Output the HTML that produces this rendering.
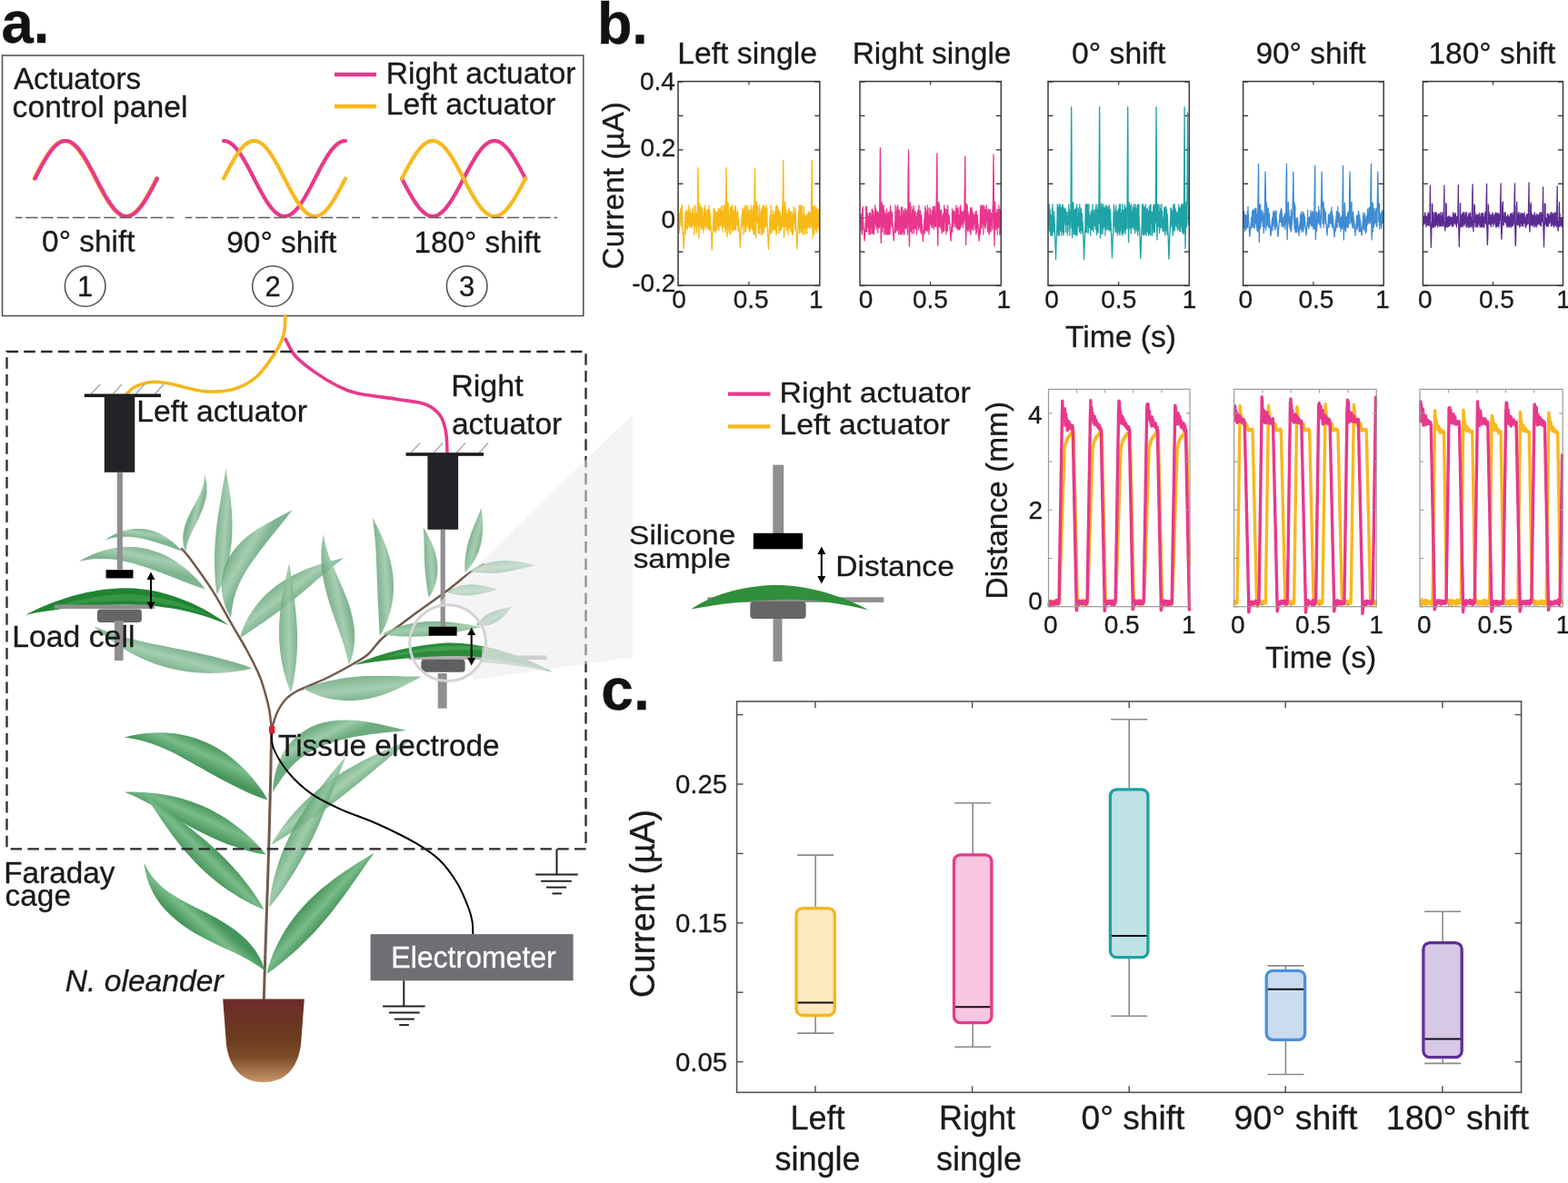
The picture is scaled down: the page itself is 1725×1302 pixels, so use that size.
<!DOCTYPE html><html><head><meta charset="utf-8"><style>html,body{margin:0;padding:0;background:#fff}svg{display:block}</style></head><body><svg width="1725" height="1302" viewBox="0 0 1725 1302" font-family="Liberation Sans, Arial, sans-serif"><text x="1.6" y="47.3" font-size="64" font-weight="bold" fill="#111" stroke="#111" stroke-width="0.3" textLength="52.8" lengthAdjust="spacingAndGlyphs" >a.</text>
<rect x="2.5" y="61" width="639.3" height="286.6" fill="none" stroke="#555" stroke-width="1.6"/>
<text x="14.9" y="97.6" font-size="33" fill="#1a1a1a" stroke="#1a1a1a" stroke-width="0.3" textLength="140.3" lengthAdjust="spacingAndGlyphs" >Actuators</text>
<text x="13.6" y="128.6" font-size="33" fill="#1a1a1a" stroke="#1a1a1a" stroke-width="0.3" textLength="193.0" lengthAdjust="spacingAndGlyphs" >control panel</text>
<line x1="368.0" y1="82.0" x2="414.0" y2="82.0" stroke="#e8388c" stroke-width="4.5" />
<line x1="368.0" y1="117.0" x2="414.0" y2="117.0" stroke="#f8b81f" stroke-width="4.5" />
<text x="424.8" y="91.8" font-size="33" fill="#1a1a1a" stroke="#1a1a1a" stroke-width="0.3" textLength="208.7" lengthAdjust="spacingAndGlyphs" >Right actuator</text>
<text x="424.8" y="126.3" font-size="33" fill="#1a1a1a" stroke="#1a1a1a" stroke-width="0.3" textLength="186.7" lengthAdjust="spacingAndGlyphs" >Left actuator</text>
<polyline points="38.5,196.5 40.2,193.2 41.9,190.0 43.5,186.8 45.2,183.7 46.9,180.6 48.6,177.7 50.3,174.8 52.0,172.1 53.6,169.5 55.3,167.2 57.0,164.9 58.7,162.9 60.4,161.1 62.0,159.5 63.7,158.2 65.4,157.0 67.1,156.1 68.8,155.5 70.4,155.1 72.1,155.0 73.8,155.1 75.5,155.5 77.2,156.1 78.8,157.0 80.5,158.2 82.2,159.5 83.9,161.1 85.6,162.9 87.3,164.9 88.9,167.2 90.6,169.5 92.3,172.1 94.0,174.8 95.7,177.7 97.3,180.6 99.0,183.7 100.7,186.8 102.4,190.0 104.1,193.2 105.8,196.5 107.4,199.8 109.1,203.0 110.8,206.2 112.5,209.3 114.2,212.4 115.8,215.3 117.5,218.2 119.2,220.9 120.9,223.5 122.6,225.8 124.2,228.1 125.9,230.1 127.6,231.9 129.3,233.5 131.0,234.8 132.6,236.0 134.3,236.9 136.0,237.5 137.7,237.9 139.4,238.0 141.1,237.9 142.7,237.5 144.4,236.9 146.1,236.0 147.8,234.8 149.5,233.5 151.1,231.9 152.8,230.1 154.5,228.1 156.2,225.8 157.9,223.5 159.6,220.9 161.2,218.2 162.9,215.3 164.6,212.4 166.3,209.3 168.0,206.2 169.6,203.0 171.3,199.8 173.0,196.5" fill="none" stroke="#f8b81f" stroke-width="4.2" stroke-linejoin="round" stroke-linecap="round" transform="translate(-1,0)"/>
<polyline points="38.5,196.5 40.2,193.2 41.9,190.0 43.5,186.8 45.2,183.7 46.9,180.6 48.6,177.7 50.3,174.8 52.0,172.1 53.6,169.5 55.3,167.2 57.0,164.9 58.7,162.9 60.4,161.1 62.0,159.5 63.7,158.2 65.4,157.0 67.1,156.1 68.8,155.5 70.4,155.1 72.1,155.0 73.8,155.1 75.5,155.5 77.2,156.1 78.8,157.0 80.5,158.2 82.2,159.5 83.9,161.1 85.6,162.9 87.3,164.9 88.9,167.2 90.6,169.5 92.3,172.1 94.0,174.8 95.7,177.7 97.3,180.6 99.0,183.7 100.7,186.8 102.4,190.0 104.1,193.2 105.8,196.5 107.4,199.8 109.1,203.0 110.8,206.2 112.5,209.3 114.2,212.4 115.8,215.3 117.5,218.2 119.2,220.9 120.9,223.5 122.6,225.8 124.2,228.1 125.9,230.1 127.6,231.9 129.3,233.5 131.0,234.8 132.6,236.0 134.3,236.9 136.0,237.5 137.7,237.9 139.4,238.0 141.1,237.9 142.7,237.5 144.4,236.9 146.1,236.0 147.8,234.8 149.5,233.5 151.1,231.9 152.8,230.1 154.5,228.1 156.2,225.8 157.9,223.5 159.6,220.9 161.2,218.2 162.9,215.3 164.6,212.4 166.3,209.3 168.0,206.2 169.6,203.0 171.3,199.8 173.0,196.5" fill="none" stroke="#e8388c" stroke-width="4.2" stroke-linejoin="round" stroke-linecap="round"/>
<polyline points="246.0,155.0 247.7,155.1 249.3,155.5 251.0,156.1 252.7,157.0 254.4,158.2 256.1,159.5 257.7,161.1 259.4,162.9 261.1,164.9 262.8,167.2 264.4,169.5 266.1,172.1 267.8,174.8 269.4,177.7 271.1,180.6 272.8,183.7 274.5,186.8 276.1,190.0 277.8,193.2 279.5,196.5 281.2,199.8 282.9,203.0 284.5,206.2 286.2,209.3 287.9,212.4 289.6,215.3 291.2,218.2 292.9,220.9 294.6,223.5 296.2,225.8 297.9,228.1 299.6,230.1 301.3,231.9 302.9,233.5 304.6,234.8 306.3,236.0 308.0,236.9 309.6,237.5 311.3,237.9 313.0,238.0 314.7,237.9 316.4,237.5 318.0,236.9 319.7,236.0 321.4,234.8 323.1,233.5 324.7,231.9 326.4,230.1 328.1,228.1 329.8,225.8 331.4,223.5 333.1,220.9 334.8,218.2 336.4,215.3 338.1,212.4 339.8,209.3 341.5,206.2 343.1,203.0 344.8,199.8 346.5,196.5 348.2,193.2 349.9,190.0 351.5,186.8 353.2,183.7 354.9,180.6 356.6,177.7 358.2,174.8 359.9,172.1 361.6,169.5 363.2,167.2 364.9,164.9 366.6,162.9 368.3,161.1 369.9,159.5 371.6,158.2 373.3,157.0 375.0,156.1 376.6,155.5 378.3,155.1 380.0,155.0" fill="none" stroke="#e8388c" stroke-width="4.2" stroke-linejoin="round" stroke-linecap="round"/>
<polyline points="246.0,196.5 247.7,193.2 249.3,190.0 251.0,186.8 252.7,183.7 254.4,180.6 256.1,177.7 257.7,174.8 259.4,172.1 261.1,169.5 262.8,167.2 264.4,164.9 266.1,162.9 267.8,161.1 269.4,159.5 271.1,158.2 272.8,157.0 274.5,156.1 276.1,155.5 277.8,155.1 279.5,155.0 281.2,155.1 282.9,155.5 284.5,156.1 286.2,157.0 287.9,158.2 289.6,159.5 291.2,161.1 292.9,162.9 294.6,164.9 296.2,167.2 297.9,169.5 299.6,172.1 301.3,174.8 302.9,177.7 304.6,180.6 306.3,183.7 308.0,186.8 309.6,190.0 311.3,193.2 313.0,196.5 314.7,199.8 316.4,203.0 318.0,206.2 319.7,209.3 321.4,212.4 323.1,215.3 324.7,218.2 326.4,220.9 328.1,223.5 329.8,225.8 331.4,228.1 333.1,230.1 334.8,231.9 336.4,233.5 338.1,234.8 339.8,236.0 341.5,236.9 343.1,237.5 344.8,237.9 346.5,238.0 348.2,237.9 349.9,237.5 351.5,236.9 353.2,236.0 354.9,234.8 356.6,233.5 358.2,231.9 359.9,230.1 361.6,228.1 363.2,225.8 364.9,223.5 366.6,220.9 368.3,218.2 369.9,215.3 371.6,212.4 373.3,209.3 375.0,206.2 376.6,203.0 378.3,199.8 380.0,196.5" fill="none" stroke="#f8b81f" stroke-width="4.2" stroke-linejoin="round" stroke-linecap="round"/>
<polyline points="442.0,196.5 443.7,199.8 445.4,203.0 447.1,206.2 448.8,209.3 450.5,212.4 452.2,215.3 453.9,218.2 455.6,220.9 457.3,223.5 459.0,225.8 460.7,228.1 462.4,230.1 464.1,231.9 465.8,233.5 467.5,234.8 469.2,236.0 470.9,236.9 472.6,237.5 474.3,237.9 476.0,238.0 477.7,237.9 479.4,237.5 481.1,236.9 482.8,236.0 484.5,234.8 486.2,233.5 487.9,231.9 489.6,230.1 491.3,228.1 493.0,225.8 494.7,223.5 496.4,220.9 498.1,218.2 499.8,215.3 501.5,212.4 503.2,209.3 504.9,206.2 506.6,203.0 508.3,199.8 510.0,196.5 511.7,193.2 513.4,190.0 515.1,186.8 516.8,183.7 518.5,180.6 520.2,177.7 521.9,174.8 523.6,172.1 525.3,169.5 527.0,167.2 528.7,164.9 530.4,162.9 532.1,161.1 533.8,159.5 535.5,158.2 537.2,157.0 538.9,156.1 540.6,155.5 542.3,155.1 544.0,155.0 545.7,155.1 547.4,155.5 549.1,156.1 550.8,157.0 552.5,158.2 554.2,159.5 555.9,161.1 557.6,162.9 559.3,164.9 561.0,167.2 562.7,169.5 564.4,172.1 566.1,174.8 567.8,177.7 569.5,180.6 571.2,183.7 572.9,186.8 574.6,190.0 576.3,193.2 578.0,196.5" fill="none" stroke="#e8388c" stroke-width="4.2" stroke-linejoin="round" stroke-linecap="round"/>
<polyline points="442.0,196.5 443.7,193.2 445.4,190.0 447.1,186.8 448.8,183.7 450.5,180.6 452.2,177.7 453.9,174.8 455.6,172.1 457.3,169.5 459.0,167.2 460.7,164.9 462.4,162.9 464.1,161.1 465.8,159.5 467.5,158.2 469.2,157.0 470.9,156.1 472.6,155.5 474.3,155.1 476.0,155.0 477.7,155.1 479.4,155.5 481.1,156.1 482.8,157.0 484.5,158.2 486.2,159.5 487.9,161.1 489.6,162.9 491.3,164.9 493.0,167.2 494.7,169.5 496.4,172.1 498.1,174.8 499.8,177.7 501.5,180.6 503.2,183.7 504.9,186.8 506.6,190.0 508.3,193.2 510.0,196.5 511.7,199.8 513.4,203.0 515.1,206.2 516.8,209.3 518.5,212.4 520.2,215.3 521.9,218.2 523.6,220.9 525.3,223.5 527.0,225.8 528.7,228.1 530.4,230.1 532.1,231.9 533.8,233.5 535.5,234.8 537.2,236.0 538.9,236.9 540.6,237.5 542.3,237.9 544.0,238.0 545.7,237.9 547.4,237.5 549.1,236.9 550.8,236.0 552.5,234.8 554.2,233.5 555.9,231.9 557.6,230.1 559.3,228.1 561.0,225.8 562.7,223.5 564.4,220.9 566.1,218.2 567.8,215.3 569.5,212.4 571.2,209.3 572.9,206.2 574.6,203.0 576.3,199.8 578.0,196.5" fill="none" stroke="#f8b81f" stroke-width="4.2" stroke-linejoin="round" stroke-linecap="round"/>
<line x1="17.0" y1="239.5" x2="191.0" y2="239.5" stroke="#5e5e5e" stroke-width="1.7" stroke-dasharray="13.4 3.8" stroke-dashoffset="6"/>
<line x1="204.0" y1="239.5" x2="396.0" y2="239.5" stroke="#5e5e5e" stroke-width="1.7" stroke-dasharray="13.4 3.8" stroke-dashoffset="6"/>
<line x1="409.0" y1="239.5" x2="613.0" y2="239.5" stroke="#5e5e5e" stroke-width="1.7" stroke-dasharray="13.4 3.8" stroke-dashoffset="6"/>
<text x="46.1" y="277.0" font-size="33" fill="#1a1a1a" stroke="#1a1a1a" stroke-width="0.3" textLength="102.4" lengthAdjust="spacingAndGlyphs" >0° shift</text>
<text x="249.2" y="278.0" font-size="33" fill="#1a1a1a" stroke="#1a1a1a" stroke-width="0.3" textLength="121.2" lengthAdjust="spacingAndGlyphs" >90° shift</text>
<text x="455.5" y="278.0" font-size="33" fill="#1a1a1a" stroke="#1a1a1a" stroke-width="0.3" textLength="139.2" lengthAdjust="spacingAndGlyphs" >180° shift</text>
<circle cx="93.7" cy="315" r="22.3" fill="none" stroke="#555" stroke-width="1.6"/>
<text x="93.7" y="326.0" font-size="31" fill="#1a1a1a" stroke="#1a1a1a" stroke-width="0.3" text-anchor="middle" >1</text>
<circle cx="300" cy="315" r="22.3" fill="none" stroke="#555" stroke-width="1.6"/>
<text x="300.0" y="326.0" font-size="31" fill="#1a1a1a" stroke="#1a1a1a" stroke-width="0.3" text-anchor="middle" >2</text>
<circle cx="513.7" cy="315" r="22.3" fill="none" stroke="#555" stroke-width="1.6"/>
<text x="513.7" y="326.0" font-size="31" fill="#1a1a1a" stroke="#1a1a1a" stroke-width="0.3" text-anchor="middle" >3</text>
<path d="M313.8,347.7 C313.7,350.1 313.8,357.8 313.2,362.0 C312.6,366.2 312.2,368.7 310.5,373.0 C308.8,377.3 307.6,381.2 303.0,388.0 C298.4,394.8 290.5,407.3 283.0,414.0 C275.5,420.7 266.9,425.2 258.0,428.0 C249.1,430.8 238.3,431.2 229.6,431.0 C220.9,430.8 213.3,428.5 206.0,427.0 C198.7,425.5 192.7,423.1 186.0,422.0 C179.3,420.9 172.3,419.8 166.0,420.5 C159.7,421.2 152.5,423.8 148.0,426.0 C143.5,428.2 140.5,432.7 139.0,434.0" fill="none" stroke="#f5b51d" stroke-width="3.6" stroke-linecap="round"/>
<path d="M313.5,372.0 C315.4,375.3 319.5,385.7 325.0,392.0 C330.5,398.3 338.9,404.3 346.4,409.6 C353.9,414.9 362.3,420.1 370.0,424.0 C377.7,427.9 381.3,430.2 392.8,432.8 C404.3,435.4 426.6,437.7 439.1,439.7 C451.6,441.7 460.5,442.1 468.0,445.0 C475.5,447.9 480.2,452.0 484.0,457.0 C487.8,462.0 489.2,468.2 490.5,475.0 C491.8,481.8 491.8,494.2 492.0,498.0" fill="none" stroke="#e8388c" stroke-width="3.6"/>
<path d="M298.9,803.0 C298.4,799.2 297.5,787.7 296.0,780.0 C294.5,772.3 292.0,763.5 290.0,757.0 C288.0,750.5 287.3,747.7 284.2,740.8 C281.1,733.9 276.6,724.8 271.5,715.5 C266.4,706.2 260.1,696.0 253.8,685.0 C247.5,674.0 240.8,661.1 233.5,649.6 C226.2,638.1 215.6,623.6 210.0,616.0 C204.4,608.4 201.7,606.0 200.0,604.0" fill="none" stroke="#6f5a4c" stroke-width="2.5" stroke-linecap="round"/>
<path d="M299.5,800.0 C300.4,797.3 302.6,789.0 305.0,784.0 C307.4,779.0 310.5,773.8 314.0,770.0 C317.5,766.2 321.3,763.7 326.0,761.0 C330.7,758.3 336.0,756.7 342.0,754.0 C348.0,751.3 354.3,748.8 362.0,745.0 C369.7,741.2 380.8,735.2 388.0,731.0 C395.2,726.8 399.7,724.7 405.0,720.0 C410.3,715.3 414.2,708.3 420.0,703.0 C425.8,697.7 433.3,693.0 440.0,688.0 C446.7,683.0 451.7,679.0 460.0,673.0 C468.3,667.0 480.0,659.0 489.6,651.8 C499.2,644.6 510.5,634.9 517.6,629.8 C524.7,624.7 529.6,622.5 532.0,621.0" fill="none" stroke="#6f5a4c" stroke-width="2.5" stroke-linecap="round"/>
<path d="M298.7,803.0 C298.5,812.5 298.1,838.8 297.6,860.0 C297.1,881.2 296.5,906.7 295.8,930.0 C295.1,953.3 294.2,978.3 293.5,1000.0 C292.8,1021.7 292.0,1043.3 291.5,1060.0 C291.0,1076.7 290.5,1093.3 290.3,1100.0" fill="none" stroke="#6f5a4c" stroke-width="3" />
<defs><linearGradient id="lg1" gradientUnits="userSpaceOnUse" x1="158.5" y1="593.3" x2="160.0" y2="582.4"><stop offset="0" stop-color="#6aa87e"/><stop offset="0.55" stop-color="#97c6a3"/><stop offset="1" stop-color="#6aa87e"/></linearGradient></defs>
<path d="M200.0,606.4 L197.3,603.3 L194.4,600.4 L191.5,597.7 L188.4,595.2 L185.2,592.9 L181.9,590.7 L178.5,588.8 L175.0,587.1 L171.4,585.6 L167.8,584.3 L164.1,583.3 L160.3,582.5 L156.5,582.1 L152.6,581.9 L148.7,581.9 L144.9,582.3 L141.0,582.9 L137.2,583.8 L133.4,585.0 L129.7,586.4 L125.9,588.1 L122.3,590.0 L118.6,592.2 L115.0,594.6 L115.0,594.6 L119.1,593.3 L123.1,592.3 L127.1,591.6 L130.9,591.0 L134.6,590.8 L138.2,590.7 L141.7,590.8 L145.1,591.0 L148.4,591.4 L151.7,591.9 L155.0,592.5 L158.2,593.2 L161.5,594.0 L164.7,594.8 L168.0,595.8 L171.3,596.7 L174.6,597.8 L178.0,598.9 L181.5,600.1 L185.0,601.3 L188.6,602.6 L192.3,603.9 L196.1,605.2 L200.0,606.4Z" fill="url(#lg1)" opacity="0.86"/>
<defs><linearGradient id="lg2" gradientUnits="userSpaceOnUse" x1="158.4" y1="623.8" x2="162.8" y2="604.3"><stop offset="0" stop-color="#6aa87e"/><stop offset="0.55" stop-color="#97c6a3"/><stop offset="1" stop-color="#6aa87e"/></linearGradient></defs>
<path d="M225.8,648.4 L221.7,643.0 L217.3,638.1 L212.7,633.4 L207.9,628.9 L203.0,624.8 L197.8,620.9 L192.5,617.3 L187.0,614.0 L181.3,611.1 L175.4,608.5 L169.5,606.4 L163.3,604.6 L157.1,603.2 L150.7,602.3 L144.3,601.9 L137.9,601.9 L131.4,602.3 L125.0,603.2 L118.6,604.6 L112.2,606.4 L105.8,608.6 L99.5,611.3 L93.2,614.3 L87.0,617.8 L87.0,617.8 L93.9,616.4 L100.7,615.6 L107.2,615.1 L113.5,615.0 L119.6,615.3 L125.4,615.8 L131.1,616.6 L136.7,617.7 L142.1,618.9 L147.4,620.3 L152.7,621.9 L157.9,623.5 L163.1,625.3 L168.3,627.2 L173.6,629.1 L179.0,631.1 L184.4,633.2 L189.9,635.3 L195.6,637.5 L201.3,639.7 L207.2,642.0 L213.2,644.2 L219.4,646.5 L225.8,648.4Z" fill="url(#lg2)" opacity="0.86"/>
<defs><linearGradient id="lg3" gradientUnits="userSpaceOnUse" x1="184.3" y1="735.1" x2="190.2" y2="712.8"><stop offset="0" stop-color="#6aa87e"/><stop offset="0.55" stop-color="#97c6a3"/><stop offset="1" stop-color="#6aa87e"/></linearGradient></defs>
<path d="M277.4,735.5 L269.9,732.6 L262.5,730.2 L255.0,728.0 L247.6,725.9 L240.3,724.0 L233.0,722.1 L225.7,720.4 L218.4,718.8 L211.2,717.2 L204.1,715.7 L196.9,714.3 L189.8,712.9 L182.6,711.5 L175.5,710.1 L168.4,708.7 L161.2,707.2 L154.1,705.6 L146.9,703.8 L139.6,702.0 L132.4,699.9 L125.1,697.6 L117.8,695.1 L110.5,692.3 L103.2,689.2 L103.2,689.2 L109.2,694.5 L115.3,699.6 L121.6,704.4 L128.1,709.0 L134.7,713.3 L141.4,717.3 L148.3,721.0 L155.4,724.4 L162.5,727.6 L169.8,730.4 L177.2,732.8 L184.7,735.0 L192.2,736.8 L199.8,738.3 L207.5,739.4 L215.2,740.3 L222.9,740.8 L230.7,740.9 L238.5,740.8 L246.2,740.4 L254.0,739.7 L261.8,738.7 L269.6,737.4 L277.4,735.5Z" fill="url(#lg3)" opacity="0.86"/>
<defs><linearGradient id="lg4" gradientUnits="userSpaceOnUse" x1="209.9" y1="563.4" x2="220.6" y2="565.9"><stop offset="0" stop-color="#6aa87e"/><stop offset="0.55" stop-color="#97c6a3"/><stop offset="1" stop-color="#6aa87e"/></linearGradient></defs>
<path d="M204.3,607.5 L205.0,603.5 L205.8,599.9 L206.9,596.4 L208.0,593.1 L209.3,589.8 L210.7,586.6 L212.2,583.5 L213.7,580.3 L215.3,577.1 L216.9,573.8 L218.5,570.4 L220.1,567.0 L221.6,563.5 L223.0,559.9 L224.3,556.3 L225.4,552.5 L226.4,548.8 L227.0,544.9 L227.5,541.0 L227.6,537.1 L227.4,533.2 L226.9,529.3 L226.0,525.4 L224.7,521.5 L224.7,521.5 L224.7,525.5 L224.4,529.3 L223.8,533.0 L222.8,536.4 L221.7,539.8 L220.4,543.1 L218.9,546.3 L217.3,549.4 L215.6,552.6 L213.9,555.8 L212.1,559.0 L210.3,562.3 L208.6,565.7 L207.0,569.2 L205.5,572.7 L204.1,576.4 L203.0,580.1 L202.1,583.9 L201.5,587.8 L201.2,591.8 L201.3,595.8 L201.8,599.8 L202.7,603.7 L204.3,607.5Z" fill="url(#lg4)" opacity="0.86"/>
<defs><linearGradient id="lg5" gradientUnits="userSpaceOnUse" x1="237.6" y1="585.0" x2="255.5" y2="586.3"><stop offset="0" stop-color="#6aa87e"/><stop offset="0.55" stop-color="#97c6a3"/><stop offset="1" stop-color="#6aa87e"/></linearGradient></defs>
<path d="M238.7,654.8 L241.4,649.3 L243.7,643.8 L245.8,638.2 L247.6,632.5 L249.3,626.8 L250.7,621.1 L252.0,615.4 L253.0,609.6 L253.9,603.8 L254.6,598.0 L255.1,592.1 L255.4,586.3 L255.5,580.4 L255.5,574.6 L255.3,568.7 L255.0,562.8 L254.5,556.9 L253.9,551.1 L253.2,545.2 L252.4,539.4 L251.5,533.5 L250.5,527.7 L249.5,521.9 L248.4,516.1 L248.4,516.1 L247.5,521.9 L246.5,527.7 L245.5,533.5 L244.5,539.3 L243.5,545.0 L242.6,550.8 L241.6,556.5 L240.7,562.2 L239.8,567.9 L239.0,573.6 L238.3,579.3 L237.7,585.0 L237.2,590.7 L236.7,596.5 L236.4,602.2 L236.1,607.9 L236.0,613.7 L236.0,619.4 L236.1,625.2 L236.3,631.1 L236.7,636.9 L237.1,642.8 L237.7,648.8 L238.7,654.8Z" fill="url(#lg5)" opacity="0.86"/>
<defs><linearGradient id="lg6" gradientUnits="userSpaceOnUse" x1="258.4" y1="604.0" x2="279.3" y2="615.8"><stop offset="0" stop-color="#6aa87e"/><stop offset="0.55" stop-color="#97c6a3"/><stop offset="1" stop-color="#6aa87e"/></linearGradient></defs>
<path d="M254.0,680.0 L255.0,672.2 L256.1,665.2 L257.5,658.8 L259.2,653.0 L261.1,647.7 L263.1,642.8 L265.3,638.2 L267.6,633.9 L270.1,629.6 L272.6,625.5 L275.3,621.3 L278.2,617.1 L281.2,612.9 L284.4,608.6 L287.7,604.2 L291.2,599.7 L294.9,595.1 L298.6,590.4 L302.4,585.7 L306.2,580.9 L310.1,576.1 L314.0,571.2 L317.8,566.3 L321.5,561.3 L321.5,561.3 L316.0,564.2 L310.5,567.1 L305.0,570.0 L299.5,572.9 L294.1,575.9 L288.7,579.0 L283.4,582.3 L278.2,585.8 L273.1,589.6 L268.3,593.6 L263.8,598.0 L259.5,602.7 L255.6,607.7 L252.1,613.1 L249.1,618.9 L246.7,625.0 L245.0,631.5 L243.9,638.1 L243.6,644.9 L244.0,651.9 L245.3,658.9 L247.3,666.0 L250.1,673.0 L254.0,680.0Z" fill="url(#lg6)" opacity="0.86"/>
<defs><linearGradient id="lg7" gradientUnits="userSpaceOnUse" x1="308.2" y1="641.4" x2="322.8" y2="660.4"><stop offset="0" stop-color="#6aa87e"/><stop offset="0.55" stop-color="#97c6a3"/><stop offset="1" stop-color="#6aa87e"/></linearGradient></defs>
<path d="M264.0,702.0 L269.7,698.6 L275.0,695.0 L280.2,691.5 L285.2,688.1 L290.1,684.7 L295.0,681.3 L299.7,677.9 L304.4,674.4 L309.0,671.0 L313.5,667.5 L318.0,664.0 L322.5,660.4 L327.0,656.7 L331.5,653.0 L335.9,649.2 L340.4,645.4 L345.0,641.5 L349.5,637.6 L354.1,633.7 L358.8,629.7 L363.5,625.8 L368.3,621.8 L373.1,617.9 L378.0,614.0 L378.0,614.0 L371.9,615.5 L365.8,617.1 L359.8,618.8 L353.8,620.6 L347.8,622.5 L341.9,624.6 L336.1,626.8 L330.3,629.3 L324.7,632.0 L319.1,634.9 L313.7,638.0 L308.5,641.4 L303.4,645.0 L298.5,648.9 L293.8,653.1 L289.3,657.5 L285.1,662.2 L281.1,667.2 L277.4,672.4 L274.0,677.8 L270.9,683.5 L268.1,689.4 L265.8,695.5 L264.0,702.0Z" fill="url(#lg7)" opacity="0.86"/>
<defs><linearGradient id="lg8" gradientUnits="userSpaceOnUse" x1="306.9" y1="690.8" x2="326.9" y2="690.6"><stop offset="0" stop-color="#6aa87e"/><stop offset="0.55" stop-color="#97c6a3"/><stop offset="1" stop-color="#6aa87e"/></linearGradient></defs>
<path d="M320.0,762.0 L321.7,755.9 L322.9,749.9 L323.9,743.9 L324.8,737.9 L325.5,732.0 L326.1,726.0 L326.6,720.1 L326.9,714.2 L327.0,708.3 L327.1,702.4 L327.0,696.5 L326.8,690.6 L326.4,684.7 L326.0,678.8 L325.4,672.9 L324.8,667.0 L324.1,661.1 L323.3,655.2 L322.5,649.3 L321.7,643.3 L320.8,637.4 L320.0,631.4 L319.1,625.4 L318.3,619.4 L318.3,619.4 L316.9,625.3 L315.5,631.2 L314.2,637.1 L313.0,643.1 L311.8,649.0 L310.7,654.9 L309.8,660.9 L308.9,666.9 L308.2,672.9 L307.7,678.9 L307.3,684.8 L307.0,690.8 L307.0,696.8 L307.1,702.8 L307.5,708.8 L308.0,714.8 L308.7,720.8 L309.7,726.7 L310.8,732.7 L312.1,738.6 L313.7,744.5 L315.5,750.4 L317.5,756.2 L320.0,762.0Z" fill="url(#lg8)" opacity="0.86"/>
<defs><linearGradient id="lg9" gradientUnits="userSpaceOnUse" x1="361.5" y1="661.4" x2="381.1" y2="657.6"><stop offset="0" stop-color="#6aa87e"/><stop offset="0.55" stop-color="#97c6a3"/><stop offset="1" stop-color="#6aa87e"/></linearGradient></defs>
<path d="M383.8,731.7 L386.5,725.5 L388.3,719.1 L389.4,712.6 L390.1,706.1 L390.2,699.6 L389.9,693.1 L389.1,686.7 L388.0,680.4 L386.5,674.2 L384.8,668.1 L382.8,662.1 L380.6,656.3 L378.3,650.6 L375.9,644.9 L373.5,639.3 L371.0,633.8 L368.6,628.3 L366.2,622.8 L364.0,617.3 L361.8,611.7 L359.9,606.0 L358.3,600.1 L356.9,594.1 L355.9,587.9 L355.9,587.9 L354.7,594.2 L353.8,600.5 L353.4,606.8 L353.3,613.2 L353.5,619.6 L354.0,625.9 L354.8,632.2 L355.9,638.5 L357.2,644.7 L358.6,650.8 L360.3,656.8 L362.0,662.7 L363.9,668.5 L365.8,674.3 L367.8,679.9 L369.8,685.5 L371.8,691.0 L373.7,696.5 L375.7,702.0 L377.5,707.6 L379.2,713.3 L380.8,719.1 L382.3,725.2 L383.8,731.7Z" fill="url(#lg9)" opacity="0.86"/>
<defs><linearGradient id="lg10" gradientUnits="userSpaceOnUse" x1="414.5" y1="634.8" x2="432.5" y2="633.7"><stop offset="0" stop-color="#6aa87e"/><stop offset="0.55" stop-color="#97c6a3"/><stop offset="1" stop-color="#6aa87e"/></linearGradient></defs>
<path d="M417.8,699.7 L421.0,694.6 L423.6,689.3 L425.8,684.0 L427.8,678.5 L429.4,673.0 L430.8,667.4 L431.8,661.8 L432.5,656.2 L432.9,650.5 L433.0,644.9 L432.8,639.2 L432.4,633.6 L431.6,628.0 L430.6,622.5 L429.4,617.0 L427.9,611.5 L426.2,606.1 L424.4,600.8 L422.3,595.5 L420.1,590.3 L417.7,585.2 L415.2,580.1 L412.5,575.0 L409.8,570.0 L409.8,570.0 L410.6,575.6 L411.3,581.2 L411.9,586.8 L412.5,592.3 L412.9,597.8 L413.3,603.2 L413.6,608.6 L413.9,613.9 L414.1,619.2 L414.3,624.5 L414.5,629.7 L414.7,634.9 L414.9,640.1 L415.1,645.3 L415.3,650.5 L415.5,655.7 L415.7,660.9 L416.0,666.2 L416.3,671.5 L416.5,676.9 L416.8,682.4 L417.0,688.0 L417.3,693.8 L417.8,699.7Z" fill="url(#lg10)" opacity="0.86"/>
<defs><linearGradient id="lg11" gradientUnits="userSpaceOnUse" x1="467.0" y1="619.0" x2="480.9" y2="618.0"><stop offset="0" stop-color="#6aa87e"/><stop offset="0.55" stop-color="#97c6a3"/><stop offset="1" stop-color="#6aa87e"/></linearGradient></defs>
<path d="M471.7,657.8 L473.8,654.8 L475.6,651.6 L477.0,648.4 L478.3,645.1 L479.3,641.7 L480.2,638.3 L480.8,634.9 L481.2,631.5 L481.4,628.1 L481.4,624.6 L481.2,621.2 L480.8,617.8 L480.2,614.5 L479.5,611.1 L478.6,607.9 L477.6,604.6 L476.4,601.4 L475.2,598.2 L473.8,595.1 L472.3,592.0 L470.7,589.0 L469.1,585.9 L467.4,583.0 L465.7,580.0 L465.7,580.0 L465.9,583.4 L466.1,586.8 L466.3,590.2 L466.4,593.5 L466.5,596.8 L466.5,600.1 L466.6,603.4 L466.7,606.6 L466.7,609.8 L466.8,612.9 L466.9,616.1 L467.1,619.2 L467.2,622.2 L467.4,625.3 L467.7,628.4 L468.0,631.5 L468.3,634.6 L468.7,637.7 L469.1,640.9 L469.5,644.1 L469.9,647.4 L470.4,650.8 L471.0,654.2 L471.7,657.8Z" fill="url(#lg11)" opacity="0.86"/>
<defs><linearGradient id="lg12" gradientUnits="userSpaceOnUse" x1="516.0" y1="593.2" x2="529.6" y2="596.7"><stop offset="0" stop-color="#6aa87e"/><stop offset="0.55" stop-color="#97c6a3"/><stop offset="1" stop-color="#6aa87e"/></linearGradient></defs>
<path d="M511.6,629.8 L514.1,627.5 L516.2,625.0 L518.2,622.4 L520.0,619.7 L521.7,617.0 L523.2,614.3 L524.6,611.5 L525.9,608.6 L527.0,605.7 L527.9,602.7 L528.8,599.7 L529.5,596.7 L530.0,593.6 L530.5,590.5 L530.8,587.4 L531.0,584.2 L531.1,581.1 L531.1,577.9 L531.0,574.8 L530.8,571.6 L530.6,568.5 L530.3,565.3 L530.0,562.1 L529.6,559.0 L529.6,559.0 L528.4,561.9 L527.2,564.8 L526.0,567.7 L524.8,570.6 L523.6,573.5 L522.4,576.3 L521.2,579.1 L520.1,581.9 L519.0,584.8 L518.0,587.6 L517.0,590.4 L516.1,593.3 L515.3,596.1 L514.5,599.0 L513.8,601.9 L513.2,604.8 L512.7,607.8 L512.2,610.8 L511.9,613.8 L511.6,616.9 L511.4,620.0 L511.3,623.2 L511.3,626.4 L511.6,629.8Z" fill="url(#lg12)" opacity="0.86"/>
<defs><linearGradient id="lg13" gradientUnits="userSpaceOnUse" x1="398.1" y1="744.1" x2="400.7" y2="770.0"><stop offset="0" stop-color="#6aa87e"/><stop offset="0.55" stop-color="#97c6a3"/><stop offset="1" stop-color="#6aa87e"/></linearGradient></defs>
<path d="M333.9,757.6 L339.2,760.8 L344.6,763.3 L350.1,765.5 L355.7,767.2 L361.3,768.7 L366.9,769.8 L372.6,770.6 L378.3,771.1 L384.0,771.2 L389.6,771.0 L395.2,770.6 L400.8,769.8 L406.4,768.8 L411.9,767.5 L417.3,765.9 L422.7,764.2 L428.0,762.2 L433.3,760.1 L438.5,757.8 L443.6,755.3 L448.7,752.8 L453.7,750.1 L458.7,747.4 L463.7,744.6 L463.7,744.6 L458.0,744.6 L452.4,744.5 L446.7,744.4 L441.1,744.3 L435.6,744.1 L430.1,744.0 L424.6,743.9 L419.2,743.9 L413.8,743.9 L408.5,743.9 L403.2,744.1 L398.0,744.3 L392.8,744.7 L387.5,745.2 L382.4,745.8 L377.2,746.5 L371.9,747.4 L366.7,748.4 L361.4,749.5 L356.1,750.8 L350.7,752.2 L345.2,753.7 L339.6,755.4 L333.9,757.6Z" fill="url(#lg13)" opacity="0.86"/>
<defs><linearGradient id="lg14" gradientUnits="userSpaceOnUse" x1="474.3" y1="683.8" x2="475.4" y2="699.7"><stop offset="0" stop-color="#6aa87e"/><stop offset="0.55" stop-color="#97c6a3"/><stop offset="1" stop-color="#6aa87e"/></linearGradient></defs>
<path d="M420.0,698.0 L424.8,698.8 L429.6,699.4 L434.2,699.8 L438.9,700.2 L443.5,700.4 L448.1,700.6 L452.6,700.7 L457.2,700.6 L461.7,700.5 L466.3,700.3 L470.8,700.0 L475.3,699.6 L479.8,699.1 L484.4,698.6 L488.9,697.9 L493.4,697.2 L498.0,696.5 L502.5,695.6 L507.1,694.8 L511.7,693.8 L516.3,692.9 L520.8,691.9 L525.4,691.0 L530.0,690.0 L530.0,690.0 L525.4,689.2 L520.8,688.4 L516.1,687.6 L511.5,686.9 L506.9,686.2 L502.3,685.6 L497.6,685.0 L493.0,684.6 L488.3,684.2 L483.7,684.0 L479.0,683.9 L474.4,683.9 L469.7,684.1 L465.1,684.4 L460.4,684.9 L455.8,685.6 L451.2,686.5 L446.6,687.5 L442.1,688.7 L437.6,690.1 L433.1,691.7 L428.6,693.5 L424.3,695.5 L420.0,698.0Z" fill="url(#lg14)" opacity="0.86"/>
<defs><linearGradient id="lg15" gradientUnits="userSpaceOnUse" x1="552.2" y1="617.0" x2="553.5" y2="630.0"><stop offset="0" stop-color="#6aa87e"/><stop offset="0.55" stop-color="#97c6a3"/><stop offset="1" stop-color="#6aa87e"/></linearGradient></defs>
<path d="M517.6,628.8 L520.8,629.5 L523.9,629.9 L527.0,630.3 L530.0,630.5 L533.0,630.7 L536.0,630.8 L538.9,630.9 L541.8,630.8 L544.7,630.7 L547.6,630.5 L550.5,630.2 L553.4,629.9 L556.3,629.4 L559.2,629.0 L562.1,628.4 L565.0,627.8 L567.9,627.1 L570.8,626.5 L573.7,625.7 L576.7,625.0 L579.6,624.2 L582.6,623.4 L585.5,622.7 L588.5,621.9 L588.5,621.9 L585.5,621.2 L582.5,620.6 L579.5,619.9 L576.5,619.3 L573.5,618.8 L570.5,618.3 L567.5,617.8 L564.4,617.5 L561.4,617.2 L558.4,617.1 L555.3,617.0 L552.3,617.1 L549.3,617.3 L546.3,617.6 L543.3,618.1 L540.3,618.6 L537.3,619.4 L534.4,620.2 L531.5,621.3 L528.6,622.4 L525.8,623.7 L523.0,625.2 L520.2,626.8 L517.6,628.8Z" fill="url(#lg15)" opacity="0.86"/>
<defs><linearGradient id="lg16" gradientUnits="userSpaceOnUse" x1="519.2" y1="643.2" x2="519.8" y2="655.2"><stop offset="0" stop-color="#6aa87e"/><stop offset="0.55" stop-color="#97c6a3"/><stop offset="1" stop-color="#6aa87e"/></linearGradient></defs>
<path d="M491.6,651.8 L494.1,652.7 L496.5,653.3 L498.9,653.9 L501.3,654.3 L503.6,654.7 L506.0,655.0 L508.3,655.2 L510.6,655.3 L512.9,655.4 L515.2,655.4 L517.4,655.3 L519.7,655.1 L522.0,654.8 L524.3,654.5 L526.6,654.1 L528.9,653.7 L531.2,653.2 L533.5,652.6 L535.8,652.0 L538.2,651.4 L540.5,650.8 L542.8,650.1 L545.2,649.5 L547.5,648.8 L547.5,648.8 L545.2,648.1 L542.8,647.5 L540.5,646.8 L538.1,646.2 L535.8,645.6 L533.4,645.1 L531.1,644.6 L528.7,644.2 L526.4,643.8 L524.0,643.5 L521.6,643.4 L519.3,643.3 L516.9,643.3 L514.5,643.4 L512.1,643.7 L509.8,644.0 L507.4,644.5 L505.1,645.1 L502.8,645.9 L500.5,646.8 L498.2,647.8 L495.9,648.9 L493.7,650.2 L491.6,651.8Z" fill="url(#lg16)" opacity="0.86"/>
<defs><linearGradient id="lg17" gradientUnits="userSpaceOnUse" x1="541.0" y1="673.7" x2="546.5" y2="684.4"><stop offset="0" stop-color="#6aa87e"/><stop offset="0.55" stop-color="#97c6a3"/><stop offset="1" stop-color="#6aa87e"/></linearGradient></defs>
<path d="M523.6,687.7 L525.8,688.3 L527.8,688.5 L529.9,688.7 L531.9,688.6 L533.8,688.5 L535.8,688.3 L537.7,687.9 L539.5,687.4 L541.3,686.8 L543.1,686.1 L544.8,685.3 L546.4,684.3 L548.0,683.3 L549.6,682.2 L551.1,681.0 L552.5,679.8 L553.9,678.4 L555.2,677.0 L556.5,675.6 L557.8,674.1 L559.0,672.5 L560.2,671.0 L561.4,669.4 L562.5,667.8 L562.5,667.8 L560.6,668.3 L558.7,668.8 L556.9,669.2 L555.0,669.6 L553.2,670.1 L551.3,670.5 L549.5,671.0 L547.8,671.5 L546.0,672.0 L544.3,672.6 L542.7,673.2 L541.0,673.8 L539.4,674.5 L537.9,675.3 L536.3,676.2 L534.8,677.1 L533.3,678.1 L531.9,679.2 L530.5,680.4 L529.0,681.6 L527.7,682.9 L526.3,684.4 L524.9,685.9 L523.6,687.7Z" fill="url(#lg17)" opacity="0.86"/>
<defs><linearGradient id="lg18" gradientUnits="userSpaceOnUse" x1="354.0" y1="795.8" x2="364.1" y2="817.6"><stop offset="0" stop-color="#5aa16e"/><stop offset="0.55" stop-color="#8fc49c"/><stop offset="1" stop-color="#5aa16e"/></linearGradient></defs>
<path d="M300.0,872.0 L305.4,863.4 L310.6,855.8 L315.8,849.2 L320.9,843.4 L326.0,838.5 L331.1,834.3 L336.2,830.7 L341.2,827.5 L346.3,824.7 L351.5,822.3 L356.8,820.1 L362.4,818.0 L368.2,816.2 L374.3,814.5 L380.6,812.9 L387.3,811.6 L394.2,810.3 L401.3,809.2 L408.6,808.1 L416.1,807.2 L423.7,806.3 L431.4,805.5 L439.2,804.8 L447.0,804.0 L447.0,804.0 L439.4,802.1 L431.8,800.2 L424.2,798.4 L416.6,796.7 L408.9,795.3 L401.3,794.0 L393.6,793.1 L386.0,792.6 L378.3,792.4 L370.7,792.8 L363.1,793.8 L355.7,795.3 L348.3,797.6 L341.3,800.6 L334.5,804.4 L328.1,809.0 L322.2,814.4 L316.9,820.6 L312.2,827.5 L308.3,835.1 L305.0,843.3 L302.5,852.2 L300.7,861.7 L300.0,872.0Z" fill="url(#lg18)" opacity="0.88"/>
<defs><linearGradient id="lg19" gradientUnits="userSpaceOnUse" x1="365.1" y1="857.5" x2="378.4" y2="875.0"><stop offset="0" stop-color="#5aa16e"/><stop offset="0.55" stop-color="#8fc49c"/><stop offset="1" stop-color="#5aa16e"/></linearGradient></defs>
<path d="M298.4,929.8 L305.8,925.6 L312.8,921.2 L319.7,916.8 L326.5,912.3 L333.2,907.8 L339.8,903.3 L346.4,898.7 L352.8,894.1 L359.3,889.4 L365.6,884.7 L371.9,879.8 L378.2,875.0 L384.4,870.0 L390.6,865.0 L396.8,860.0 L403.0,854.9 L409.2,849.7 L415.4,844.6 L421.6,839.4 L427.8,834.2 L434.1,829.0 L440.4,823.8 L446.8,818.6 L453.2,813.5 L453.2,813.5 L445.6,816.5 L437.9,819.6 L430.3,822.8 L422.8,826.0 L415.3,829.4 L407.9,832.9 L400.5,836.6 L393.3,840.4 L386.1,844.4 L379.0,848.6 L372.1,853.0 L365.3,857.5 L358.7,862.3 L352.2,867.3 L345.8,872.6 L339.7,878.0 L333.7,883.7 L328.0,889.6 L322.4,895.7 L317.1,902.1 L312.0,908.6 L307.1,915.4 L302.5,922.4 L298.4,929.8Z" fill="url(#lg19)" opacity="0.8"/>
<defs><linearGradient id="lg20" gradientUnits="userSpaceOnUse" x1="324.1" y1="908.9" x2="345.5" y2="919.7"><stop offset="0" stop-color="#5aa16e"/><stop offset="0.55" stop-color="#8fc49c"/><stop offset="1" stop-color="#5aa16e"/></linearGradient></defs>
<path d="M296.0,998.8 L301.3,992.6 L306.1,986.2 L310.7,979.8 L315.1,973.3 L319.4,966.8 L323.5,960.2 L327.5,953.6 L331.3,947.0 L335.0,940.2 L338.6,933.4 L342.0,926.6 L345.3,919.7 L348.5,912.7 L351.6,905.7 L354.6,898.6 L357.5,891.4 L360.4,884.2 L363.2,877.0 L366.0,869.8 L368.8,862.5 L371.6,855.2 L374.5,847.8 L377.3,840.5 L380.2,833.2 L380.2,833.2 L375.0,839.1 L369.9,845.1 L364.8,851.1 L359.8,857.2 L354.9,863.4 L350.0,869.6 L345.4,875.9 L340.8,882.3 L336.4,888.8 L332.2,895.4 L328.1,902.1 L324.2,908.9 L320.6,915.9 L317.1,922.9 L313.9,930.0 L310.9,937.2 L308.1,944.6 L305.6,952.0 L303.3,959.5 L301.2,967.2 L299.4,974.9 L297.9,982.7 L296.7,990.7 L296.0,998.8Z" fill="url(#lg20)" opacity="0.85"/>
<defs><linearGradient id="lg21" gradientUnits="userSpaceOnUse" x1="338.2" y1="992.5" x2="359.1" y2="1011.1"><stop offset="0" stop-color="#3f9155"/><stop offset="0.55" stop-color="#74b985"/><stop offset="1" stop-color="#3f9155"/></linearGradient></defs>
<path d="M293.5,1071.8 L300.1,1067.3 L306.2,1062.5 L312.1,1057.7 L317.9,1052.8 L323.5,1047.9 L328.9,1042.9 L334.2,1037.8 L339.4,1032.6 L344.5,1027.4 L349.4,1022.0 L354.2,1016.6 L358.9,1011.0 L363.5,1005.4 L368.1,999.6 L372.5,993.8 L376.9,987.9 L381.3,981.9 L385.6,975.8 L390.0,969.7 L394.3,963.5 L398.6,957.3 L402.9,951.1 L407.3,944.9 L411.7,938.7 L411.7,938.7 L405.2,942.6 L398.7,946.6 L392.2,950.6 L385.8,954.7 L379.4,959.0 L373.2,963.3 L367.0,967.8 L361.0,972.4 L355.1,977.1 L349.4,982.1 L343.8,987.2 L338.4,992.5 L333.3,998.0 L328.3,1003.7 L323.6,1009.6 L319.1,1015.7 L314.8,1022.1 L310.9,1028.6 L307.2,1035.3 L303.7,1042.2 L300.6,1049.2 L297.8,1056.5 L295.3,1064.0 L293.5,1071.8Z" fill="url(#lg21)" opacity="0.96"/>
<defs><linearGradient id="lg22" gradientUnits="userSpaceOnUse" x1="216.9" y1="843.0" x2="228.1" y2="817.4"><stop offset="0" stop-color="#3f9155"/><stop offset="0.55" stop-color="#74b985"/><stop offset="1" stop-color="#3f9155"/></linearGradient></defs>
<path d="M294.4,880.5 L290.5,873.5 L286.1,867.1 L281.5,860.9 L276.6,855.0 L271.5,849.3 L266.1,843.9 L260.5,838.7 L254.7,833.9 L248.6,829.3 L242.2,825.2 L235.6,821.3 L228.8,817.9 L221.8,814.9 L214.5,812.3 L207.1,810.2 L199.6,808.5 L191.9,807.3 L184.2,806.5 L176.4,806.2 L168.5,806.4 L160.6,807.0 L152.7,808.1 L144.8,809.6 L136.8,811.5 L136.8,811.5 L144.8,812.7 L152.5,814.3 L159.8,816.2 L166.9,818.5 L173.7,821.0 L180.2,823.7 L186.5,826.6 L192.6,829.6 L198.6,832.7 L204.5,835.9 L210.4,839.2 L216.2,842.5 L222.1,845.8 L228.0,849.2 L234.0,852.5 L240.1,855.9 L246.3,859.2 L252.7,862.5 L259.2,865.8 L265.8,869.0 L272.6,872.2 L279.6,875.2 L286.8,878.1 L294.4,880.5Z" fill="url(#lg22)" opacity="0.96"/>
<defs><linearGradient id="lg23" gradientUnits="userSpaceOnUse" x1="212.2" y1="911.6" x2="223.1" y2="886.9"><stop offset="0" stop-color="#3f9155"/><stop offset="0.55" stop-color="#74b985"/><stop offset="1" stop-color="#3f9155"/></linearGradient></defs>
<path d="M292.5,940.5 L287.7,934.5 L282.6,929.0 L277.4,923.8 L272.0,918.8 L266.5,914.1 L260.8,909.5 L255.0,905.2 L249.0,901.1 L242.9,897.2 L236.6,893.7 L230.1,890.3 L223.5,887.3 L216.7,884.5 L209.8,882.0 L202.8,879.7 L195.7,877.8 L188.5,876.1 L181.3,874.7 L173.9,873.6 L166.6,872.7 L159.1,872.1 L151.7,871.7 L144.3,871.6 L136.8,871.7 L136.8,871.7 L143.6,874.5 L150.3,877.6 L156.8,880.7 L163.2,884.0 L169.5,887.3 L175.6,890.8 L181.7,894.2 L187.8,897.7 L193.8,901.1 L199.8,904.5 L205.8,907.9 L211.9,911.2 L218.0,914.4 L224.2,917.6 L230.5,920.6 L236.8,923.5 L243.3,926.2 L249.9,928.9 L256.7,931.3 L263.5,933.6 L270.5,935.8 L277.6,937.7 L284.9,939.4 L292.5,940.5Z" fill="url(#lg23)" opacity="0.96"/>
<defs><linearGradient id="lg24" gradientUnits="userSpaceOnUse" x1="214.9" y1="949.5" x2="233.0" y2="930.8"><stop offset="0" stop-color="#3f9155"/><stop offset="0.55" stop-color="#74b985"/><stop offset="1" stop-color="#3f9155"/></linearGradient></defs>
<path d="M290.5,1001.0 L286.6,994.0 L282.4,987.5 L278.0,981.1 L273.5,975.0 L268.8,968.9 L264.1,963.1 L259.2,957.4 L254.1,951.8 L249.0,946.4 L243.7,941.1 L238.3,935.9 L232.8,930.9 L227.2,926.0 L221.5,921.2 L215.6,916.4 L209.7,911.8 L203.7,907.2 L197.7,902.7 L191.5,898.2 L185.4,893.8 L179.2,889.3 L172.9,884.9 L166.7,880.5 L160.5,876.0 L160.5,876.0 L164.6,882.5 L168.8,888.9 L173.0,895.3 L177.2,901.7 L181.6,908.0 L186.0,914.2 L190.5,920.4 L195.2,926.4 L199.9,932.4 L204.8,938.2 L209.9,943.8 L215.1,949.4 L220.4,954.7 L225.9,959.9 L231.6,964.9 L237.4,969.8 L243.4,974.4 L249.6,978.9 L256.0,983.1 L262.5,987.2 L269.1,991.0 L276.0,994.7 L283.0,998.1 L290.5,1001.0Z" fill="url(#lg24)" opacity="0.96"/>
<defs><linearGradient id="lg25" gradientUnits="userSpaceOnUse" x1="210.5" y1="1024.7" x2="227.9" y2="1005.3"><stop offset="0" stop-color="#3f9155"/><stop offset="0.55" stop-color="#74b985"/><stop offset="1" stop-color="#3f9155"/></linearGradient></defs>
<path d="M291.0,1068.0 L288.7,1060.2 L285.2,1052.9 L281.0,1046.1 L276.0,1039.7 L270.6,1033.8 L264.7,1028.4 L258.5,1023.4 L252.0,1018.9 L245.4,1014.7 L238.8,1010.8 L232.1,1007.2 L225.4,1003.8 L218.8,1000.5 L212.4,997.3 L206.1,994.0 L199.9,990.7 L193.9,987.3 L188.1,983.6 L182.4,979.5 L177.0,974.9 L171.8,969.8 L166.9,963.9 L162.4,957.2 L158.4,949.6 L158.4,949.6 L159.7,958.2 L161.7,966.5 L164.5,974.3 L167.9,981.7 L172.0,988.8 L176.7,995.4 L181.9,1001.5 L187.6,1007.3 L193.6,1012.6 L199.9,1017.5 L206.4,1022.0 L213.0,1026.2 L219.7,1030.0 L226.4,1033.6 L233.2,1037.0 L239.8,1040.2 L246.4,1043.3 L252.9,1046.3 L259.3,1049.3 L265.7,1052.5 L271.9,1055.8 L278.2,1059.4 L284.4,1063.5 L291.0,1068.0Z" fill="url(#lg25)" opacity="0.96"/>
<line x1="100.0" y1="434.0" x2="110.0" y2="423.0" stroke="#a7a7a9" stroke-width="1.3" />
<line x1="124.0" y1="434.0" x2="134.0" y2="423.0" stroke="#a7a7a9" stroke-width="1.3" />
<line x1="149.0" y1="434.0" x2="159.0" y2="423.0" stroke="#a7a7a9" stroke-width="1.3" />
<line x1="170.0" y1="434.0" x2="180.0" y2="423.0" stroke="#a7a7a9" stroke-width="1.3" />
<rect x="92.8" y="433.5" width="84.2" height="3.6" fill="#1b1b1b" />
<rect x="114.8" y="435.3" width="33.5" height="84.5" fill="#222326" />
<rect x="128.8" y="519.8" width="6.1" height="107.0" fill="#8f8f91" />
<rect x="116.6" y="627.2" width="29.9" height="9.2" fill="#000" />
<path d="M28,676.8 C70,655 110,647 140,647.3 C185,648 225,668 251.6,688.2 C220,674 185,666 140,665.5 C100,665.5 60,670 28,676.8 Z" fill="#1f8533"/>
<path d="M50,671 C85,659 115,654 140,654 C180,655 212,667 236,680 C208,669 180,662 140,661.5 C105,661.5 78,665 50,671 Z" fill="#3d9e4b" opacity="0.75"/>
<rect x="60.0" y="665.5" width="110.0" height="4.5" fill="#8f8f91" />
<rect x="107" y="670.5" width="48.9" height="14.5" rx="3.5" fill="#666668"/>
<rect x="126.0" y="683.0" width="9.6" height="44.0" fill="#8f8f91" />
<line x1="166.0" y1="634.0" x2="166.0" y2="666.5" stroke="#000" stroke-width="2" />
<path d="M161.5,638 L166,629.5 L170.5,638 Z M161.5,662.5 L166,671 L170.5,662.5 Z" fill="#000"/>
<line x1="452.0" y1="498.5" x2="462.0" y2="487.5" stroke="#a7a7a9" stroke-width="1.3" />
<line x1="477.0" y1="498.5" x2="487.0" y2="487.5" stroke="#a7a7a9" stroke-width="1.3" />
<line x1="502.0" y1="498.5" x2="512.0" y2="487.5" stroke="#a7a7a9" stroke-width="1.3" />
<line x1="527.0" y1="498.5" x2="537.0" y2="487.5" stroke="#a7a7a9" stroke-width="1.3" />
<rect x="446.5" y="498.2" width="85.5" height="3.6" fill="#1b1b1b" />
<rect x="470.4" y="500.0" width="33.7" height="82.8" fill="#222326" />
<rect x="484.6" y="582.8" width="5.2" height="107.0" fill="#8f8f91" />
<rect x="471.7" y="689.7" width="30.9" height="10.0" fill="#000" />
<rect x="449.7" y="721.5" width="151.7" height="4.5" fill="#b0b0b0" />
<path d="M389.8,731.7 C420,718 455,710 490,707.5 C530,706 575,722 607.4,739.6 C570,728 530,721 490,722 C455,723 420,727 389.8,731.7 Z" fill="#2b8b3a"/>
<path d="M420,724 C450,716 470,712 490,711 C515,710 535,712 550,716 C530,715 510,715 490,716 C465,717 445,720 420,724 Z" fill="#48a457" opacity="0.8"/>
<path d="M530,712 C560,716 585,727 607.4,739.6 C575,733 550,730 530,729 Z" fill="#a8c4ae" opacity="0.85"/>
<rect x="463.3" y="725.7" width="48.3" height="14" rx="3.5" fill="#5f5f61"/>
<rect x="481.7" y="741.0" width="9.9" height="38.6" fill="#8f8f91" />
<line x1="518.7" y1="695.0" x2="518.7" y2="728.5" stroke="#000" stroke-width="2" />
<path d="M514.2,699 L518.7,690.5 L523.2,699 Z M514.2,724 L518.7,732.5 L523.2,724 Z" fill="#000"/>
<path d="M298.8,803.0 C299.1,806.4 297.8,815.6 300.9,823.5 C304.0,831.4 310.7,842.2 317.6,850.6 C324.6,859.0 333.2,867.0 342.6,873.6 C352.0,880.2 361.8,884.7 374.0,890.3 C386.2,895.9 401.8,900.7 415.7,907.0 C429.6,913.3 446.0,921.2 457.4,927.9 C468.8,934.6 476.4,939.6 484.0,947.0 C491.6,954.4 497.8,963.5 503.0,972.0 C508.2,980.5 512.2,991.0 515.0,998.0 C517.8,1005.0 518.6,1009.0 519.5,1014.0 C520.4,1019.0 520.2,1025.8 520.3,1028.2" fill="none" stroke="#000" stroke-width="2"/>
<rect x="296" y="798.7" width="6.3" height="8.9" rx="1.5" fill="#e0202a"/>
<defs><linearGradient id="pot" x1="0" y1="0" x2="0" y2="1"><stop offset="0" stop-color="#6d2c2b"/><stop offset="0.45" stop-color="#6b3a1f"/><stop offset="0.7" stop-color="#7c4c28"/><stop offset="1" stop-color="#c9966a"/></linearGradient></defs>
<path d="M245.2,1099.4 L334.8,1099.4 L331,1150 C327,1178 312,1191 290,1191 C268,1191 253,1178 249,1150 Z" fill="url(#pot)"/>
<rect x="407.6" y="1028.1" width="223.0" height="51.2" fill="#6e6f73" />
<text x="430.3" y="1064.5" font-size="33.5" fill="#ffffff" stroke="#ffffff" stroke-width="0.3" textLength="181.5" lengthAdjust="spacingAndGlyphs" >Electrometer</text>
<line x1="444.3" y1="1079.3" x2="444.3" y2="1107.5" stroke="#222" stroke-width="2" />
<line x1="421.1" y1="1107.5" x2="467.6" y2="1107.5" stroke="#222" stroke-width="2" />
<line x1="427.9" y1="1114.6" x2="461.7" y2="1114.6" stroke="#222" stroke-width="2" />
<line x1="433.8" y1="1121.6" x2="455.8" y2="1121.6" stroke="#222" stroke-width="2" />
<line x1="439.2" y1="1128.1" x2="449.8" y2="1128.1" stroke="#222" stroke-width="2" />
<line x1="612.5" y1="934.4" x2="612.5" y2="962.6" stroke="#222" stroke-width="2" />
<line x1="589.2" y1="962.6" x2="635.7" y2="962.6" stroke="#222" stroke-width="2" />
<line x1="595.1" y1="969.8" x2="628.9" y2="969.8" stroke="#222" stroke-width="2" />
<line x1="601.0" y1="976.6" x2="623.0" y2="976.6" stroke="#222" stroke-width="2" />
<line x1="607.5" y1="983.4" x2="618.0" y2="983.4" stroke="#222" stroke-width="2" />
<rect x="7.5" y="387" width="637" height="547.4" fill="none" stroke="#2a2a2a" stroke-width="2.3" stroke-dasharray="12.5 6.3"/>
<defs><linearGradient id="cone" gradientUnits="userSpaceOnUse" x1="500" y1="0" x2="702" y2="0"><stop offset="0" stop-color="#e2e2e2" stop-opacity="0.8"/><stop offset="0.75" stop-color="#e9e9e9" stop-opacity="0.78"/><stop offset="0.93" stop-color="#eeeeee" stop-opacity="0.6"/><stop offset="1" stop-color="#f4f4f4" stop-opacity="0"/></linearGradient><mask id="conemask"><rect x="0" y="0" width="1725" height="1302" fill="#fff"/><circle cx="492.6" cy="707.7" r="42" fill="#000"/></mask></defs>
<path d="M470,676 L696,456 L696,723.6 L522,748 Z" fill="#ebebeb" opacity="0.52" mask="url(#conemask)"/>
<circle cx="492.6" cy="707.7" r="41.9" fill="none" stroke="#d4d4d4" stroke-width="3"/>
<text x="150.2" y="464.0" font-size="33" fill="#1a1a1a" stroke="#1a1a1a" stroke-width="0.3" textLength="187.8" lengthAdjust="spacingAndGlyphs" >Left actuator</text>
<text x="496.2" y="436.2" font-size="33" fill="#1a1a1a" stroke="#1a1a1a" stroke-width="0.3" textLength="79.5" lengthAdjust="spacingAndGlyphs" >Right</text>
<text x="496.9" y="478.4" font-size="33" fill="#1a1a1a" stroke="#1a1a1a" stroke-width="0.3" textLength="121.4" lengthAdjust="spacingAndGlyphs" >actuator</text>
<text x="13.3" y="711.7" font-size="33" fill="#1a1a1a" stroke="#1a1a1a" stroke-width="0.3" textLength="135.1" lengthAdjust="spacingAndGlyphs" >Load cell</text>
<text x="306.0" y="831.8" font-size="33" fill="#1a1a1a" stroke="#1a1a1a" stroke-width="0.3" textLength="243.7" lengthAdjust="spacingAndGlyphs" >Tissue electrode</text>
<text x="4.2" y="971.9" font-size="33" fill="#1a1a1a" stroke="#1a1a1a" stroke-width="0.3" textLength="122.2" lengthAdjust="spacingAndGlyphs" >Faraday</text>
<text x="5.5" y="997.3" font-size="33" fill="#1a1a1a" stroke="#1a1a1a" stroke-width="0.3" textLength="72.5" lengthAdjust="spacingAndGlyphs" >cage</text>
<text x="71.7" y="1091.3" font-size="33" font-style="italic" fill="#1a1a1a" stroke="#1a1a1a" stroke-width="0.3" textLength="174.0" lengthAdjust="spacingAndGlyphs" >N. oleander</text>
<text x="656.9" y="47.5" font-size="64" font-weight="bold" fill="#111" stroke="#111" stroke-width="0.3" textLength="55.9" lengthAdjust="spacingAndGlyphs" >b.</text>
<line x1="746.0" y1="90.0" x2="751.5" y2="90.0" stroke="#3a3a3a" stroke-width="1.4" />
<line x1="896.3" y1="90.0" x2="901.8" y2="90.0" stroke="#3a3a3a" stroke-width="1.4" />
<line x1="746.0" y1="127.4" x2="751.5" y2="127.4" stroke="#3a3a3a" stroke-width="1.4" />
<line x1="896.3" y1="127.4" x2="901.8" y2="127.4" stroke="#3a3a3a" stroke-width="1.4" />
<line x1="746.0" y1="164.9" x2="751.5" y2="164.9" stroke="#3a3a3a" stroke-width="1.4" />
<line x1="896.3" y1="164.9" x2="901.8" y2="164.9" stroke="#3a3a3a" stroke-width="1.4" />
<line x1="746.0" y1="202.3" x2="751.5" y2="202.3" stroke="#3a3a3a" stroke-width="1.4" />
<line x1="896.3" y1="202.3" x2="901.8" y2="202.3" stroke="#3a3a3a" stroke-width="1.4" />
<line x1="746.0" y1="239.7" x2="751.5" y2="239.7" stroke="#3a3a3a" stroke-width="1.4" />
<line x1="896.3" y1="239.7" x2="901.8" y2="239.7" stroke="#3a3a3a" stroke-width="1.4" />
<line x1="746.0" y1="277.1" x2="751.5" y2="277.1" stroke="#3a3a3a" stroke-width="1.4" />
<line x1="896.3" y1="277.1" x2="901.8" y2="277.1" stroke="#3a3a3a" stroke-width="1.4" />
<line x1="746.0" y1="314.5" x2="751.5" y2="314.5" stroke="#3a3a3a" stroke-width="1.4" />
<line x1="896.3" y1="314.5" x2="901.8" y2="314.5" stroke="#3a3a3a" stroke-width="1.4" />
<line x1="823.9" y1="89.6" x2="823.9" y2="93.6" stroke="#3a3a3a" stroke-width="1.2" />
<line x1="823.9" y1="314.1" x2="823.9" y2="310.1" stroke="#3a3a3a" stroke-width="1.2" />
<line x1="946.0" y1="90.0" x2="951.5" y2="90.0" stroke="#3a3a3a" stroke-width="1.4" />
<line x1="1095.8" y1="90.0" x2="1101.3" y2="90.0" stroke="#3a3a3a" stroke-width="1.4" />
<line x1="946.0" y1="127.4" x2="951.5" y2="127.4" stroke="#3a3a3a" stroke-width="1.4" />
<line x1="1095.8" y1="127.4" x2="1101.3" y2="127.4" stroke="#3a3a3a" stroke-width="1.4" />
<line x1="946.0" y1="164.9" x2="951.5" y2="164.9" stroke="#3a3a3a" stroke-width="1.4" />
<line x1="1095.8" y1="164.9" x2="1101.3" y2="164.9" stroke="#3a3a3a" stroke-width="1.4" />
<line x1="946.0" y1="202.3" x2="951.5" y2="202.3" stroke="#3a3a3a" stroke-width="1.4" />
<line x1="1095.8" y1="202.3" x2="1101.3" y2="202.3" stroke="#3a3a3a" stroke-width="1.4" />
<line x1="946.0" y1="239.7" x2="951.5" y2="239.7" stroke="#3a3a3a" stroke-width="1.4" />
<line x1="1095.8" y1="239.7" x2="1101.3" y2="239.7" stroke="#3a3a3a" stroke-width="1.4" />
<line x1="946.0" y1="277.1" x2="951.5" y2="277.1" stroke="#3a3a3a" stroke-width="1.4" />
<line x1="1095.8" y1="277.1" x2="1101.3" y2="277.1" stroke="#3a3a3a" stroke-width="1.4" />
<line x1="946.0" y1="314.5" x2="951.5" y2="314.5" stroke="#3a3a3a" stroke-width="1.4" />
<line x1="1095.8" y1="314.5" x2="1101.3" y2="314.5" stroke="#3a3a3a" stroke-width="1.4" />
<line x1="1023.6" y1="89.6" x2="1023.6" y2="93.6" stroke="#3a3a3a" stroke-width="1.2" />
<line x1="1023.6" y1="314.1" x2="1023.6" y2="310.1" stroke="#3a3a3a" stroke-width="1.2" />
<line x1="1153.0" y1="90.0" x2="1158.5" y2="90.0" stroke="#3a3a3a" stroke-width="1.4" />
<line x1="1302.8" y1="90.0" x2="1308.3" y2="90.0" stroke="#3a3a3a" stroke-width="1.4" />
<line x1="1153.0" y1="127.4" x2="1158.5" y2="127.4" stroke="#3a3a3a" stroke-width="1.4" />
<line x1="1302.8" y1="127.4" x2="1308.3" y2="127.4" stroke="#3a3a3a" stroke-width="1.4" />
<line x1="1153.0" y1="164.9" x2="1158.5" y2="164.9" stroke="#3a3a3a" stroke-width="1.4" />
<line x1="1302.8" y1="164.9" x2="1308.3" y2="164.9" stroke="#3a3a3a" stroke-width="1.4" />
<line x1="1153.0" y1="202.3" x2="1158.5" y2="202.3" stroke="#3a3a3a" stroke-width="1.4" />
<line x1="1302.8" y1="202.3" x2="1308.3" y2="202.3" stroke="#3a3a3a" stroke-width="1.4" />
<line x1="1153.0" y1="239.7" x2="1158.5" y2="239.7" stroke="#3a3a3a" stroke-width="1.4" />
<line x1="1302.8" y1="239.7" x2="1308.3" y2="239.7" stroke="#3a3a3a" stroke-width="1.4" />
<line x1="1153.0" y1="277.1" x2="1158.5" y2="277.1" stroke="#3a3a3a" stroke-width="1.4" />
<line x1="1302.8" y1="277.1" x2="1308.3" y2="277.1" stroke="#3a3a3a" stroke-width="1.4" />
<line x1="1153.0" y1="314.5" x2="1158.5" y2="314.5" stroke="#3a3a3a" stroke-width="1.4" />
<line x1="1302.8" y1="314.5" x2="1308.3" y2="314.5" stroke="#3a3a3a" stroke-width="1.4" />
<line x1="1230.7" y1="89.6" x2="1230.7" y2="93.6" stroke="#3a3a3a" stroke-width="1.2" />
<line x1="1230.7" y1="314.1" x2="1230.7" y2="310.1" stroke="#3a3a3a" stroke-width="1.2" />
<line x1="1367.6" y1="90.0" x2="1373.1" y2="90.0" stroke="#3a3a3a" stroke-width="1.4" />
<line x1="1516.7" y1="90.0" x2="1522.2" y2="90.0" stroke="#3a3a3a" stroke-width="1.4" />
<line x1="1367.6" y1="127.4" x2="1373.1" y2="127.4" stroke="#3a3a3a" stroke-width="1.4" />
<line x1="1516.7" y1="127.4" x2="1522.2" y2="127.4" stroke="#3a3a3a" stroke-width="1.4" />
<line x1="1367.6" y1="164.9" x2="1373.1" y2="164.9" stroke="#3a3a3a" stroke-width="1.4" />
<line x1="1516.7" y1="164.9" x2="1522.2" y2="164.9" stroke="#3a3a3a" stroke-width="1.4" />
<line x1="1367.6" y1="202.3" x2="1373.1" y2="202.3" stroke="#3a3a3a" stroke-width="1.4" />
<line x1="1516.7" y1="202.3" x2="1522.2" y2="202.3" stroke="#3a3a3a" stroke-width="1.4" />
<line x1="1367.6" y1="239.7" x2="1373.1" y2="239.7" stroke="#3a3a3a" stroke-width="1.4" />
<line x1="1516.7" y1="239.7" x2="1522.2" y2="239.7" stroke="#3a3a3a" stroke-width="1.4" />
<line x1="1367.6" y1="277.1" x2="1373.1" y2="277.1" stroke="#3a3a3a" stroke-width="1.4" />
<line x1="1516.7" y1="277.1" x2="1522.2" y2="277.1" stroke="#3a3a3a" stroke-width="1.4" />
<line x1="1367.6" y1="314.5" x2="1373.1" y2="314.5" stroke="#3a3a3a" stroke-width="1.4" />
<line x1="1516.7" y1="314.5" x2="1522.2" y2="314.5" stroke="#3a3a3a" stroke-width="1.4" />
<line x1="1444.9" y1="89.6" x2="1444.9" y2="93.6" stroke="#3a3a3a" stroke-width="1.2" />
<line x1="1444.9" y1="314.1" x2="1444.9" y2="310.1" stroke="#3a3a3a" stroke-width="1.2" />
<line x1="1565.4" y1="90.0" x2="1570.9" y2="90.0" stroke="#3a3a3a" stroke-width="1.4" />
<line x1="1714.0" y1="90.0" x2="1719.5" y2="90.0" stroke="#3a3a3a" stroke-width="1.4" />
<line x1="1565.4" y1="127.4" x2="1570.9" y2="127.4" stroke="#3a3a3a" stroke-width="1.4" />
<line x1="1714.0" y1="127.4" x2="1719.5" y2="127.4" stroke="#3a3a3a" stroke-width="1.4" />
<line x1="1565.4" y1="164.9" x2="1570.9" y2="164.9" stroke="#3a3a3a" stroke-width="1.4" />
<line x1="1714.0" y1="164.9" x2="1719.5" y2="164.9" stroke="#3a3a3a" stroke-width="1.4" />
<line x1="1565.4" y1="202.3" x2="1570.9" y2="202.3" stroke="#3a3a3a" stroke-width="1.4" />
<line x1="1714.0" y1="202.3" x2="1719.5" y2="202.3" stroke="#3a3a3a" stroke-width="1.4" />
<line x1="1565.4" y1="239.7" x2="1570.9" y2="239.7" stroke="#3a3a3a" stroke-width="1.4" />
<line x1="1714.0" y1="239.7" x2="1719.5" y2="239.7" stroke="#3a3a3a" stroke-width="1.4" />
<line x1="1565.4" y1="277.1" x2="1570.9" y2="277.1" stroke="#3a3a3a" stroke-width="1.4" />
<line x1="1714.0" y1="277.1" x2="1719.5" y2="277.1" stroke="#3a3a3a" stroke-width="1.4" />
<line x1="1565.4" y1="314.5" x2="1570.9" y2="314.5" stroke="#3a3a3a" stroke-width="1.4" />
<line x1="1714.0" y1="314.5" x2="1719.5" y2="314.5" stroke="#3a3a3a" stroke-width="1.4" />
<line x1="1642.5" y1="89.6" x2="1642.5" y2="93.6" stroke="#3a3a3a" stroke-width="1.2" />
<line x1="1642.5" y1="314.1" x2="1642.5" y2="310.1" stroke="#3a3a3a" stroke-width="1.2" />
<polyline points="746.7,242.7 746.8,251.4 746.9,235.0 747.0,249.4 747.1,240.1 747.3,240.0 747.4,256.2 747.5,243.2 747.6,241.7 747.7,247.5 747.8,250.5 747.9,241.8 748.0,246.4 748.1,234.7 748.2,239.2 748.4,238.7 748.5,232.0 748.6,230.7 748.7,229.8 748.8,240.2 748.9,240.7 749.0,239.6 749.1,242.5 749.2,232.0 749.3,241.4 749.5,243.8 749.6,247.6 749.7,235.7 749.8,239.0 749.9,226.9 750.0,238.2 750.1,226.0 750.2,231.4 750.3,250.3 750.5,226.0 750.6,248.0 750.7,243.2 750.8,246.4 750.9,248.0 751.0,250.0 751.1,252.9 751.2,256.3 751.3,256.5 751.4,257.8 751.6,259.9 751.7,264.1 751.8,265.0 751.9,268.5 752.0,270.9 752.1,272.7 752.1,274.0 752.2,268.9 752.3,269.9 752.4,266.9 752.5,265.9 752.7,261.7 752.8,259.4 752.9,256.4 753.0,253.0 753.1,252.5 753.2,250.6 753.3,247.8 753.4,246.5 753.5,242.9 753.7,256.6 753.8,246.0 753.9,234.6 754.0,258.0 754.1,247.8 754.2,237.6 754.3,233.2 754.4,244.2 754.5,235.8 754.6,234.1 754.8,232.3 754.9,238.2 755.0,250.3 755.1,238.7 755.2,231.1 755.3,247.0 755.4,242.5 755.5,248.3 755.6,251.0 755.7,240.7 755.9,240.9 756.0,241.7 756.1,233.5 756.2,247.0 756.3,252.3 756.4,243.3 756.5,240.2 756.6,240.1 756.7,236.1 756.9,236.0 757.0,239.0 757.1,235.7 757.2,238.7 757.3,230.2 757.4,244.6 757.5,242.4 757.6,233.4 757.7,226.0 757.8,241.9 758.0,250.3 758.1,236.5 758.2,238.4 758.3,237.7 758.4,246.9 758.5,235.1 758.6,249.4 758.7,239.7 758.8,248.9 758.9,242.2 759.1,240.3 759.2,230.9 759.3,236.8 759.4,240.0 759.5,246.9 759.6,243.8 759.7,236.8 759.8,245.1 759.9,249.4 760.1,240.9 760.2,238.7 760.3,239.0 760.4,248.1 760.5,246.0 760.6,235.0 760.7,244.8 760.8,238.4 760.9,236.4 761.0,251.3 761.2,248.2 761.3,236.6 761.4,242.6 761.5,245.8 761.6,237.2 761.7,241.1 761.8,247.0 761.9,228.6 762.0,244.5 762.2,247.5 762.3,245.8 762.4,231.9 762.5,244.4 762.6,235.5 762.7,246.3 762.8,246.5 762.9,243.6 763.0,236.3 763.1,237.6 763.3,248.4 763.4,235.3 763.5,245.7 763.6,245.8 763.7,239.9 763.8,258.0 763.9,242.5 764.0,258.0 764.1,226.9 764.2,226.0 764.4,249.4 764.5,246.8 764.6,239.7 764.7,241.6 764.8,227.7 764.9,237.3 765.0,234.2 765.1,240.3 765.2,248.6 765.4,242.4 765.5,244.8 765.6,236.8 765.7,238.7 765.8,242.8 765.9,239.9 766.0,251.5 766.1,235.4 766.2,256.2 766.3,234.6 766.5,249.9 766.6,236.2 766.7,254.4 766.8,243.0 766.9,245.0 767.0,247.6 767.1,237.2 767.2,234.2 767.3,229.5 767.4,222.0 767.6,214.6 767.7,207.1 767.8,199.6 767.9,192.1 768.0,184.7 768.0,184.6 768.1,192.0 768.2,199.5 768.3,206.9 768.4,246.1 768.6,250.9 768.7,253.4 768.8,257.5 768.9,260.3 768.9,262.3 769.0,261.1 769.1,255.6 769.2,249.8 769.3,246.2 769.4,241.1 769.5,227.5 769.7,245.1 769.8,248.5 769.9,232.2 770.0,225.8 770.1,223.8 770.2,242.3 770.3,236.5 770.4,243.4 770.5,230.7 770.6,239.4 770.8,249.1 770.9,245.4 771.0,228.2 771.1,248.9 771.2,248.7 771.3,239.2 771.4,252.6 771.5,234.1 771.6,241.4 771.8,250.4 771.9,251.8 772.0,251.6 772.1,233.8 772.2,228.6 772.3,244.9 772.4,231.3 772.5,241.0 772.6,232.4 772.7,250.0 772.9,248.0 773.0,246.2 773.1,242.1 773.2,242.3 773.3,239.8 773.4,244.9 773.5,243.9 773.6,245.4 773.7,238.8 773.8,256.2 774.0,244.1 774.1,252.5 774.2,252.0 774.3,235.4 774.4,229.3 774.5,251.4 774.6,239.1 774.7,242.6 774.8,240.1 775.0,243.0 775.1,233.1 775.2,241.2 775.3,238.5 775.4,241.9 775.5,226.0 775.6,248.2 775.7,244.5 775.8,229.0 775.9,236.5 776.1,242.2 776.2,246.7 776.3,242.0 776.4,252.4 776.5,242.2 776.6,234.5 776.7,236.9 776.8,247.6 776.9,237.4 777.0,248.3 777.2,249.7 777.3,246.4 777.4,249.6 777.5,240.7 777.6,241.9 777.7,237.6 777.8,237.4 777.9,230.3 778.0,237.8 778.2,234.0 778.3,231.3 778.4,243.1 778.5,245.4 778.6,239.4 778.7,252.3 778.8,249.1 778.9,249.8 779.0,237.5 779.1,230.8 779.3,246.2 779.4,244.3 779.5,247.4 779.6,245.1 779.7,251.5 779.8,239.8 779.9,247.0 780.0,235.3 780.1,226.0 780.2,238.7 780.4,253.2 780.5,229.4 780.6,249.6 780.7,236.9 780.8,239.0 780.9,242.3 781.0,243.6 781.1,234.7 781.2,242.9 781.4,245.3 781.5,248.3 781.6,236.3 781.7,253.6 781.8,246.4 781.9,246.5 782.0,249.0 782.1,249.9 782.2,253.5 782.3,254.9 782.5,255.5 782.6,260.5 782.7,264.3 782.8,262.8 782.9,266.8 783.0,270.4 783.1,273.5 783.2,272.1 783.2,275.2 783.3,271.8 783.4,268.1 783.6,267.2 783.7,264.8 783.8,260.8 783.9,259.2 784.0,257.3 784.1,255.8 784.2,251.9 784.3,249.7 784.4,248.9 784.6,246.5 784.7,242.5 784.8,248.8 784.9,239.4 785.0,243.8 785.1,229.5 785.2,238.8 785.3,252.8 785.4,234.3 785.5,230.8 785.7,240.8 785.8,254.5 785.9,252.9 786.0,239.3 786.1,238.4 786.2,241.2 786.3,235.0 786.4,242.3 786.5,239.7 786.6,230.9 786.8,237.7 786.9,240.1 787.0,235.5 787.1,233.6 787.2,248.8 787.3,256.2 787.4,239.8 787.5,238.8 787.6,245.8 787.8,240.3 787.9,236.1 788.0,252.4 788.1,234.2 788.2,236.5 788.3,237.0 788.4,235.4 788.5,240.2 788.6,246.3 788.7,252.8 788.9,247.0 789.0,242.3 789.1,232.6 789.2,241.5 789.3,234.9 789.4,241.3 789.5,249.3 789.6,243.5 789.7,240.4 789.8,236.4 790.0,241.8 790.1,242.8 790.2,235.0 790.3,238.2 790.4,248.6 790.5,229.5 790.6,238.7 790.7,233.2 790.8,253.6 791.0,246.5 791.1,245.9 791.2,245.0 791.3,244.1 791.4,244.2 791.5,230.1 791.6,243.9 791.7,246.5 791.8,231.3 791.9,248.2 792.1,247.0 792.2,230.6 792.3,238.5 792.4,239.7 792.5,238.0 792.6,244.9 792.7,232.4 792.8,240.3 792.9,243.7 793.1,247.4 793.2,242.4 793.3,240.2 793.4,247.2 793.5,227.1 793.6,249.0 793.7,239.7 793.8,232.6 793.9,238.8 794.0,228.2 794.2,226.7 794.3,239.5 794.4,236.2 794.5,247.5 794.6,235.4 794.7,232.3 794.8,234.8 794.9,254.9 795.0,242.2 795.1,237.4 795.3,234.6 795.4,233.8 795.5,240.8 795.6,245.2 795.7,250.6 795.8,250.6 795.9,244.0 796.0,237.1 796.1,235.5 796.3,226.0 796.4,234.4 796.5,245.2 796.6,239.5 796.7,244.8 796.8,231.9 796.9,248.7 797.0,244.2 797.1,242.3 797.2,245.0 797.4,226.0 797.5,237.8 797.6,235.3 797.7,255.6 797.8,240.6 797.9,238.2 798.0,248.4 798.1,234.1 798.2,252.7 798.3,228.8 798.5,221.3 798.6,213.9 798.7,206.4 798.8,198.9 798.9,191.4 799.0,184.6 799.0,185.2 799.1,192.7 799.2,200.2 799.3,207.6 799.5,246.0 799.6,250.7 799.7,252.5 799.8,258.4 799.9,260.7 799.9,261.1 800.0,257.9 800.1,253.7 800.2,250.8 800.3,246.3 800.4,242.3 800.6,225.6 800.7,222.2 800.8,227.0 800.9,245.3 801.0,223.6 801.1,223.3 801.2,226.0 801.3,245.8 801.4,240.2 801.5,247.4 801.7,240.6 801.8,255.7 801.9,237.3 802.0,237.0 802.1,251.4 802.2,248.3 802.3,251.9 802.4,240.1 802.5,243.9 802.7,242.0 802.8,245.9 802.9,244.5 803.0,244.4 803.1,242.6 803.2,232.9 803.3,228.7 803.4,248.2 803.5,258.0 803.6,228.6 803.8,244.0 803.9,257.5 804.0,233.2 804.1,248.2 804.2,243.4 804.3,227.8 804.4,230.7 804.5,247.3 804.6,245.3 804.7,244.2 804.9,239.0 805.0,236.8 805.1,246.3 805.2,234.7 805.3,226.4 805.4,247.6 805.5,253.0 805.6,240.6 805.7,227.8 805.9,226.0 806.0,236.4 806.1,236.9 806.2,247.9 806.3,243.7 806.4,254.9 806.5,236.1 806.6,242.7 806.7,247.8 806.8,252.5 807.0,232.7 807.1,234.7 807.2,235.4 807.3,247.7 807.4,248.7 807.5,251.7 807.6,250.3 807.7,243.2 807.8,242.6 807.9,230.7 808.1,246.5 808.2,245.2 808.3,248.0 808.4,233.1 808.5,253.0 808.6,231.5 808.7,226.8 808.8,246.9 808.9,241.3 809.1,235.3 809.2,240.0 809.3,244.1 809.4,226.9 809.5,253.1 809.6,249.7 809.7,248.0 809.8,244.4 809.9,244.0 810.0,238.7 810.2,237.5 810.3,246.1 810.4,243.3 810.5,235.9 810.6,234.2 810.7,247.4 810.8,242.4 810.9,247.2 811.0,240.9 811.1,234.8 811.3,239.0 811.4,244.0 811.5,232.0 811.6,244.2 811.7,233.0 811.8,243.8 811.9,246.3 812.0,254.3 812.1,248.7 812.3,243.3 812.4,243.1 812.5,246.9 812.6,241.0 812.7,244.5 812.8,241.4 812.9,245.1 813.0,245.7 813.1,249.7 813.2,250.6 813.4,255.2 813.5,254.6 813.6,258.8 813.7,259.2 813.8,264.0 813.9,265.1 814.0,266.3 814.1,268.9 814.2,272.0 814.3,271.8 814.3,272.2 814.5,271.0 814.6,269.3 814.7,265.4 814.8,264.8 814.9,262.2 815.0,256.6 815.1,258.4 815.2,252.3 815.3,248.8 815.5,250.1 815.6,247.6 815.7,246.0 815.8,242.0 815.9,250.7 816.0,240.6 816.1,240.3 816.2,241.8 816.3,236.0 816.4,235.7 816.6,244.8 816.7,241.4 816.8,229.6 816.9,241.2 817.0,245.4 817.1,239.6 817.2,249.4 817.3,245.8 817.4,244.0 817.5,242.9 817.7,230.4 817.8,258.0 817.9,238.9 818.0,247.2 818.1,236.9 818.2,245.4 818.3,247.5 818.4,233.1 818.5,244.1 818.7,235.2 818.8,240.1 818.9,245.7 819.0,237.1 819.1,226.8 819.2,245.6 819.3,244.2 819.4,236.1 819.5,242.6 819.6,255.6 819.8,246.0 819.9,242.3 820.0,232.9 820.1,240.2 820.2,243.2 820.3,244.1 820.4,245.7 820.5,254.3 820.6,226.0 820.7,246.5 820.9,246.6 821.0,226.0 821.1,246.7 821.2,243.1 821.3,250.0 821.4,242.7 821.5,240.7 821.6,244.1 821.7,238.8 821.9,241.1 822.0,239.9 822.1,247.2 822.2,244.5 822.3,234.6 822.4,241.9 822.5,244.2 822.6,232.5 822.7,246.5 822.8,234.5 823.0,227.2 823.1,244.0 823.2,236.7 823.3,250.3 823.4,251.5 823.5,244.2 823.6,233.3 823.7,246.6 823.8,233.7 824.0,241.2 824.1,246.5 824.2,252.7 824.3,243.2 824.4,255.0 824.5,232.2 824.6,231.1 824.7,244.3 824.8,254.4 824.9,236.0 825.1,235.8 825.2,237.3 825.3,237.4 825.4,241.5 825.5,246.7 825.6,252.4 825.7,251.4 825.8,241.5 825.9,236.1 826.0,245.8 826.2,229.0 826.3,245.8 826.4,226.0 826.5,247.6 826.6,245.7 826.7,247.4 826.8,234.3 826.9,240.9 827.0,250.3 827.2,230.7 827.3,251.4 827.4,237.7 827.5,251.6 827.6,243.9 827.7,233.7 827.8,239.3 827.9,239.8 828.0,253.6 828.1,245.0 828.3,240.2 828.4,238.5 828.5,235.7 828.6,226.1 828.7,240.5 828.8,252.4 828.9,239.3 829.0,247.7 829.1,257.9 829.2,245.1 829.4,248.7 829.5,245.1 829.6,236.2 829.7,239.6 829.8,258.0 829.9,224.7 830.0,217.3 830.1,209.9 830.2,202.5 830.4,195.1 830.5,187.7 830.5,185.1 830.6,189.9 830.7,197.3 830.8,204.7 830.9,244.5 831.0,246.0 831.1,250.6 831.2,256.0 831.3,260.3 831.4,261.9 831.5,261.7 831.6,254.7 831.7,251.4 831.8,247.8 831.9,243.8 832.0,227.1 832.1,225.9 832.2,222.4 832.3,240.5 832.4,222.3 832.6,223.8 832.7,223.5 832.8,243.4 832.9,243.9 833.0,232.5 833.1,232.9 833.2,244.1 833.3,233.3 833.4,245.3 833.6,244.5 833.7,237.6 833.8,227.5 833.9,232.3 834.0,244.7 834.1,238.2 834.2,256.0 834.3,238.7 834.4,244.9 834.5,247.1 834.7,242.7 834.8,244.4 834.9,249.6 835.0,241.0 835.1,244.6 835.2,239.3 835.3,257.1 835.4,243.3 835.5,248.3 835.6,226.0 835.8,238.4 835.9,233.6 836.0,242.3 836.1,238.7 836.2,234.2 836.3,240.0 836.4,248.2 836.5,250.1 836.6,238.0 836.8,250.0 836.9,237.4 837.0,246.7 837.1,235.6 837.2,249.9 837.3,258.0 837.4,239.8 837.5,251.2 837.6,231.2 837.7,237.3 837.9,258.0 838.0,241.5 838.1,245.8 838.2,229.8 838.3,241.9 838.4,236.2 838.5,251.1 838.6,238.0 838.7,258.0 838.8,233.8 839.0,244.5 839.1,227.0 839.2,239.0 839.3,251.2 839.4,241.2 839.5,232.3 839.6,245.7 839.7,249.2 839.8,245.3 840.0,249.5 840.1,231.4 840.2,255.7 840.3,247.4 840.4,226.2 840.5,256.1 840.6,238.5 840.7,245.9 840.8,227.2 840.9,237.3 841.1,228.3 841.2,248.3 841.3,240.3 841.4,235.1 841.5,239.2 841.6,250.5 841.7,236.2 841.8,246.3 841.9,233.1 842.0,229.5 842.2,238.4 842.3,239.9 842.4,243.4 842.5,249.1 842.6,238.9 842.7,239.3 842.8,247.7 842.9,245.2 843.0,241.6 843.2,243.8 843.3,226.0 843.4,237.9 843.5,230.0 843.6,239.4 843.7,248.8 843.8,229.4 843.9,242.0 844.0,244.4 844.1,246.5 844.3,249.9 844.4,252.5 844.5,253.0 844.6,256.7 844.7,259.0 844.8,260.7 844.9,264.6 845.0,265.8 845.1,267.2 845.2,270.8 845.4,272.7 845.4,274.3 845.5,269.2 845.6,270.0 845.7,267.8 845.8,264.2 845.9,263.9 846.0,259.6 846.1,259.2 846.2,256.7 846.4,254.0 846.5,251.1 846.6,249.3 846.7,247.0 846.8,244.0 846.9,253.0 847.0,240.8 847.1,237.0 847.2,241.1 847.3,237.2 847.5,257.3 847.6,248.2 847.7,248.8 847.8,236.9 847.9,237.2 848.0,243.9 848.1,226.0 848.2,249.7 848.3,232.4 848.4,242.8 848.6,244.5 848.7,236.1 848.8,244.7 848.9,247.2 849.0,256.3 849.1,245.0 849.2,255.6 849.3,245.5 849.4,240.6 849.6,248.5 849.7,238.1 849.8,243.1 849.9,246.7 850.0,250.6 850.1,244.1 850.2,231.1 850.3,251.7 850.4,243.3 850.5,239.8 850.7,235.9 850.8,246.3 850.9,244.5 851.0,247.1 851.1,241.0 851.2,253.5 851.3,240.0 851.4,245.1 851.5,243.5 851.6,250.0 851.8,236.8 851.9,239.8 852.0,240.4 852.1,237.0 852.2,237.1 852.3,233.0 852.4,247.6 852.5,253.2 852.6,234.6 852.8,247.8 852.9,233.4 853.0,235.9 853.1,239.6 853.2,242.9 853.3,245.4 853.4,227.5 853.5,232.2 853.6,242.6 853.7,240.1 853.9,257.9 854.0,239.9 854.1,237.1 854.2,251.0 854.3,226.0 854.4,228.0 854.5,258.0 854.6,237.3 854.7,242.5 854.9,240.6 855.0,235.3 855.1,240.9 855.2,232.1 855.3,249.2 855.4,247.8 855.5,247.1 855.6,235.1 855.7,227.5 855.8,238.3 856.0,233.7 856.1,244.9 856.2,229.9 856.3,235.1 856.4,243.0 856.5,245.2 856.6,242.7 856.7,232.5 856.8,236.8 856.9,257.0 857.1,249.0 857.2,235.8 857.3,256.2 857.4,241.0 857.5,241.9 857.6,235.8 857.7,253.3 857.8,242.8 857.9,241.3 858.1,235.1 858.2,232.4 858.3,243.3 858.4,242.0 858.5,253.6 858.6,235.2 858.7,239.2 858.8,249.4 858.9,248.1 859.0,236.9 859.2,252.9 859.3,245.5 859.4,248.6 859.5,244.5 859.6,249.2 859.7,238.8 859.8,240.4 859.9,250.1 860.0,244.9 860.1,244.7 860.3,250.5 860.4,243.7 860.5,245.0 860.6,226.0 860.7,238.0 860.8,248.1 860.9,235.4 861.0,229.6 861.1,220.9 861.3,212.1 861.4,203.4 861.5,194.6 861.6,185.9 861.7,177.1 861.7,176.5 861.8,184.6 861.9,193.4 862.0,202.1 862.1,244.0 862.2,249.3 862.4,254.8 862.5,257.5 862.6,261.1 862.6,261.2 862.7,258.8 862.8,254.8 862.9,249.2 863.0,246.0 863.1,242.4 863.2,238.0 863.3,226.0 863.5,241.4 863.6,240.4 863.7,243.6 863.8,222.1 863.9,239.6 864.0,229.8 864.1,243.2 864.2,247.6 864.3,249.6 864.5,237.0 864.6,233.1 864.7,244.2 864.8,245.5 864.9,231.0 865.0,231.0 865.1,242.6 865.2,242.7 865.3,253.4 865.4,248.5 865.6,235.6 865.7,247.2 865.8,252.3 865.9,241.6 866.0,241.0 866.1,253.6 866.2,248.1 866.3,242.1 866.4,240.5 866.5,237.6 866.7,250.9 866.8,243.8 866.9,232.6 867.0,258.0 867.1,252.8 867.2,250.0 867.3,231.6 867.4,250.7 867.5,231.5 867.7,245.8 867.8,239.5 867.9,246.7 868.0,229.1 868.1,246.0 868.2,238.9 868.3,246.5 868.4,239.1 868.5,243.7 868.6,238.1 868.8,251.0 868.9,232.3 869.0,239.1 869.1,241.6 869.2,243.6 869.3,248.7 869.4,243.1 869.5,245.2 869.6,251.2 869.7,240.8 869.9,254.6 870.0,233.1 870.1,235.4 870.2,241.2 870.3,232.9 870.4,236.2 870.5,244.9 870.6,254.3 870.7,247.1 870.9,238.6 871.0,242.0 871.1,250.9 871.2,237.6 871.3,236.2 871.4,236.4 871.5,258.0 871.6,258.0 871.7,245.5 871.8,248.2 872.0,245.8 872.1,242.0 872.2,233.4 872.3,242.0 872.4,242.3 872.5,258.0 872.6,241.0 872.7,242.6 872.8,241.3 872.9,242.1 873.1,238.1 873.2,227.4 873.3,243.9 873.4,240.7 873.5,239.1 873.6,236.3 873.7,235.8 873.8,243.1 873.9,240.6 874.1,245.8 874.2,239.7 874.3,239.7 874.4,244.2 874.5,241.5 874.6,246.8 874.7,240.9 874.8,252.7 874.9,248.2 875.0,229.4 875.2,239.5 875.3,231.4 875.4,244.9 875.5,243.4 875.6,248.7 875.7,249.6 875.8,251.6 875.9,254.4 876.0,256.3 876.1,260.8 876.3,262.3 876.4,263.9 876.5,266.1 876.6,269.3 876.7,271.0 876.8,273.6 876.8,273.7 876.9,270.7 877.0,269.1 877.1,267.1 877.3,264.1 877.4,261.0 877.5,259.3 877.6,257.0 877.7,253.8 877.8,252.4 877.9,250.3 878.0,246.7 878.1,245.4 878.2,243.3 878.4,233.5 878.5,235.6 878.6,248.1 878.7,237.4 878.8,244.1 878.9,233.5 879.0,248.6 879.1,238.4 879.2,226.0 879.3,247.4 879.5,256.8 879.6,245.7 879.7,230.7 879.8,246.1 879.9,241.5 880.0,244.7 880.1,226.1 880.2,249.3 880.3,249.0 880.5,247.9 880.6,240.0 880.7,252.0 880.8,229.1 880.9,238.1 881.0,243.7 881.1,245.0 881.2,255.8 881.3,236.2 881.4,245.1 881.6,226.0 881.7,248.0 881.8,242.0 881.9,243.4 882.0,248.2 882.1,239.9 882.2,226.6 882.3,255.5 882.4,241.4 882.5,245.1 882.7,246.3 882.8,238.4 882.9,245.1 883.0,258.0 883.1,244.1 883.2,258.0 883.3,238.8 883.4,247.5 883.5,244.0 883.7,251.2 883.8,235.0 883.9,239.2 884.0,235.7 884.1,241.7 884.2,251.1 884.3,227.1 884.4,242.3 884.5,228.1 884.6,247.1 884.8,244.4 884.9,243.2 885.0,246.2 885.1,258.0 885.2,238.8 885.3,250.2 885.4,237.1 885.5,247.9 885.6,247.3 885.8,257.3 885.9,247.6 886.0,241.4 886.1,248.2 886.2,246.7 886.3,240.3 886.4,247.7 886.5,239.0 886.6,240.2 886.7,238.9 886.9,248.1 887.0,237.5 887.1,235.9 887.2,251.0 887.3,237.3 887.4,238.8 887.5,249.0 887.6,248.9 887.7,257.0 887.8,244.3 888.0,239.5 888.1,245.8 888.2,240.3 888.3,245.3 888.4,238.2 888.5,250.6 888.6,236.4 888.7,245.7 888.8,239.8 889.0,250.4 889.1,243.4 889.2,234.1 889.3,243.0 889.4,233.4 889.5,245.3 889.6,245.1 889.7,246.9 889.8,235.0 889.9,235.3 890.1,248.1 890.2,246.1 890.3,236.0 890.4,237.4 890.5,247.5 890.6,251.4 890.7,242.6 890.8,233.3 890.9,243.1 891.0,233.9 891.2,244.5 891.3,241.0 891.4,237.3 891.5,245.7 891.6,241.6 891.7,245.1 891.8,238.5 891.9,243.6 892.0,236.4 892.2,250.2 892.3,246.4 892.4,249.7 892.5,229.7 892.6,224.7 892.7,215.9 892.8,207.2 892.9,198.4 893.0,189.7 893.1,180.9 893.2,176.5 893.3,180.8 893.4,189.6 893.5,198.3 893.6,241.5 893.7,247.2 893.8,251.0 893.9,256.3 894.0,259.5 894.1,262.3 894.1,262.2 894.2,255.5 894.4,252.7 894.5,248.5 894.6,246.0 894.7,240.0 894.8,238.4 894.9,227.0 895.0,237.3 895.1,235.1 895.2,244.8 895.4,239.2 895.5,248.2 895.6,243.0 895.7,235.8 895.8,257.4 895.9,249.7 896.0,240.7 896.1,232.0 896.2,226.4 896.3,252.7 896.5,237.3 896.6,244.2 896.7,247.6 896.8,246.1 896.9,236.2 897.0,237.8 897.1,252.3 897.2,238.5 897.3,231.4 897.4,244.9 897.6,233.7 897.7,235.8 897.8,232.9 897.9,242.3 898.0,227.9 898.1,242.8 898.2,246.7 898.3,254.3 898.4,237.6 898.6,255.9 898.7,249.8 898.8,245.8 898.9,230.9 899.0,246.2 899.1,243.7 899.2,247.6 899.3,248.5 899.4,249.1 899.5,241.8 899.7,241.9 899.8,244.2 899.9,246.5 900.0,250.0 900.1,239.8 900.2,236.3 900.3,239.5 900.4,234.6 900.5,230.4 900.6,241.8 900.8,241.6 900.9,233.9 901.0,245.2 901.1,254.7 901.2,245.7" fill="none" stroke="#f7b916" stroke-width="1.3" stroke-linejoin="round" />
<polyline points="946.7,242.3 946.8,245.5 946.9,238.5 947.0,244.6 947.1,248.9 947.2,245.1 947.4,253.7 947.5,235.4 947.6,242.5 947.7,236.7 947.8,236.1 947.9,240.6 948.0,243.7 948.1,245.1 948.2,245.8 948.3,258.0 948.5,248.5 948.6,230.0 948.7,243.5 948.8,237.3 948.9,238.1 949.0,251.8 949.1,240.3 949.2,227.4 949.3,244.3 949.4,239.8 949.6,242.0 949.7,244.6 949.8,246.3 949.9,247.1 950.0,249.4 950.1,250.6 950.2,251.7 950.3,254.6 950.4,255.8 950.5,258.8 950.7,259.5 950.8,261.8 950.9,264.3 951.0,265.0 951.0,265.0 951.1,263.9 951.2,261.2 951.3,261.4 951.4,259.6 951.5,256.5 951.6,255.4 951.8,252.0 951.9,252.6 952.0,251.0 952.1,248.8 952.2,245.1 952.3,242.4 952.4,243.4 952.5,254.7 952.6,239.3 952.7,226.8 952.9,251.6 953.0,231.9 953.1,232.5 953.2,240.7 953.3,246.7 953.4,238.2 953.5,243.4 953.6,227.9 953.7,255.0 953.8,241.5 954.0,242.9 954.1,246.4 954.2,243.3 954.3,243.5 954.4,235.0 954.5,241.2 954.6,245.3 954.7,249.8 954.8,241.1 954.9,242.7 955.1,244.5 955.2,246.3 955.3,243.6 955.4,240.1 955.5,238.2 955.6,250.4 955.7,244.2 955.8,242.2 955.9,258.0 956.0,248.6 956.2,248.4 956.3,243.1 956.4,234.4 956.5,250.5 956.6,241.3 956.7,242.4 956.8,249.7 956.9,249.6 957.0,243.8 957.1,242.1 957.3,257.7 957.4,246.3 957.5,234.3 957.6,247.6 957.7,243.1 957.8,242.2 957.9,247.1 958.0,243.8 958.1,257.0 958.2,243.5 958.4,243.9 958.5,250.7 958.6,237.8 958.7,249.6 958.8,241.5 958.9,250.9 959.0,235.6 959.1,245.1 959.2,230.0 959.3,238.7 959.5,242.1 959.6,245.7 959.7,256.8 959.8,255.8 959.9,232.0 960.0,236.3 960.1,251.4 960.2,245.3 960.3,231.8 960.4,245.6 960.6,233.6 960.7,235.6 960.8,232.6 960.9,240.1 961.0,258.0 961.1,244.8 961.2,241.2 961.3,258.0 961.4,238.5 961.5,240.9 961.7,240.0 961.8,245.2 961.9,239.7 962.0,252.9 962.1,239.8 962.2,246.2 962.3,243.7 962.4,235.6 962.5,234.7 962.6,241.6 962.7,226.0 962.9,242.1 963.0,242.6 963.1,243.1 963.2,241.4 963.3,244.7 963.4,239.4 963.5,246.8 963.6,229.8 963.7,248.8 963.8,235.4 964.0,245.6 964.1,238.5 964.2,238.8 964.3,236.1 964.4,252.1 964.5,233.9 964.6,233.0 964.7,243.6 964.8,244.0 964.9,242.3 965.1,234.8 965.2,237.1 965.3,248.8 965.4,234.3 965.5,246.6 965.6,247.4 965.7,243.0 965.8,232.9 965.9,256.3 966.0,242.9 966.2,243.5 966.3,239.2 966.4,234.9 966.5,240.0 966.6,243.5 966.7,235.7 966.8,242.9 966.9,250.6 967.0,245.3 967.1,241.3 967.3,249.9 967.4,248.9 967.5,248.8 967.6,236.1 967.7,228.4 967.8,221.5 967.9,210.6 968.0,199.7 968.1,188.8 968.2,177.9 968.4,167.1 968.4,162.7 968.5,169.2 968.6,180.1 968.7,191.0 968.8,244.4 968.9,248.3 969.0,252.2 969.1,260.3 969.2,262.9 969.3,267.6 969.3,266.8 969.5,259.6 969.6,253.1 969.7,250.4 969.8,245.1 969.9,234.9 970.0,223.1 970.1,222.6 970.2,224.3 970.3,225.6 970.4,246.3 970.6,226.2 970.7,243.5 970.8,242.2 970.9,255.4 971.0,237.6 971.1,246.3 971.2,229.1 971.3,246.2 971.4,240.7 971.5,234.4 971.7,237.6 971.8,226.2 971.9,234.1 972.0,243.3 972.1,226.0 972.2,250.1 972.3,249.3 972.4,236.4 972.5,230.9 972.6,231.6 972.8,232.5 972.9,236.4 973.0,258.0 973.1,233.6 973.2,247.6 973.3,251.3 973.4,234.9 973.5,240.0 973.6,247.1 973.7,237.1 973.9,251.3 974.0,258.0 974.1,241.6 974.2,235.9 974.3,246.5 974.4,244.5 974.5,236.4 974.6,241.0 974.7,242.6 974.8,245.8 975.0,250.6 975.1,238.4 975.2,232.3 975.3,229.9 975.4,255.9 975.5,238.9 975.6,238.9 975.7,258.0 975.8,250.4 975.9,258.0 976.1,240.7 976.2,236.8 976.3,238.1 976.4,246.9 976.5,245.1 976.6,245.0 976.7,258.0 976.8,252.2 976.9,233.9 977.0,245.3 977.2,246.5 977.3,236.5 977.4,258.0 977.5,248.9 977.6,253.3 977.7,238.0 977.8,233.4 977.9,247.7 978.0,240.5 978.1,237.7 978.2,241.3 978.4,243.6 978.5,243.1 978.6,240.4 978.7,245.5 978.8,258.0 978.9,250.8 979.0,238.2 979.1,257.3 979.2,238.4 979.3,230.4 979.5,231.6 979.6,226.7 979.7,250.6 979.8,233.7 979.9,231.3 980.0,237.8 980.1,240.4 980.2,232.6 980.3,237.7 980.4,241.9 980.6,246.8 980.7,234.8 980.8,246.1 980.9,243.9 981.0,246.1 981.1,237.9 981.2,233.2 981.3,249.2 981.4,246.3 981.5,236.9 981.7,236.0 981.8,245.0 981.9,247.2 982.0,246.7 982.1,249.2 982.2,249.9 982.3,249.9 982.4,253.9 982.5,256.4 982.6,258.6 982.8,256.8 982.9,260.6 983.0,262.7 983.1,264.0 983.2,263.7 983.2,264.8 983.3,262.9 983.4,262.6 983.5,259.3 983.6,257.7 983.7,257.7 983.9,256.6 984.0,252.4 984.1,250.6 984.2,250.8 984.3,249.6 984.4,245.3 984.5,244.2 984.6,243.3 984.7,244.7 984.8,245.2 985.0,226.0 985.1,240.8 985.2,238.5 985.3,255.9 985.4,240.1 985.5,241.7 985.6,242.0 985.7,247.8 985.8,233.3 985.9,241.0 986.1,241.0 986.2,241.8 986.3,240.0 986.4,237.8 986.5,242.6 986.6,232.0 986.7,254.2 986.8,241.9 986.9,228.2 987.0,239.8 987.2,249.1 987.3,240.4 987.4,240.8 987.5,226.0 987.6,252.7 987.7,242.4 987.8,227.1 987.9,238.5 988.0,253.0 988.1,244.8 988.3,230.6 988.4,237.7 988.5,243.8 988.6,257.6 988.7,243.8 988.8,247.5 988.9,239.5 989.0,242.3 989.1,234.3 989.2,232.0 989.4,231.7 989.5,237.5 989.6,251.4 989.7,241.7 989.8,251.0 989.9,247.8 990.0,243.1 990.1,238.2 990.2,258.0 990.3,250.5 990.5,251.3 990.6,258.0 990.7,253.4 990.8,243.7 990.9,244.8 991.0,246.2 991.1,258.0 991.2,234.3 991.3,228.2 991.4,238.3 991.6,242.0 991.7,237.5 991.8,249.0 991.9,246.5 992.0,241.7 992.1,242.5 992.2,256.4 992.3,257.1 992.4,255.1 992.5,239.2 992.7,251.3 992.8,233.3 992.9,228.2 993.0,254.9 993.1,248.7 993.2,247.1 993.3,252.8 993.4,254.6 993.5,244.2 993.6,244.1 993.7,246.6 993.9,248.5 994.0,243.4 994.1,231.9 994.2,258.0 994.3,236.4 994.4,237.6 994.5,246.6 994.6,241.7 994.7,246.1 994.8,258.0 995.0,252.9 995.1,238.6 995.2,244.6 995.3,241.7 995.4,251.6 995.5,235.3 995.6,234.9 995.7,229.4 995.8,246.0 995.9,245.0 996.1,247.5 996.2,248.5 996.3,233.0 996.4,239.3 996.5,234.0 996.6,251.4 996.7,248.7 996.8,231.3 996.9,246.2 997.0,243.0 997.2,243.1 997.3,247.4 997.4,237.6 997.5,239.8 997.6,237.1 997.7,237.1 997.8,234.3 997.9,250.9 998.0,246.6 998.1,240.3 998.3,229.7 998.4,258.0 998.5,242.4 998.6,243.7 998.7,247.1 998.8,231.4 998.9,220.9 999.0,210.4 999.1,199.8 999.2,189.3 999.4,178.8 999.5,168.3 999.5,165.0 999.6,172.2 999.7,182.8 999.8,193.3 999.9,245.8 1000.0,250.9 1000.1,254.9 1000.2,262.6 1000.3,267.4 1000.4,270.9 1000.5,267.3 1000.6,262.5 1000.7,256.7 1000.8,251.1 1000.9,245.7 1001.0,226.0 1001.1,226.0 1001.2,222.8 1001.3,225.2 1001.4,253.4 1001.6,252.6 1001.7,249.3 1001.8,251.3 1001.9,255.2 1002.0,246.4 1002.1,244.2 1002.2,239.8 1002.3,254.3 1002.4,237.3 1002.5,234.6 1002.7,236.3 1002.8,241.8 1002.9,244.6 1003.0,227.1 1003.1,244.3 1003.2,244.2 1003.3,250.2 1003.4,239.7 1003.5,253.3 1003.6,257.2 1003.8,238.1 1003.9,240.2 1004.0,249.6 1004.1,251.2 1004.2,242.2 1004.3,250.8 1004.4,230.5 1004.5,249.2 1004.6,245.5 1004.7,248.9 1004.9,245.8 1005.0,247.2 1005.1,238.8 1005.2,252.6 1005.3,226.6 1005.4,244.1 1005.5,237.4 1005.6,256.8 1005.7,233.7 1005.8,243.1 1006.0,242.0 1006.1,248.2 1006.2,242.1 1006.3,234.2 1006.4,241.1 1006.5,251.0 1006.6,247.9 1006.7,236.8 1006.8,232.8 1006.9,232.6 1007.1,241.4 1007.2,241.0 1007.3,239.5 1007.4,238.3 1007.5,243.6 1007.6,252.1 1007.7,249.7 1007.8,238.9 1007.9,248.1 1008.0,240.3 1008.2,251.8 1008.3,249.9 1008.4,249.3 1008.5,258.0 1008.6,250.0 1008.7,249.1 1008.8,252.7 1008.9,234.4 1009.0,239.8 1009.1,239.6 1009.2,248.7 1009.4,242.5 1009.5,232.9 1009.6,236.5 1009.7,240.7 1009.8,238.8 1009.9,238.8 1010.0,231.2 1010.1,243.2 1010.2,232.5 1010.3,239.3 1010.5,237.5 1010.6,239.9 1010.7,253.0 1010.8,239.0 1010.9,239.1 1011.0,226.0 1011.1,235.6 1011.2,244.0 1011.3,239.8 1011.4,248.2 1011.6,240.0 1011.7,248.2 1011.8,244.2 1011.9,250.3 1012.0,240.1 1012.1,248.9 1012.2,238.6 1012.3,236.4 1012.4,250.8 1012.5,231.9 1012.7,235.3 1012.8,254.5 1012.9,243.5 1013.0,245.0 1013.1,243.9 1013.2,241.9 1013.3,257.1 1013.4,242.5 1013.5,252.9 1013.6,242.2 1013.8,237.0 1013.9,240.2 1014.0,245.8 1014.1,245.3 1014.2,247.1 1014.3,248.6 1014.4,249.5 1014.5,251.6 1014.6,253.2 1014.7,253.7 1014.9,256.5 1015.0,259.6 1015.1,260.0 1015.2,260.4 1015.3,263.5 1015.4,265.7 1015.4,265.2 1015.5,263.7 1015.6,261.7 1015.7,260.6 1015.8,256.5 1016.0,255.9 1016.1,253.0 1016.2,254.5 1016.3,252.8 1016.4,247.8 1016.5,246.7 1016.6,247.0 1016.7,243.8 1016.8,241.4 1016.9,240.5 1017.1,248.6 1017.2,257.0 1017.3,245.4 1017.4,234.3 1017.5,233.9 1017.6,242.4 1017.7,246.8 1017.8,226.8 1017.9,244.0 1018.0,237.2 1018.2,248.2 1018.3,229.4 1018.4,249.1 1018.5,252.7 1018.6,252.6 1018.7,253.6 1018.8,242.9 1018.9,242.7 1019.0,233.6 1019.1,241.7 1019.3,235.9 1019.4,246.5 1019.5,247.5 1019.6,240.9 1019.7,253.9 1019.8,231.9 1019.9,237.7 1020.0,254.8 1020.1,240.0 1020.2,247.1 1020.4,226.0 1020.5,253.1 1020.6,236.7 1020.7,236.8 1020.8,249.3 1020.9,242.5 1021.0,228.8 1021.1,252.0 1021.2,234.7 1021.3,239.2 1021.5,237.0 1021.6,238.5 1021.7,238.7 1021.8,239.2 1021.9,238.3 1022.0,258.0 1022.1,244.1 1022.2,246.4 1022.3,237.3 1022.4,255.3 1022.6,245.9 1022.7,242.6 1022.8,237.7 1022.9,247.9 1023.0,228.9 1023.1,236.6 1023.2,239.3 1023.3,244.5 1023.4,242.9 1023.5,230.8 1023.6,246.3 1023.8,238.5 1023.9,237.9 1024.0,242.8 1024.1,239.4 1024.2,238.5 1024.3,239.0 1024.4,246.9 1024.5,242.2 1024.6,243.5 1024.7,236.9 1024.9,250.6 1025.0,242.8 1025.1,236.3 1025.2,250.0 1025.3,231.6 1025.4,236.5 1025.5,247.9 1025.6,238.5 1025.7,239.5 1025.8,239.2 1026.0,242.0 1026.1,245.4 1026.2,246.4 1026.3,236.8 1026.4,238.2 1026.5,227.1 1026.6,238.2 1026.7,245.4 1026.8,242.1 1026.9,250.7 1027.1,239.8 1027.2,243.9 1027.3,248.3 1027.4,233.4 1027.5,252.1 1027.6,231.6 1027.7,239.9 1027.8,228.2 1027.9,239.7 1028.0,234.4 1028.2,249.0 1028.3,226.8 1028.4,245.3 1028.5,244.6 1028.6,246.0 1028.7,249.2 1028.8,248.0 1028.9,235.1 1029.0,246.4 1029.1,236.3 1029.3,236.8 1029.4,239.7 1029.5,238.2 1029.6,237.4 1029.7,249.6 1029.8,242.4 1029.9,227.7 1030.0,236.0 1030.1,228.8 1030.2,218.9 1030.4,209.0 1030.5,199.1 1030.6,189.2 1030.7,179.3 1030.8,169.4 1030.8,169.0 1030.9,178.5 1031.0,188.4 1031.1,198.3 1031.2,247.3 1031.3,251.9 1031.5,257.9 1031.6,263.1 1031.7,269.7 1031.7,270.3 1031.8,267.5 1031.9,261.3 1032.0,254.1 1032.1,249.7 1032.2,243.2 1032.3,223.6 1032.4,227.0 1032.6,224.9 1032.7,222.5 1032.8,234.6 1032.9,226.4 1033.0,224.1 1033.1,241.9 1033.2,226.0 1033.3,249.8 1033.4,237.7 1033.5,226.0 1033.7,243.4 1033.8,248.2 1033.9,245.7 1034.0,232.2 1034.1,239.1 1034.2,238.6 1034.3,239.2 1034.4,237.3 1034.5,241.8 1034.6,238.5 1034.8,245.1 1034.9,237.5 1035.0,251.5 1035.1,238.3 1035.2,244.7 1035.3,231.0 1035.4,244.2 1035.5,240.1 1035.6,247.7 1035.7,231.3 1035.9,246.5 1036.0,252.9 1036.1,244.5 1036.2,256.8 1036.3,247.3 1036.4,247.1 1036.5,255.0 1036.6,250.5 1036.7,243.9 1036.8,241.4 1037.0,255.0 1037.1,242.5 1037.2,238.1 1037.3,253.5 1037.4,245.9 1037.5,235.7 1037.6,245.5 1037.7,237.8 1037.8,247.8 1037.9,235.4 1038.1,238.6 1038.2,247.8 1038.3,248.1 1038.4,254.8 1038.5,241.1 1038.6,238.6 1038.7,226.0 1038.8,235.3 1038.9,244.4 1039.0,242.9 1039.1,238.6 1039.3,242.4 1039.4,237.8 1039.5,235.6 1039.6,235.7 1039.7,242.4 1039.8,239.3 1039.9,235.4 1040.0,229.6 1040.1,253.0 1040.2,244.7 1040.4,239.7 1040.5,254.2 1040.6,242.5 1040.7,241.9 1040.8,234.6 1040.9,246.9 1041.0,258.0 1041.1,240.0 1041.2,246.0 1041.3,242.7 1041.5,230.7 1041.6,249.4 1041.7,244.4 1041.8,232.7 1041.9,254.2 1042.0,235.4 1042.1,249.7 1042.2,234.6 1042.3,241.3 1042.4,254.2 1042.6,238.4 1042.7,226.0 1042.8,242.8 1042.9,243.4 1043.0,238.9 1043.1,246.8 1043.2,240.0 1043.3,243.7 1043.4,235.9 1043.5,236.9 1043.7,241.7 1043.8,245.5 1043.9,238.9 1044.0,240.5 1044.1,245.9 1044.2,237.4 1044.3,245.1 1044.4,239.7 1044.5,243.7 1044.6,244.1 1044.8,245.5 1044.9,246.6 1045.0,250.2 1045.1,252.4 1045.2,253.1 1045.3,252.8 1045.4,255.2 1045.5,256.4 1045.6,258.9 1045.7,260.8 1045.9,263.6 1046.0,263.8 1046.0,264.2 1046.1,265.2 1046.2,260.4 1046.3,260.1 1046.4,259.2 1046.5,257.1 1046.6,256.6 1046.7,252.6 1046.8,250.0 1047.0,252.7 1047.1,249.1 1047.2,247.0 1047.3,246.7 1047.4,244.4 1047.5,230.0 1047.6,255.4 1047.7,249.9 1047.8,246.2 1047.9,237.6 1048.1,242.9 1048.2,237.9 1048.3,247.9 1048.4,236.0 1048.5,249.4 1048.6,234.1 1048.7,239.1 1048.8,232.4 1048.9,245.8 1049.0,238.1 1049.2,242.4 1049.3,237.7 1049.4,235.6 1049.5,244.4 1049.6,238.8 1049.7,235.9 1049.8,240.2 1049.9,232.7 1050.0,231.8 1050.1,236.2 1050.3,234.1 1050.4,246.9 1050.5,239.8 1050.6,250.1 1050.7,241.8 1050.8,239.4 1050.9,239.1 1051.0,246.3 1051.1,242.8 1051.2,236.6 1051.4,240.5 1051.5,243.2 1051.6,237.8 1051.7,233.6 1051.8,228.3 1051.9,236.0 1052.0,226.1 1052.1,248.6 1052.2,228.8 1052.3,250.7 1052.5,244.2 1052.6,239.6 1052.7,249.7 1052.8,240.4 1052.9,230.0 1053.0,243.3 1053.1,246.4 1053.2,253.1 1053.3,247.2 1053.4,243.5 1053.6,239.0 1053.7,244.7 1053.8,245.1 1053.9,244.9 1054.0,241.8 1054.1,228.4 1054.2,235.0 1054.3,247.4 1054.4,252.0 1054.5,236.3 1054.6,251.1 1054.8,237.8 1054.9,242.8 1055.0,249.1 1055.1,236.7 1055.2,252.0 1055.3,240.9 1055.4,252.6 1055.5,239.2 1055.6,242.7 1055.7,242.3 1055.9,253.1 1056.0,241.5 1056.1,245.7 1056.2,228.2 1056.3,234.5 1056.4,251.0 1056.5,240.4 1056.6,239.9 1056.7,226.0 1056.8,237.8 1057.0,229.6 1057.1,237.4 1057.2,249.1 1057.3,245.2 1057.4,232.5 1057.5,241.7 1057.6,246.9 1057.7,234.8 1057.8,233.7 1057.9,238.3 1058.1,237.5 1058.2,233.2 1058.3,237.1 1058.4,245.8 1058.5,246.6 1058.6,236.7 1058.7,240.6 1058.8,236.2 1058.9,247.2 1059.0,241.6 1059.2,235.7 1059.3,245.5 1059.4,250.7 1059.5,233.5 1059.6,241.6 1059.7,247.6 1059.8,241.7 1059.9,233.8 1060.0,243.6 1060.1,245.4 1060.3,240.0 1060.4,231.1 1060.5,243.0 1060.6,239.2 1060.7,237.8 1060.8,242.5 1060.9,237.1 1061.0,229.8 1061.1,220.4 1061.2,210.9 1061.4,201.5 1061.5,192.0 1061.6,182.6 1061.7,173.2 1061.7,171.9 1061.8,180.1 1061.9,189.5 1062.0,199.0 1062.1,245.1 1062.2,249.5 1062.3,257.4 1062.5,262.7 1062.6,269.4 1062.6,268.5 1062.7,266.9 1062.8,260.6 1062.9,256.1 1063.0,251.5 1063.1,242.9 1063.2,237.0 1063.3,224.5 1063.4,240.6 1063.6,235.7 1063.7,227.0 1063.8,225.2 1063.9,242.7 1064.0,238.2 1064.1,252.9 1064.2,226.0 1064.3,242.2 1064.4,236.9 1064.5,240.0 1064.7,232.4 1064.8,240.1 1064.9,255.1 1065.0,235.0 1065.1,254.5 1065.2,247.5 1065.3,236.9 1065.4,251.1 1065.5,252.4 1065.6,244.1 1065.8,245.2 1065.9,245.9 1066.0,238.1 1066.1,241.5 1066.2,249.5 1066.3,241.2 1066.4,237.1 1066.5,240.9 1066.6,244.6 1066.7,241.5 1066.9,254.4 1067.0,235.5 1067.1,234.2 1067.2,243.5 1067.3,240.9 1067.4,239.9 1067.5,252.4 1067.6,228.9 1067.7,257.9 1067.8,245.2 1068.0,258.0 1068.1,240.8 1068.2,230.8 1068.3,249.5 1068.4,239.1 1068.5,237.8 1068.6,248.9 1068.7,240.7 1068.8,228.1 1068.9,233.0 1069.1,232.3 1069.2,235.4 1069.3,230.8 1069.4,251.8 1069.5,252.2 1069.6,235.5 1069.7,240.6 1069.8,249.0 1069.9,249.4 1070.0,243.3 1070.1,249.0 1070.3,237.1 1070.4,240.5 1070.5,242.3 1070.6,245.0 1070.7,233.8 1070.8,253.4 1070.9,242.2 1071.0,247.9 1071.1,248.8 1071.2,249.7 1071.4,241.7 1071.5,237.2 1071.6,242.5 1071.7,241.0 1071.8,244.5 1071.9,244.2 1072.0,242.7 1072.1,239.0 1072.2,241.4 1072.3,236.9 1072.5,241.0 1072.6,245.3 1072.7,244.7 1072.8,235.3 1072.9,252.4 1073.0,237.1 1073.1,234.3 1073.2,238.8 1073.3,232.9 1073.4,238.2 1073.6,247.2 1073.7,241.0 1073.8,253.7 1073.9,258.0 1074.0,238.0 1074.1,232.2 1074.2,240.8 1074.3,242.2 1074.4,244.3 1074.5,255.3 1074.7,240.6 1074.8,252.1 1074.9,237.4 1075.0,242.3 1075.1,244.6 1075.2,243.0 1075.3,240.7 1075.4,236.6 1075.5,242.5 1075.6,243.7 1075.8,246.7 1075.9,246.6 1076.0,247.9 1076.1,250.1 1076.2,253.0 1076.3,253.1 1076.4,256.6 1076.5,258.7 1076.6,260.5 1076.7,260.9 1076.9,263.3 1077.0,262.1 1077.0,265.3 1077.1,264.2 1077.2,261.7 1077.3,260.2 1077.4,257.7 1077.5,256.9 1077.6,254.3 1077.7,251.6 1077.8,251.4 1078.0,249.3 1078.1,249.2 1078.2,246.6 1078.3,243.9 1078.4,244.3 1078.5,230.4 1078.6,258.0 1078.7,239.3 1078.8,235.4 1078.9,226.2 1079.1,240.8 1079.2,230.4 1079.3,239.9 1079.4,236.9 1079.5,248.0 1079.6,242.5 1079.7,237.0 1079.8,235.5 1079.9,229.2 1080.0,251.2 1080.2,241.7 1080.3,226.0 1080.4,226.3 1080.5,246.1 1080.6,227.4 1080.7,238.1 1080.8,241.4 1080.9,243.6 1081.0,239.0 1081.1,240.6 1081.3,235.9 1081.4,245.8 1081.5,232.0 1081.6,233.4 1081.7,241.4 1081.8,233.5 1081.9,258.0 1082.0,226.0 1082.1,235.4 1082.2,243.2 1082.4,243.1 1082.5,245.0 1082.6,247.9 1082.7,245.9 1082.8,241.6 1082.9,227.4 1083.0,240.0 1083.1,239.9 1083.2,247.9 1083.3,242.6 1083.5,244.4 1083.6,233.6 1083.7,237.3 1083.8,244.0 1083.9,251.4 1084.0,230.4 1084.1,241.9 1084.2,242.2 1084.3,247.4 1084.4,250.1 1084.6,234.0 1084.7,242.3 1084.8,235.1 1084.9,235.6 1085.0,238.3 1085.1,234.0 1085.2,226.0 1085.3,233.8 1085.4,242.6 1085.5,239.3 1085.6,233.6 1085.8,240.9 1085.9,243.2 1086.0,245.8 1086.1,233.9 1086.2,246.0 1086.3,236.4 1086.4,252.2 1086.5,232.9 1086.6,243.4 1086.7,255.0 1086.9,252.4 1087.0,244.8 1087.1,244.3 1087.2,230.2 1087.3,240.2 1087.4,248.8 1087.5,248.6 1087.6,256.6 1087.7,231.0 1087.8,234.9 1088.0,234.0 1088.1,242.5 1088.2,258.0 1088.3,235.7 1088.4,241.5 1088.5,231.1 1088.6,247.1 1088.7,237.8 1088.8,236.4 1088.9,253.9 1089.1,236.2 1089.2,230.6 1089.3,240.3 1089.4,234.6 1089.5,251.6 1089.6,250.7 1089.7,248.3 1089.8,235.3 1089.9,236.0 1090.0,255.2 1090.2,243.8 1090.3,246.6 1090.4,234.4 1090.5,238.0 1090.6,242.1 1090.7,240.7 1090.8,247.5 1090.9,239.5 1091.0,240.3 1091.1,242.0 1091.3,235.7 1091.4,248.3 1091.5,246.6 1091.6,240.4 1091.7,252.4 1091.8,252.8 1091.9,249.7 1092.0,237.8 1092.1,226.6 1092.2,240.4 1092.4,227.1 1092.5,217.4 1092.6,207.7 1092.7,198.0 1092.8,188.3 1092.9,178.6 1093.0,170.2 1093.0,171.5 1093.1,181.2 1093.2,190.9 1093.3,200.6 1093.5,249.0 1093.6,252.6 1093.7,258.9 1093.8,264.6 1093.9,270.5 1093.9,268.3 1094.0,262.9 1094.1,258.8 1094.2,254.7 1094.3,249.4 1094.4,242.2 1094.6,226.5 1094.7,232.5 1094.8,222.1 1094.9,224.6 1095.0,252.7 1095.1,251.4 1095.2,245.0 1095.3,241.8 1095.4,245.3 1095.5,237.4 1095.7,238.4 1095.8,244.5 1095.9,247.0 1096.0,234.4 1096.1,238.3 1096.2,239.2 1096.3,244.5 1096.4,244.0 1096.5,252.2 1096.6,238.1 1096.8,244.8 1096.9,245.9 1097.0,233.4 1097.1,230.7 1097.2,258.0 1097.3,237.8 1097.4,241.0 1097.5,236.2 1097.6,242.8 1097.7,249.4 1097.9,231.2 1098.0,245.6 1098.1,243.9 1098.2,237.9 1098.3,234.1 1098.4,238.7 1098.5,250.0 1098.6,247.4 1098.7,248.5 1098.8,226.0 1099.0,234.8 1099.1,234.5 1099.2,235.6 1099.3,250.6 1099.4,244.1 1099.5,231.8 1099.6,237.8 1099.7,235.1 1099.8,258.0 1099.9,239.0 1100.1,230.4 1100.2,258.0 1100.3,239.4 1100.4,253.0 1100.5,253.6 1100.6,232.0" fill="none" stroke="#e9358c" stroke-width="1.3" stroke-linejoin="round" />
<polyline points="1153.7,231.4 1153.8,231.7 1153.9,248.0 1154.0,225.0 1154.1,240.7 1154.2,225.0 1154.4,251.9 1154.5,243.8 1154.6,254.2 1154.7,237.5 1154.8,245.6 1154.9,239.4 1155.0,235.4 1155.1,243.3 1155.2,230.7 1155.3,238.8 1155.5,248.3 1155.6,242.5 1155.7,238.3 1155.8,259.0 1155.9,242.5 1156.0,236.7 1156.1,243.4 1156.2,237.3 1156.3,238.5 1156.4,238.8 1156.6,259.0 1156.7,242.2 1156.8,243.6 1156.9,248.1 1157.0,259.0 1157.1,240.0 1157.2,236.4 1157.3,259.0 1157.4,228.9 1157.5,238.7 1157.7,248.0 1157.8,259.0 1157.9,233.5 1158.0,225.0 1158.1,248.0 1158.2,237.3 1158.3,238.5 1158.4,246.2 1158.5,244.0 1158.6,244.6 1158.8,238.1 1158.9,253.6 1159.0,255.5 1159.1,242.3 1159.2,237.9 1159.3,248.6 1159.4,246.3 1159.5,232.6 1159.6,237.9 1159.7,251.4 1159.9,241.1 1160.0,239.0 1160.1,244.1 1160.2,245.4 1160.3,250.7 1160.4,254.6 1160.5,256.8 1160.6,262.2 1160.7,264.7 1160.8,265.2 1161.0,270.2 1161.1,272.3 1161.2,276.7 1161.3,276.9 1161.4,282.5 1161.5,285.5 1161.5,283.4 1161.6,283.6 1161.7,278.3 1161.8,276.0 1161.9,272.5 1162.1,266.0 1162.2,266.2 1162.3,262.7 1162.4,260.1 1162.5,255.5 1162.6,253.6 1162.7,251.0 1162.8,247.3 1162.9,243.4 1163.0,239.5 1163.2,225.0 1163.3,231.2 1163.4,230.4 1163.5,249.5 1163.6,248.0 1163.7,252.3 1163.8,256.0 1163.9,239.3 1164.0,251.5 1164.1,259.0 1164.3,241.9 1164.4,251.8 1164.5,240.5 1164.6,227.5 1164.7,243.1 1164.8,234.6 1164.9,243.0 1165.0,237.8 1165.1,244.9 1165.2,225.0 1165.4,259.0 1165.5,254.2 1165.6,238.8 1165.7,233.8 1165.8,242.0 1165.9,248.1 1166.0,245.8 1166.1,245.6 1166.2,225.0 1166.3,231.8 1166.5,254.1 1166.6,244.2 1166.7,228.3 1166.8,234.2 1166.9,229.0 1167.0,232.8 1167.1,252.6 1167.2,240.0 1167.3,252.2 1167.4,243.7 1167.6,228.3 1167.7,236.1 1167.8,259.0 1167.9,235.0 1168.0,232.4 1168.1,253.3 1168.2,242.8 1168.3,241.9 1168.4,255.4 1168.5,225.9 1168.7,245.8 1168.8,232.3 1168.9,229.1 1169.0,234.5 1169.1,252.6 1169.2,240.7 1169.3,225.2 1169.4,231.8 1169.5,256.0 1169.6,251.4 1169.7,232.0 1169.9,259.0 1170.0,238.6 1170.1,231.0 1170.2,240.7 1170.3,250.6 1170.4,256.8 1170.5,251.5 1170.6,238.1 1170.7,236.8 1170.8,228.6 1171.0,241.3 1171.1,236.5 1171.2,244.3 1171.3,230.3 1171.4,237.2 1171.5,233.9 1171.6,230.9 1171.7,231.1 1171.8,232.6 1171.9,231.1 1172.1,247.2 1172.2,242.9 1172.3,229.8 1172.4,246.7 1172.5,244.6 1172.6,255.4 1172.7,240.2 1172.8,240.1 1172.9,235.7 1173.0,243.1 1173.2,246.5 1173.3,243.6 1173.4,239.7 1173.5,247.2 1173.6,242.8 1173.7,244.3 1173.8,233.4 1173.9,243.9 1174.0,232.8 1174.1,234.2 1174.3,243.5 1174.4,259.0 1174.5,251.2 1174.6,242.0 1174.7,240.4 1174.8,251.1 1174.9,254.7 1175.0,253.2 1175.1,240.3 1175.2,243.7 1175.4,239.0 1175.5,239.4 1175.6,234.1 1175.7,239.7 1175.8,225.0 1175.9,231.0 1176.0,245.9 1176.1,233.5 1176.2,247.0 1176.3,230.1 1176.5,238.6 1176.6,245.6 1176.7,232.4 1176.8,235.4 1176.9,259.0 1177.0,235.7 1177.1,235.5 1177.2,236.7 1177.3,242.3 1177.4,241.8 1177.6,251.1 1177.7,249.3 1177.8,238.3 1177.9,238.7 1178.0,229.0 1178.1,215.0 1178.2,197.0 1178.3,179.1 1178.4,161.1 1178.5,143.2 1178.7,125.2 1178.7,117.7 1178.8,128.1 1178.9,146.1 1179.0,164.0 1179.1,244.7 1179.2,246.8 1179.3,252.7 1179.4,256.6 1179.5,259.9 1179.6,261.7 1179.6,260.5 1179.8,256.1 1179.9,251.1 1180.0,248.1 1180.1,243.3 1180.2,223.5 1180.3,225.3 1180.4,240.7 1180.5,223.3 1180.6,224.5 1180.7,222.5 1180.9,225.6 1181.0,245.6 1181.1,237.2 1181.2,237.1 1181.3,258.2 1181.4,257.7 1181.5,248.9 1181.6,238.7 1181.7,233.0 1181.8,238.4 1182.0,257.3 1182.1,246.2 1182.2,239.3 1182.3,230.7 1182.4,243.5 1182.5,233.9 1182.6,242.1 1182.7,248.8 1182.8,251.8 1182.9,243.3 1183.1,238.9 1183.2,244.1 1183.3,258.5 1183.4,245.4 1183.5,229.2 1183.6,256.2 1183.7,244.3 1183.8,259.0 1183.9,237.7 1184.0,241.1 1184.2,239.3 1184.3,245.5 1184.4,236.7 1184.5,228.5 1184.6,225.0 1184.7,240.9 1184.8,237.3 1184.9,236.7 1185.0,259.0 1185.1,249.3 1185.2,252.0 1185.4,237.4 1185.5,244.7 1185.6,240.1 1185.7,240.1 1185.8,248.8 1185.9,247.5 1186.0,244.8 1186.1,243.4 1186.2,228.8 1186.3,235.2 1186.5,245.5 1186.6,238.7 1186.7,234.9 1186.8,245.3 1186.9,233.6 1187.0,235.9 1187.1,250.1 1187.2,238.7 1187.3,255.1 1187.4,246.8 1187.6,249.4 1187.7,252.3 1187.8,225.0 1187.9,241.3 1188.0,230.2 1188.1,237.8 1188.2,241.1 1188.3,253.4 1188.4,241.6 1188.5,257.0 1188.7,237.2 1188.8,241.5 1188.9,242.8 1189.0,250.6 1189.1,241.5 1189.2,236.4 1189.3,239.0 1189.4,229.2 1189.5,253.5 1189.6,248.8 1189.8,245.9 1189.9,244.5 1190.0,236.5 1190.1,238.3 1190.2,249.4 1190.3,234.8 1190.4,234.9 1190.5,256.4 1190.6,256.2 1190.7,244.7 1190.9,246.9 1191.0,243.7 1191.1,255.0 1191.2,244.5 1191.3,249.1 1191.4,251.0 1191.5,253.2 1191.6,257.1 1191.7,259.5 1191.8,263.0 1192.0,267.2 1192.1,270.0 1192.2,273.5 1192.3,274.9 1192.4,279.1 1192.5,282.5 1192.6,285.1 1192.6,285.5 1192.7,281.4 1192.8,276.2 1192.9,274.4 1193.1,271.5 1193.2,269.2 1193.3,265.0 1193.4,262.9 1193.5,259.3 1193.6,256.7 1193.7,253.2 1193.8,252.1 1193.9,245.2 1194.0,243.0 1194.2,229.5 1194.3,225.0 1194.4,245.8 1194.5,251.9 1194.6,251.0 1194.7,238.6 1194.8,255.0 1194.9,241.3 1195.0,236.7 1195.1,242.6 1195.3,243.9 1195.4,242.4 1195.5,245.6 1195.6,225.0 1195.7,256.1 1195.8,236.9 1195.9,247.9 1196.0,234.8 1196.1,243.5 1196.2,240.4 1196.4,227.8 1196.5,245.5 1196.6,247.7 1196.7,232.0 1196.8,225.0 1196.9,236.2 1197.0,234.4 1197.1,243.0 1197.2,241.8 1197.3,256.5 1197.5,247.8 1197.6,239.7 1197.7,243.5 1197.8,225.0 1197.9,233.9 1198.0,233.7 1198.1,241.0 1198.2,244.9 1198.3,243.9 1198.4,250.4 1198.6,235.8 1198.7,244.8 1198.8,240.8 1198.9,242.1 1199.0,244.9 1199.1,239.5 1199.2,243.9 1199.3,241.7 1199.4,251.2 1199.5,241.0 1199.7,244.7 1199.8,259.0 1199.9,247.6 1200.0,246.6 1200.1,251.7 1200.2,232.9 1200.3,248.4 1200.4,248.7 1200.5,245.9 1200.6,250.8 1200.7,249.1 1200.9,252.7 1201.0,236.2 1201.1,245.9 1201.2,237.1 1201.3,253.1 1201.4,243.2 1201.5,230.3 1201.6,243.0 1201.7,233.0 1201.8,250.8 1202.0,239.0 1202.1,225.0 1202.2,238.5 1202.3,251.2 1202.4,245.0 1202.5,236.3 1202.6,247.8 1202.7,247.2 1202.8,255.2 1202.9,250.1 1203.1,245.3 1203.2,234.9 1203.3,244.6 1203.4,244.7 1203.5,242.1 1203.6,245.8 1203.7,231.4 1203.8,247.1 1203.9,242.1 1204.0,245.2 1204.2,241.1 1204.3,239.3 1204.4,244.3 1204.5,249.0 1204.6,239.1 1204.7,244.9 1204.8,235.1 1204.9,245.7 1205.0,242.2 1205.1,230.5 1205.3,252.4 1205.4,234.0 1205.5,242.7 1205.6,230.3 1205.7,226.5 1205.8,247.9 1205.9,229.5 1206.0,225.0 1206.1,240.1 1206.2,228.1 1206.4,240.2 1206.5,258.4 1206.6,238.5 1206.7,245.2 1206.8,247.0 1206.9,244.2 1207.0,240.9 1207.1,255.5 1207.2,241.3 1207.3,245.2 1207.5,243.0 1207.6,230.6 1207.7,244.9 1207.8,242.5 1207.9,247.8 1208.0,248.2 1208.1,256.0 1208.2,225.1 1208.3,237.0 1208.4,237.8 1208.6,234.3 1208.7,245.7 1208.8,241.3 1208.9,243.2 1209.0,216.6 1209.1,198.7 1209.2,180.7 1209.3,162.8 1209.4,144.8 1209.5,126.9 1209.6,117.7 1209.7,126.5 1209.8,144.4 1209.9,162.4 1210.0,243.8 1210.1,246.6 1210.2,251.6 1210.3,252.9 1210.4,259.0 1210.5,262.2 1210.5,261.1 1210.6,257.2 1210.8,252.4 1210.9,249.7 1211.0,243.2 1211.1,237.9 1211.2,227.8 1211.3,244.0 1211.4,245.6 1211.5,223.9 1211.6,257.3 1211.7,227.9 1211.9,230.7 1212.0,230.1 1212.1,241.1 1212.2,245.6 1212.3,250.2 1212.4,241.1 1212.5,243.9 1212.6,238.6 1212.7,250.2 1212.8,228.1 1213.0,244.1 1213.1,225.0 1213.2,257.2 1213.3,250.2 1213.4,225.0 1213.5,237.3 1213.6,229.5 1213.7,226.3 1213.8,238.3 1213.9,234.1 1214.1,251.2 1214.2,237.3 1214.3,232.1 1214.4,241.2 1214.5,245.5 1214.6,249.2 1214.7,246.4 1214.8,228.7 1214.9,234.6 1215.0,240.3 1215.2,234.5 1215.3,248.5 1215.4,238.9 1215.5,241.3 1215.6,238.6 1215.7,242.3 1215.8,228.6 1215.9,259.0 1216.0,236.9 1216.1,235.4 1216.2,226.1 1216.4,241.1 1216.5,229.7 1216.6,244.8 1216.7,252.5 1216.8,247.3 1216.9,238.0 1217.0,253.1 1217.1,240.2 1217.2,241.5 1217.3,242.4 1217.5,237.7 1217.6,245.6 1217.7,231.0 1217.8,226.2 1217.9,252.5 1218.0,235.4 1218.1,238.7 1218.2,244.8 1218.3,237.7 1218.4,231.4 1218.6,240.1 1218.7,233.5 1218.8,246.7 1218.9,237.9 1219.0,239.6 1219.1,248.7 1219.2,228.2 1219.3,228.7 1219.4,248.3 1219.5,253.1 1219.7,242.7 1219.8,235.6 1219.9,252.7 1220.0,246.5 1220.1,250.9 1220.2,225.8 1220.3,240.7 1220.4,232.7 1220.5,232.2 1220.6,247.0 1220.8,248.3 1220.9,237.7 1221.0,239.6 1221.1,254.0 1221.2,247.7 1221.3,240.8 1221.4,246.4 1221.5,242.8 1221.6,230.7 1221.7,237.3 1221.9,244.4 1222.0,247.4 1222.1,243.4 1222.2,245.8 1222.3,250.9 1222.4,251.5 1222.5,258.5 1222.6,258.1 1222.7,264.6 1222.8,265.3 1223.0,269.8 1223.1,272.9 1223.2,276.8 1223.3,279.9 1223.4,280.1 1223.5,283.5 1223.5,283.7 1223.6,279.9 1223.7,278.8 1223.8,275.7 1223.9,273.0 1224.1,267.6 1224.2,266.5 1224.3,262.5 1224.4,260.6 1224.5,257.6 1224.6,253.4 1224.7,250.1 1224.8,245.5 1224.9,244.4 1225.0,233.7 1225.2,243.1 1225.3,240.4 1225.4,225.0 1225.5,236.5 1225.6,247.0 1225.7,228.1 1225.8,242.1 1225.9,244.9 1226.0,230.6 1226.1,239.7 1226.3,249.8 1226.4,248.3 1226.5,233.1 1226.6,250.9 1226.7,244.9 1226.8,243.0 1226.9,255.3 1227.0,248.4 1227.1,245.2 1227.2,250.4 1227.4,247.8 1227.5,253.2 1227.6,240.9 1227.7,226.2 1227.8,255.7 1227.9,249.1 1228.0,246.6 1228.1,242.3 1228.2,241.2 1228.3,242.9 1228.5,233.5 1228.6,248.8 1228.7,242.7 1228.8,233.5 1228.9,244.3 1229.0,239.0 1229.1,241.7 1229.2,246.8 1229.3,259.0 1229.4,232.5 1229.6,245.6 1229.7,248.3 1229.8,245.7 1229.9,255.2 1230.0,238.2 1230.1,239.0 1230.2,241.9 1230.3,229.8 1230.4,251.8 1230.5,230.9 1230.7,246.8 1230.8,252.6 1230.9,234.5 1231.0,240.4 1231.1,240.2 1231.2,257.2 1231.3,244.3 1231.4,226.3 1231.5,251.5 1231.6,251.2 1231.7,225.0 1231.9,225.0 1232.0,259.0 1232.1,242.7 1232.2,225.0 1232.3,251.4 1232.4,254.6 1232.5,225.0 1232.6,253.3 1232.7,248.3 1232.8,241.8 1233.0,235.7 1233.1,245.4 1233.2,234.7 1233.3,243.4 1233.4,239.7 1233.5,238.0 1233.6,246.8 1233.7,250.7 1233.8,249.9 1233.9,245.9 1234.1,257.0 1234.2,230.7 1234.3,242.6 1234.4,243.6 1234.5,252.8 1234.6,225.0 1234.7,238.0 1234.8,239.2 1234.9,243.7 1235.0,259.0 1235.2,244.1 1235.3,241.1 1235.4,245.8 1235.5,250.7 1235.6,240.4 1235.7,257.0 1235.8,231.1 1235.9,253.1 1236.0,248.3 1236.1,250.9 1236.3,255.8 1236.4,239.8 1236.5,245.7 1236.6,244.3 1236.7,236.6 1236.8,235.2 1236.9,235.0 1237.0,249.5 1237.1,225.0 1237.2,230.5 1237.4,242.7 1237.5,253.7 1237.6,241.1 1237.7,253.3 1237.8,241.4 1237.9,237.2 1238.0,228.0 1238.1,243.7 1238.2,257.4 1238.3,242.8 1238.5,232.7 1238.6,247.2 1238.7,229.7 1238.8,231.8 1238.9,252.0 1239.0,245.7 1239.1,250.6 1239.2,244.1 1239.3,240.9 1239.4,243.5 1239.6,239.1 1239.7,251.4 1239.8,230.5 1239.9,225.1 1240.0,234.4 1240.1,215.0 1240.2,197.1 1240.3,179.1 1240.4,161.2 1240.5,143.2 1240.7,125.3 1240.7,117.7 1240.8,128.1 1240.9,146.0 1241.0,164.0 1241.1,242.9 1241.2,249.4 1241.3,251.7 1241.4,257.0 1241.5,263.5 1241.6,266.8 1241.6,264.1 1241.8,258.6 1241.9,254.6 1242.0,247.8 1242.1,246.5 1242.2,246.7 1242.3,244.7 1242.4,222.8 1242.5,223.7 1242.6,245.0 1242.7,237.1 1242.9,227.6 1243.0,240.4 1243.1,238.4 1243.2,251.1 1243.3,246.1 1243.4,230.7 1243.5,226.7 1243.6,241.4 1243.7,238.6 1243.8,231.2 1244.0,228.4 1244.1,253.0 1244.2,252.4 1244.3,241.6 1244.4,249.6 1244.5,257.2 1244.6,242.1 1244.7,225.0 1244.8,240.1 1244.9,236.9 1245.1,243.1 1245.2,243.5 1245.3,248.9 1245.4,247.8 1245.5,240.0 1245.6,249.1 1245.7,246.4 1245.8,250.3 1245.9,246.5 1246.0,232.6 1246.1,233.0 1246.3,244.2 1246.4,246.4 1246.5,228.3 1246.6,242.8 1246.7,230.9 1246.8,245.8 1246.9,246.3 1247.0,239.4 1247.1,240.8 1247.2,252.4 1247.4,225.0 1247.5,237.7 1247.6,229.5 1247.7,237.5 1247.8,228.2 1247.9,249.6 1248.0,245.9 1248.1,235.6 1248.2,247.4 1248.3,246.4 1248.5,230.2 1248.6,256.7 1248.7,240.8 1248.8,254.6 1248.9,227.7 1249.0,225.0 1249.1,253.5 1249.2,252.3 1249.3,239.8 1249.4,245.6 1249.6,230.3 1249.7,229.2 1249.8,239.5 1249.9,240.6 1250.0,250.7 1250.1,240.5 1250.2,232.5 1250.3,231.1 1250.4,241.4 1250.5,251.2 1250.7,240.1 1250.8,245.6 1250.9,255.1 1251.0,247.6 1251.1,226.6 1251.2,251.7 1251.3,249.0 1251.4,244.9 1251.5,251.2 1251.6,259.0 1251.8,246.8 1251.9,225.0 1252.0,237.8 1252.1,241.8 1252.2,236.4 1252.3,245.2 1252.4,253.4 1252.5,244.0 1252.6,240.9 1252.7,246.2 1252.9,225.0 1253.0,240.5 1253.1,251.5 1253.2,238.6 1253.3,254.3 1253.4,245.9 1253.5,250.7 1253.6,250.3 1253.7,254.3 1253.8,258.7 1254.0,261.1 1254.1,264.8 1254.2,265.6 1254.3,269.4 1254.4,272.8 1254.5,278.8 1254.6,278.6 1254.7,284.0 1254.8,284.2 1254.8,284.0 1254.9,279.2 1255.1,277.3 1255.2,275.0 1255.3,271.4 1255.4,268.8 1255.5,265.3 1255.6,260.6 1255.7,259.2 1255.8,255.5 1255.9,251.8 1256.0,249.1 1256.2,246.1 1256.3,243.1 1256.4,233.9 1256.5,231.2 1256.6,235.0 1256.7,225.0 1256.8,243.3 1256.9,248.4 1257.0,238.4 1257.1,232.7 1257.3,257.9 1257.4,248.3 1257.5,249.0 1257.6,225.0 1257.7,254.6 1257.8,251.1 1257.9,251.5 1258.0,242.6 1258.1,227.5 1258.2,259.0 1258.4,242.1 1258.5,235.3 1258.6,258.3 1258.7,237.0 1258.8,234.0 1258.9,249.1 1259.0,230.5 1259.1,234.2 1259.2,254.3 1259.3,227.8 1259.5,241.5 1259.6,229.9 1259.7,231.4 1259.8,247.7 1259.9,250.9 1260.0,257.9 1260.1,242.1 1260.2,244.3 1260.3,225.0 1260.4,252.7 1260.6,245.0 1260.7,237.5 1260.8,242.6 1260.9,249.2 1261.0,259.0 1261.1,246.0 1261.2,236.7 1261.3,248.2 1261.4,230.5 1261.5,232.3 1261.6,250.6 1261.8,242.9 1261.9,249.1 1262.0,255.1 1262.1,242.8 1262.2,229.1 1262.3,234.7 1262.4,232.4 1262.5,241.8 1262.6,236.9 1262.7,255.8 1262.9,233.5 1263.0,250.7 1263.1,242.5 1263.2,232.3 1263.3,240.7 1263.4,239.0 1263.5,240.9 1263.6,259.0 1263.7,243.8 1263.8,244.5 1264.0,257.3 1264.1,243.4 1264.2,249.8 1264.3,248.2 1264.4,227.0 1264.5,248.1 1264.6,231.2 1264.7,243.6 1264.8,257.8 1264.9,244.5 1265.1,243.4 1265.2,229.5 1265.3,248.3 1265.4,231.3 1265.5,238.3 1265.6,225.0 1265.7,240.7 1265.8,240.8 1265.9,259.0 1266.0,225.0 1266.2,243.0 1266.3,245.2 1266.4,239.8 1266.5,245.5 1266.6,239.3 1266.7,244.8 1266.8,242.1 1266.9,242.7 1267.0,235.1 1267.1,245.3 1267.3,240.8 1267.4,233.1 1267.5,253.2 1267.6,259.0 1267.7,252.8 1267.8,233.5 1267.9,243.9 1268.0,250.9 1268.1,233.2 1268.2,244.8 1268.4,251.8 1268.5,243.6 1268.6,243.5 1268.7,228.2 1268.8,250.7 1268.9,231.5 1269.0,243.5 1269.1,225.0 1269.2,255.9 1269.3,234.1 1269.5,230.6 1269.6,248.6 1269.7,231.8 1269.8,226.4 1269.9,239.8 1270.0,232.5 1270.1,244.9 1270.2,249.5 1270.3,242.0 1270.4,255.6 1270.6,242.7 1270.7,236.2 1270.8,225.1 1270.9,238.4 1271.0,239.3 1271.1,245.0 1271.2,235.3 1271.3,228.2 1271.4,210.2 1271.5,192.3 1271.7,174.3 1271.8,156.4 1271.9,138.4 1272.0,120.5 1272.0,117.7 1272.1,132.9 1272.2,150.8 1272.3,168.8 1272.4,246.9 1272.5,249.6 1272.6,253.7 1272.8,257.1 1272.9,263.2 1272.9,263.9 1273.0,260.5 1273.1,257.2 1273.2,252.1 1273.3,248.4 1273.4,242.7 1273.5,224.2 1273.6,249.6 1273.7,240.3 1273.9,225.3 1274.0,227.6 1274.1,247.9 1274.2,226.2 1274.3,249.4 1274.4,248.8 1274.5,238.9 1274.6,248.8 1274.7,246.7 1274.8,245.6 1275.0,240.7 1275.1,238.6 1275.2,247.2 1275.3,237.8 1275.4,232.9 1275.5,256.6 1275.6,252.4 1275.7,235.5 1275.8,254.1 1275.9,225.0 1276.1,247.3 1276.2,248.0 1276.3,244.3 1276.4,240.4 1276.5,248.9 1276.6,246.6 1276.7,232.4 1276.8,235.9 1276.9,250.8 1277.0,248.6 1277.1,232.4 1277.3,229.4 1277.4,246.0 1277.5,235.1 1277.6,235.9 1277.7,237.7 1277.8,244.1 1277.9,225.0 1278.0,248.9 1278.1,239.0 1278.2,250.1 1278.4,232.4 1278.5,234.7 1278.6,246.4 1278.7,250.7 1278.8,241.7 1278.9,239.4 1279.0,253.7 1279.1,251.5 1279.2,244.8 1279.3,240.1 1279.5,253.0 1279.6,248.2 1279.7,239.2 1279.8,254.8 1279.9,251.7 1280.0,244.1 1280.1,246.3 1280.2,248.9 1280.3,238.3 1280.4,231.9 1280.6,252.5 1280.7,228.2 1280.8,229.2 1280.9,230.1 1281.0,246.5 1281.1,251.2 1281.2,236.7 1281.3,253.4 1281.4,256.3 1281.5,254.1 1281.7,231.2 1281.8,253.4 1281.9,259.0 1282.0,234.5 1282.1,228.3 1282.2,253.3 1282.3,246.8 1282.4,241.9 1282.5,241.8 1282.6,227.5 1282.8,235.0 1282.9,243.9 1283.0,246.3 1283.1,250.2 1283.2,250.3 1283.3,238.2 1283.4,241.6 1283.5,254.5 1283.6,230.5 1283.7,246.8 1283.9,234.9 1284.0,244.1 1284.1,258.2 1284.2,245.7 1284.3,238.4 1284.4,236.3 1284.5,242.4 1284.6,245.5 1284.7,247.9 1284.8,253.1 1285.0,257.0 1285.1,258.5 1285.2,262.5 1285.3,264.7 1285.4,267.5 1285.5,271.9 1285.6,274.0 1285.7,279.8 1285.8,280.9 1285.9,283.6 1286.0,285.0 1286.1,282.5 1286.2,279.5 1286.3,277.8 1286.4,274.2 1286.5,269.7 1286.6,267.8 1286.7,263.0 1286.8,259.8 1286.9,257.6 1287.0,256.0 1287.2,252.2 1287.3,249.9 1287.4,245.9 1287.5,243.4 1287.6,252.0 1287.7,239.2 1287.8,249.7 1287.9,229.3 1288.0,235.4 1288.1,237.6 1288.3,235.9 1288.4,246.9 1288.5,230.2 1288.6,228.8 1288.7,243.9 1288.8,234.7 1288.9,242.7 1289.0,243.0 1289.1,236.4 1289.2,238.7 1289.4,249.6 1289.5,242.3 1289.6,242.8 1289.7,248.0 1289.8,235.9 1289.9,231.8 1290.0,239.1 1290.1,256.3 1290.2,247.5 1290.3,259.0 1290.5,250.8 1290.6,250.2 1290.7,237.9 1290.8,228.0 1290.9,225.0 1291.0,243.5 1291.1,232.5 1291.2,232.0 1291.3,247.1 1291.4,244.8 1291.6,231.0 1291.7,244.4 1291.8,254.2 1291.9,250.3 1292.0,236.2 1292.1,250.4 1292.2,225.0 1292.3,239.6 1292.4,238.3 1292.5,252.9 1292.6,231.6 1292.8,233.9 1292.9,239.2 1293.0,248.7 1293.1,230.0 1293.2,244.3 1293.3,239.0 1293.4,238.2 1293.5,231.1 1293.6,245.8 1293.7,243.4 1293.9,245.9 1294.0,243.7 1294.1,241.2 1294.2,234.5 1294.3,242.1 1294.4,249.0 1294.5,243.4 1294.6,246.8 1294.7,249.7 1294.8,245.1 1295.0,240.0 1295.1,233.7 1295.2,253.1 1295.3,240.7 1295.4,240.7 1295.5,243.0 1295.6,249.2 1295.7,249.7 1295.8,236.0 1295.9,241.5 1296.1,252.3 1296.2,236.9 1296.3,242.5 1296.4,234.8 1296.5,229.5 1296.6,230.9 1296.7,243.6 1296.8,244.9 1296.9,225.0 1297.0,239.9 1297.2,240.2 1297.3,228.7 1297.4,241.6 1297.5,235.3 1297.6,253.9 1297.7,233.6 1297.8,251.2 1297.9,231.9 1298.0,233.2 1298.1,254.6 1298.3,235.6 1298.4,238.5 1298.5,228.4 1298.6,243.5 1298.7,254.3 1298.8,239.7 1298.9,239.8 1299.0,242.2 1299.1,235.5 1299.2,231.1 1299.4,242.5 1299.5,239.3 1299.6,226.9 1299.7,225.0 1299.8,246.2 1299.9,231.1 1300.0,246.1 1300.1,249.9 1300.2,241.6 1300.3,237.0 1300.5,225.0 1300.6,255.5 1300.7,249.9 1300.8,235.5 1300.9,232.9 1301.0,246.4 1301.1,225.0 1301.2,248.3 1301.3,250.3 1301.4,231.6 1301.6,232.7 1301.7,257.7 1301.8,237.8 1301.9,243.6 1302.0,239.1 1302.1,225.0 1302.2,250.9 1302.3,256.3 1302.4,226.6 1302.5,208.6 1302.7,190.7 1302.8,172.7 1302.9,154.8 1303.0,136.8 1303.1,118.9 1303.1,117.7 1303.2,134.5 1303.3,152.4 1303.4,170.4 1303.5,245.4 1303.6,253.3 1303.8,259.6 1303.9,264.7 1304.0,271.3 1304.0,273.5 1304.1,266.8 1304.2,261.5 1304.3,257.1 1304.4,250.1 1304.5,243.6 1304.6,241.4 1304.7,225.4 1304.9,243.1 1305.0,222.3 1305.1,228.0 1305.2,222.1 1305.3,238.9 1305.4,227.6 1305.5,249.7 1305.6,242.3 1305.7,225.0 1305.8,225.7 1306.0,208.7 1306.1,191.7 1306.2,174.8 1306.3,157.8 1306.4,140.9 1306.5,124.0 1306.5,124.1 1306.6,141.1 1306.7,158.0 1306.8,175.0 1306.9,192.0 1307.1,208.9 1307.2,225.9 1307.3,225.5 1307.4,247.3 1307.5,246.0 1307.6,228.7" fill="none" stroke="#1fa3a6" stroke-width="1.3" stroke-linejoin="round" />
<polyline points="1368.3,244.6 1368.4,232.4 1368.5,238.2 1368.6,243.2 1368.7,251.2 1368.8,243.3 1369.0,234.5 1369.1,245.6 1369.2,237.5 1369.3,251.0 1369.4,243.0 1369.5,254.4 1369.6,244.0 1369.7,239.2 1369.8,236.8 1369.9,243.0 1370.1,247.4 1370.2,251.5 1370.3,246.4 1370.4,240.8 1370.5,247.6 1370.6,236.8 1370.7,247.3 1370.8,240.2 1370.9,252.4 1371.0,249.4 1371.1,245.7 1371.3,237.9 1371.4,246.2 1371.5,245.0 1371.6,239.6 1371.7,238.9 1371.8,249.1 1371.9,239.6 1372.0,243.9 1372.1,248.8 1372.2,232.7 1372.3,250.5 1372.5,246.0 1372.6,236.6 1372.7,234.7 1372.8,233.0 1372.9,244.7 1373.0,227.4 1373.1,244.4 1373.2,240.1 1373.3,235.3 1373.4,236.2 1373.6,242.4 1373.7,243.1 1373.8,246.2 1373.9,247.2 1374.0,247.9 1374.1,251.1 1374.2,250.4 1374.3,251.6 1374.4,255.0 1374.5,253.9 1374.6,256.5 1374.8,260.1 1374.9,258.7 1375.0,258.7 1375.0,259.9 1375.1,258.7 1375.2,255.8 1375.3,257.0 1375.4,253.9 1375.5,254.0 1375.6,252.6 1375.7,250.3 1375.9,249.9 1376.0,248.7 1376.1,248.1 1376.2,246.4 1376.3,245.2 1376.4,244.3 1376.5,250.1 1376.6,239.6 1376.7,244.2 1376.8,251.1 1376.9,242.0 1377.1,245.4 1377.2,241.6 1377.3,248.2 1377.4,246.5 1377.5,240.2 1377.6,236.8 1377.7,232.5 1377.8,249.1 1377.9,241.7 1378.0,240.1 1378.1,240.8 1378.3,238.3 1378.4,247.0 1378.5,246.4 1378.6,230.6 1378.7,242.2 1378.8,242.6 1378.9,239.9 1379.0,242.0 1379.1,250.4 1379.2,242.6 1379.4,247.3 1379.5,246.0 1379.6,231.7 1379.7,249.8 1379.8,240.9 1379.9,237.9 1380.0,244.1 1380.1,251.2 1380.2,234.8 1380.3,235.3 1380.4,241.0 1380.6,229.1 1380.7,232.8 1380.8,239.4 1380.9,243.3 1381.0,242.3 1381.1,244.1 1381.2,245.6 1381.3,237.3 1381.4,238.0 1381.5,238.4 1381.7,238.5 1381.8,246.8 1381.9,245.7 1382.0,229.7 1382.1,244.2 1382.2,235.8 1382.3,235.8 1382.4,249.6 1382.5,250.0 1382.6,249.5 1382.7,247.0 1382.9,253.6 1383.0,237.3 1383.1,248.6 1383.2,240.4 1383.3,241.0 1383.4,235.4 1383.5,253.2 1383.6,254.8 1383.7,249.9 1383.8,229.1 1383.9,221.1 1384.1,213.0 1384.2,205.0 1384.3,196.9 1384.4,188.9 1384.5,180.8 1384.5,180.5 1384.6,188.2 1384.7,196.3 1384.8,245.4 1384.9,250.2 1385.0,253.7 1385.2,259.3 1385.3,261.7 1385.3,266.5 1385.4,262.2 1385.5,256.4 1385.6,251.0 1385.7,247.7 1385.8,244.1 1385.9,224.6 1386.0,224.6 1386.1,243.6 1386.2,226.6 1386.4,242.1 1386.5,226.0 1386.6,225.4 1386.7,227.8 1386.8,251.1 1386.9,234.9 1387.0,231.9 1387.1,233.1 1387.2,231.2 1387.3,233.4 1387.5,244.9 1387.6,242.2 1387.7,238.5 1387.8,235.2 1387.9,235.3 1388.0,240.7 1388.1,240.0 1388.2,239.7 1388.3,237.0 1388.4,239.3 1388.5,237.7 1388.7,239.4 1388.8,241.7 1388.9,231.6 1389.0,238.6 1389.1,242.6 1389.2,248.8 1389.3,246.1 1389.4,240.2 1389.5,234.0 1389.6,244.5 1389.7,245.4 1389.9,241.0 1390.0,242.3 1390.1,241.6 1390.2,256.2 1390.3,254.6 1390.4,256.3 1390.5,248.5 1390.6,244.8 1390.7,236.6 1390.8,243.9 1391.0,237.1 1391.1,243.6 1391.2,250.8 1391.3,248.1 1391.4,226.5 1391.5,219.8 1391.6,213.2 1391.7,206.5 1391.8,199.8 1391.9,193.1 1392.0,189.2 1392.0,192.0 1392.2,198.7 1392.3,205.4 1392.4,212.1 1392.5,218.8 1392.6,225.5 1392.7,227.3 1392.8,241.1 1392.9,253.6 1393.0,223.0 1393.1,227.6 1393.2,223.0 1393.4,227.2 1393.5,226.9 1393.6,245.4 1393.7,239.0 1393.8,227.2 1393.9,234.9 1394.0,241.4 1394.1,244.8 1394.2,248.6 1394.3,235.8 1394.5,236.2 1394.6,238.8 1394.7,233.8 1394.8,235.7 1394.9,243.5 1395.0,234.1 1395.1,236.0 1395.2,230.1 1395.3,229.4 1395.4,241.9 1395.5,242.8 1395.7,238.6 1395.8,250.4 1395.9,235.6 1396.0,244.3 1396.1,237.6 1396.2,241.8 1396.3,245.1 1396.4,235.0 1396.5,242.3 1396.6,243.5 1396.8,243.6 1396.9,246.5 1397.0,247.0 1397.1,250.2 1397.2,247.3 1397.3,249.3 1397.4,251.3 1397.5,255.4 1397.6,253.1 1397.7,255.0 1397.8,257.7 1398.0,259.5 1398.0,258.9 1398.1,257.8 1398.2,256.4 1398.3,258.2 1398.4,254.3 1398.5,253.0 1398.6,251.8 1398.7,251.1 1398.8,248.2 1398.9,248.3 1399.0,248.2 1399.2,244.1 1399.3,243.2 1399.4,244.8 1399.5,242.8 1399.6,240.1 1399.7,253.5 1399.8,241.9 1399.9,253.5 1400.0,244.5 1400.1,239.1 1400.3,241.2 1400.4,239.1 1400.5,248.9 1400.6,234.2 1400.7,244.9 1400.8,248.0 1400.9,245.7 1401.0,232.0 1401.1,246.6 1401.2,244.0 1401.3,245.5 1401.5,233.5 1401.6,240.1 1401.7,245.8 1401.8,239.9 1401.9,240.5 1402.0,237.1 1402.1,238.6 1402.2,239.9 1402.3,251.8 1402.4,239.5 1402.6,237.5 1402.7,234.8 1402.8,243.3 1402.9,242.2 1403.0,238.6 1403.1,232.2 1403.2,252.8 1403.3,241.4 1403.4,238.6 1403.5,244.4 1403.6,238.2 1403.8,242.0 1403.9,232.6 1404.0,240.7 1404.1,232.1 1404.2,248.8 1404.3,244.1 1404.4,243.0 1404.5,240.8 1404.6,243.5 1404.7,244.1 1404.8,246.0 1405.0,247.5 1405.1,249.6 1405.2,250.4 1405.3,249.9 1405.4,252.3 1405.5,252.7 1405.6,256.5 1405.7,257.2 1405.8,260.1 1405.9,260.3 1406.0,259.7 1406.1,259.0 1406.2,258.6 1406.3,255.8 1406.4,256.8 1406.5,253.9 1406.6,251.3 1406.7,252.3 1406.8,250.0 1406.9,249.3 1407.0,247.5 1407.1,245.9 1407.3,246.3 1407.4,244.9 1407.5,242.3 1407.6,244.4 1407.7,243.5 1407.8,236.2 1407.9,238.7 1408.0,239.2 1408.1,239.4 1408.2,238.6 1408.4,243.7 1408.5,233.4 1408.6,243.8 1408.7,244.3 1408.8,232.1 1408.9,238.9 1409.0,234.9 1409.1,230.6 1409.2,239.9 1409.3,243.0 1409.4,237.5 1409.6,242.1 1409.7,240.7 1409.8,229.7 1409.9,240.0 1410.0,246.9 1410.1,249.6 1410.2,235.0 1410.3,233.7 1410.4,244.7 1410.5,241.3 1410.6,243.9 1410.8,240.5 1410.9,247.7 1411.0,247.6 1411.1,242.0 1411.2,244.4 1411.3,243.9 1411.4,248.0 1411.5,246.4 1411.6,246.7 1411.7,248.7 1411.9,245.6 1412.0,242.3 1412.1,250.1 1412.2,242.4 1412.3,237.8 1412.4,239.9 1412.5,245.0 1412.6,241.8 1412.7,242.0 1412.8,245.3 1412.9,246.3 1413.1,242.2 1413.2,240.8 1413.3,244.0 1413.4,247.9 1413.5,235.3 1413.6,239.2 1413.7,235.8 1413.8,237.7 1413.9,245.7 1414.0,252.5 1414.2,240.4 1414.3,235.0 1414.4,234.6 1414.5,244.5 1414.6,245.7 1414.7,245.1 1414.8,224.1 1414.9,216.1 1415.0,208.0 1415.1,200.0 1415.2,191.9 1415.4,183.9 1415.4,180.5 1415.5,185.2 1415.6,193.2 1415.7,242.1 1415.8,247.1 1415.9,251.4 1416.0,256.6 1416.1,259.9 1416.2,263.7 1416.2,261.4 1416.3,256.9 1416.4,252.9 1416.6,249.1 1416.7,245.9 1416.8,244.2 1416.9,236.0 1417.0,237.0 1417.1,223.3 1417.2,222.3 1417.3,222.9 1417.4,227.9 1417.5,227.8 1417.7,242.6 1417.8,239.1 1417.9,238.1 1418.0,231.9 1418.1,245.5 1418.2,240.7 1418.3,245.2 1418.4,247.3 1418.5,244.7 1418.6,248.6 1418.7,246.1 1418.9,250.6 1419.0,244.2 1419.1,241.7 1419.2,249.1 1419.3,238.5 1419.4,251.5 1419.5,241.7 1419.6,241.1 1419.7,248.0 1419.8,253.5 1420.0,237.9 1420.1,241.2 1420.2,248.0 1420.3,255.1 1420.4,230.8 1420.5,240.3 1420.6,238.6 1420.7,235.0 1420.8,253.7 1420.9,243.2 1421.0,242.4 1421.2,239.1 1421.3,247.7 1421.4,244.3 1421.5,238.3 1421.6,236.7 1421.7,242.2 1421.8,239.3 1421.9,233.6 1422.0,236.6 1422.1,229.6 1422.2,222.9 1422.4,216.2 1422.5,209.6 1422.6,202.9 1422.7,196.2 1422.8,189.5 1422.8,189.2 1422.9,195.6 1423.0,202.3 1423.1,209.0 1423.2,215.7 1423.3,222.4 1423.5,229.1 1423.6,241.9 1423.7,246.1 1423.8,222.8 1423.9,237.5 1424.0,252.1 1424.1,223.8 1424.2,227.8 1424.3,226.8 1424.4,243.3 1424.5,248.8 1424.7,225.9 1424.8,226.3 1424.9,252.0 1425.0,255.8 1425.1,239.2 1425.2,240.2 1425.3,244.1 1425.4,244.2 1425.5,251.0 1425.6,247.6 1425.8,244.1 1425.9,245.2 1426.0,246.1 1426.1,249.5 1426.2,255.2 1426.3,242.7 1426.4,250.0 1426.5,246.0 1426.6,242.7 1426.7,246.7 1426.8,239.9 1427.0,255.8 1427.1,247.4 1427.2,241.2 1427.3,243.6 1427.4,239.9 1427.5,241.7 1427.6,242.1 1427.7,244.3 1427.8,245.1 1427.9,246.2 1428.0,249.0 1428.2,249.2 1428.3,250.8 1428.4,250.0 1428.5,253.4 1428.6,253.4 1428.7,253.2 1428.8,255.3 1428.9,257.8 1429.0,258.8 1429.0,259.3 1429.1,256.9 1429.3,254.3 1429.4,255.4 1429.5,253.2 1429.6,252.5 1429.7,252.9 1429.8,249.0 1429.9,247.6 1430.0,246.6 1430.1,248.0 1430.2,246.1 1430.3,244.2 1430.5,243.2 1430.6,236.7 1430.7,247.3 1430.8,240.0 1430.9,238.9 1431.0,252.0 1431.1,247.0 1431.2,244.4 1431.3,250.4 1431.4,241.5 1431.5,233.5 1431.7,251.1 1431.8,243.8 1431.9,244.6 1432.0,242.8 1432.1,255.6 1432.2,244.9 1432.3,241.6 1432.4,236.6 1432.5,245.7 1432.6,237.4 1432.8,246.0 1432.9,248.1 1433.0,253.0 1433.1,245.7 1433.2,236.2 1433.3,232.8 1433.4,244.8 1433.5,247.6 1433.6,235.0 1433.7,253.3 1433.8,244.9 1434.0,255.1 1434.1,237.4 1434.2,236.1 1434.3,250.4 1434.4,249.3 1434.5,235.1 1434.6,247.4 1434.7,246.2 1434.8,242.9 1434.9,237.2 1435.1,239.2 1435.2,238.2 1435.3,239.8 1435.4,239.9 1435.5,247.8 1435.6,245.5 1435.7,245.0 1435.8,246.4 1435.9,249.4 1436.0,249.3 1436.1,248.7 1436.3,251.7 1436.4,250.2 1436.5,251.8 1436.6,255.3 1436.7,255.7 1436.8,256.8 1436.9,258.2 1437.0,258.9 1437.0,256.8 1437.1,258.0 1437.2,257.7 1437.3,254.2 1437.5,253.4 1437.6,252.7 1437.7,249.7 1437.8,249.4 1437.9,248.6 1438.0,247.7 1438.1,245.4 1438.2,244.0 1438.3,242.5 1438.4,242.6 1438.6,231.3 1438.7,235.9 1438.8,243.7 1438.9,243.8 1439.0,248.5 1439.1,243.2 1439.2,249.1 1439.3,244.6 1439.4,245.0 1439.5,245.2 1439.6,246.7 1439.8,240.0 1439.9,251.7 1440.0,250.7 1440.1,246.5 1440.2,249.7 1440.3,240.8 1440.4,247.4 1440.5,244.2 1440.6,240.8 1440.7,246.5 1440.9,238.3 1441.0,239.3 1441.1,245.6 1441.2,246.8 1441.3,240.9 1441.4,239.0 1441.5,244.5 1441.6,242.9 1441.7,242.6 1441.8,237.3 1441.9,232.0 1442.1,238.5 1442.2,246.0 1442.3,241.1 1442.4,238.5 1442.5,238.6 1442.6,248.6 1442.7,239.6 1442.8,243.5 1442.9,234.9 1443.0,238.3 1443.1,240.1 1443.3,240.5 1443.4,249.0 1443.5,238.0 1443.6,239.2 1443.7,241.8 1443.8,232.4 1443.9,238.5 1444.0,244.5 1444.1,237.5 1444.2,247.1 1444.4,247.9 1444.5,242.8 1444.6,243.9 1444.7,242.9 1444.8,252.0 1444.9,246.6 1445.0,240.5 1445.1,236.1 1445.2,236.0 1445.3,233.0 1445.4,245.7 1445.6,239.6 1445.7,251.6 1445.8,245.2 1445.9,246.5 1446.0,225.3 1446.1,217.6 1446.2,209.9 1446.3,202.1 1446.4,194.4 1446.5,186.6 1446.6,182.5 1446.7,186.1 1446.8,193.8 1446.9,244.4 1447.0,248.8 1447.1,252.2 1447.2,254.5 1447.3,261.8 1447.4,263.5 1447.4,263.3 1447.5,257.8 1447.6,253.3 1447.7,248.5 1447.9,244.4 1448.0,252.4 1448.1,248.3 1448.2,243.8 1448.3,240.0 1448.4,233.6 1448.5,241.8 1448.6,254.0 1448.7,242.7 1448.8,248.8 1448.9,243.3 1449.1,237.7 1449.2,247.3 1449.3,242.1 1449.4,245.9 1449.5,243.2 1449.6,241.8 1449.7,241.4 1449.8,244.9 1449.9,233.9 1450.0,245.4 1450.2,241.7 1450.3,237.4 1450.4,244.8 1450.5,239.4 1450.6,227.4 1450.7,239.9 1450.8,239.4 1450.9,242.0 1451.0,238.0 1451.1,243.5 1451.2,233.1 1451.4,233.3 1451.5,236.5 1451.6,231.8 1451.7,246.7 1451.8,245.5 1451.9,240.3 1452.0,242.1 1452.1,247.8 1452.2,237.5 1452.3,247.6 1452.5,247.4 1452.6,241.4 1452.7,247.5 1452.8,241.9 1452.9,237.6 1453.0,250.8 1453.1,239.2 1453.2,233.8 1453.3,241.2 1453.4,229.8 1453.5,223.1 1453.7,216.5 1453.8,209.8 1453.9,203.1 1454.0,196.4 1454.1,189.7 1454.1,189.2 1454.2,195.4 1454.3,202.1 1454.4,208.8 1454.5,215.5 1454.6,222.2 1454.7,228.9 1454.9,225.3 1455.0,226.7 1455.1,245.8 1455.2,246.2 1455.3,243.3 1455.4,222.1 1455.5,239.5 1455.6,243.7 1455.7,222.9 1455.8,222.1 1456.0,242.6 1456.1,223.3 1456.2,250.3 1456.3,236.7 1456.4,234.7 1456.5,229.8 1456.6,232.2 1456.7,228.8 1456.8,239.6 1456.9,236.8 1457.0,238.9 1457.2,230.5 1457.3,231.7 1457.4,233.8 1457.5,241.6 1457.6,236.1 1457.7,236.1 1457.8,240.3 1457.9,245.8 1458.0,244.4 1458.1,243.5 1458.3,234.1 1458.4,242.3 1458.5,233.7 1458.6,243.2 1458.7,242.6 1458.8,245.0 1458.9,245.5 1459.0,247.0 1459.1,248.1 1459.2,247.1 1459.3,251.0 1459.5,251.4 1459.6,255.8 1459.7,255.0 1459.8,256.0 1459.9,257.4 1460.0,259.0 1460.0,258.9 1460.1,258.8 1460.2,256.4 1460.3,253.9 1460.4,251.9 1460.5,252.0 1460.7,248.8 1460.8,250.2 1460.9,247.0 1461.0,247.6 1461.1,246.1 1461.2,246.6 1461.3,243.4 1461.4,240.6 1461.5,236.2 1461.6,240.7 1461.8,244.9 1461.9,235.9 1462.0,245.9 1462.1,247.1 1462.2,250.1 1462.3,242.2 1462.4,242.0 1462.5,240.9 1462.6,241.9 1462.7,237.9 1462.8,239.7 1463.0,245.3 1463.1,244.6 1463.2,239.5 1463.3,238.9 1463.4,241.1 1463.5,234.4 1463.6,233.2 1463.7,236.7 1463.8,236.7 1463.9,239.3 1464.0,243.3 1464.2,240.6 1464.3,246.7 1464.4,238.8 1464.5,245.4 1464.6,242.9 1464.7,235.2 1464.8,238.9 1464.9,234.7 1465.0,228.2 1465.1,246.5 1465.3,239.0 1465.4,248.9 1465.5,232.3 1465.6,238.7 1465.7,247.1 1465.8,244.6 1465.9,250.5 1466.0,249.2 1466.1,237.5 1466.2,237.2 1466.3,250.6 1466.5,240.3 1466.6,242.1 1466.7,244.3 1466.8,246.0 1466.9,248.6 1467.0,247.7 1467.1,248.7 1467.2,249.8 1467.3,253.0 1467.4,253.6 1467.6,253.1 1467.7,254.4 1467.8,258.1 1467.9,260.3 1468.0,260.2 1468.0,260.8 1468.1,260.4 1468.2,256.7 1468.3,255.6 1468.4,254.5 1468.5,254.1 1468.6,252.3 1468.8,251.8 1468.9,249.4 1469.0,248.3 1469.1,246.0 1469.2,244.9 1469.3,244.6 1469.4,242.3 1469.5,254.1 1469.6,244.9 1469.7,241.2 1469.8,243.2 1470.0,249.6 1470.1,237.5 1470.2,242.4 1470.3,236.6 1470.4,232.6 1470.5,245.7 1470.6,240.5 1470.7,234.9 1470.8,237.9 1470.9,238.6 1471.1,250.8 1471.2,240.8 1471.3,239.8 1471.4,237.2 1471.5,239.6 1471.6,242.1 1471.7,243.7 1471.8,227.7 1471.9,238.6 1472.0,240.2 1472.1,243.5 1472.3,234.7 1472.4,237.9 1472.5,242.4 1472.6,242.1 1472.7,237.2 1472.8,234.0 1472.9,242.5 1473.0,245.3 1473.1,246.3 1473.2,245.9 1473.4,249.4 1473.5,237.2 1473.6,247.5 1473.7,235.4 1473.8,243.0 1473.9,244.3 1474.0,245.6 1474.1,245.6 1474.2,249.8 1474.3,242.5 1474.4,246.7 1474.6,240.5 1474.7,249.7 1474.8,251.0 1474.9,250.5 1475.0,254.6 1475.1,239.6 1475.2,244.5 1475.3,240.2 1475.4,251.5 1475.5,242.4 1475.6,248.3 1475.8,248.5 1475.9,237.8 1476.0,251.4 1476.1,248.7 1476.2,239.3 1476.3,244.2 1476.4,242.9 1476.5,251.7 1476.6,244.1 1476.7,249.0 1476.9,228.2 1477.0,220.5 1477.1,212.8 1477.2,205.0 1477.3,197.3 1477.4,189.6 1477.5,182.5 1477.5,183.2 1477.6,190.9 1477.7,198.7 1477.8,245.1 1477.9,249.9 1478.1,252.6 1478.2,256.8 1478.3,262.4 1478.3,264.1 1478.4,259.7 1478.5,252.4 1478.6,251.6 1478.7,247.5 1478.8,243.8 1478.9,232.9 1479.0,247.8 1479.2,238.7 1479.3,223.1 1479.4,238.6 1479.5,236.9 1479.6,227.6 1479.7,226.5 1479.8,243.3 1479.9,253.3 1480.0,236.3 1480.1,254.3 1480.2,239.4 1480.4,243.0 1480.5,255.1 1480.6,250.6 1480.7,248.3 1480.8,249.3 1480.9,241.4 1481.0,240.1 1481.1,248.2 1481.2,250.4 1481.3,238.7 1481.4,245.7 1481.6,246.6 1481.7,247.6 1481.8,241.5 1481.9,247.1 1482.0,243.3 1482.1,238.0 1482.2,239.5 1482.3,248.6 1482.4,241.6 1482.5,234.4 1482.7,250.3 1482.8,241.7 1482.9,239.1 1483.0,245.1 1483.1,238.5 1483.2,242.5 1483.3,250.3 1483.4,241.8 1483.5,233.2 1483.6,242.0 1483.7,241.7 1483.9,236.6 1484.0,237.9 1484.1,231.8 1484.2,236.6 1484.3,246.1 1484.4,225.7 1484.5,219.0 1484.6,212.3 1484.7,205.6 1484.8,198.9 1485.0,192.2 1485.0,189.2 1485.1,192.9 1485.2,199.6 1485.3,206.3 1485.4,213.0 1485.5,219.6 1485.6,226.3 1485.7,234.4 1485.8,241.7 1485.9,230.0 1486.0,246.3 1486.2,227.4 1486.3,243.0 1486.4,226.9 1486.5,241.1 1486.6,237.7 1486.7,241.2 1486.8,238.6 1486.9,222.5 1487.0,222.9 1487.1,244.2 1487.2,233.0 1487.4,244.2 1487.5,241.1 1487.6,244.4 1487.7,238.8 1487.8,248.8 1487.9,243.2 1488.0,243.5 1488.1,251.0 1488.2,238.0 1488.3,249.0 1488.5,239.4 1488.6,247.0 1488.7,233.0 1488.8,238.5 1488.9,235.7 1489.0,248.4 1489.1,243.5 1489.2,240.0 1489.3,248.0 1489.4,250.6 1489.5,242.7 1489.7,243.8 1489.8,245.5 1489.9,245.5 1490.0,246.5 1490.1,248.9 1490.2,248.6 1490.3,251.3 1490.4,252.2 1490.5,253.7 1490.6,254.6 1490.8,255.3 1490.9,258.4 1491.0,259.1 1491.0,258.3 1491.1,256.1 1491.2,256.8 1491.3,256.7 1491.4,254.8 1491.5,253.2 1491.6,251.0 1491.7,250.8 1491.8,251.5 1492.0,245.8 1492.1,246.8 1492.2,245.4 1492.3,245.3 1492.4,241.6 1492.5,238.0 1492.6,249.7 1492.7,241.1 1492.8,236.8 1492.9,245.6 1493.0,242.6 1493.2,248.9 1493.3,252.2 1493.4,243.4 1493.5,248.1 1493.6,247.5 1493.7,245.1 1493.8,240.0 1493.9,245.7 1494.0,237.9 1494.1,243.1 1494.3,238.3 1494.4,232.7 1494.5,242.4 1494.6,248.8 1494.7,232.2 1494.8,244.6 1494.9,247.4 1495.0,246.6 1495.1,250.1 1495.2,255.2 1495.3,241.2 1495.5,254.1 1495.6,252.6 1495.7,236.4 1495.8,240.2 1495.9,246.8 1496.0,242.8 1496.1,250.7 1496.2,247.5 1496.3,241.1 1496.4,254.4 1496.6,243.0 1496.7,243.6 1496.8,246.1 1496.9,245.7 1497.0,246.6 1497.1,250.5 1497.2,250.6 1497.3,251.2 1497.4,253.1 1497.5,255.0 1497.6,256.3 1497.8,257.6 1497.9,257.6 1498.0,257.8 1498.0,257.5 1498.1,259.1 1498.2,257.0 1498.3,256.7 1498.4,255.1 1498.5,254.1 1498.6,252.1 1498.7,252.0 1498.8,249.6 1499.0,248.3 1499.1,246.6 1499.2,247.5 1499.3,243.3 1499.4,244.4 1499.5,237.3 1499.6,236.5 1499.7,238.6 1499.8,234.5 1499.9,239.8 1500.1,251.8 1500.2,241.7 1500.3,243.7 1500.4,241.0 1500.5,239.8 1500.6,252.1 1500.7,240.1 1500.8,253.6 1500.9,237.9 1501.0,238.1 1501.1,238.0 1501.3,247.4 1501.4,242.3 1501.5,234.6 1501.6,247.6 1501.7,248.4 1501.8,246.2 1501.9,245.0 1502.0,242.3 1502.1,241.7 1502.2,242.3 1502.3,256.8 1502.5,249.1 1502.6,247.5 1502.7,241.4 1502.8,251.2 1502.9,245.0 1503.0,240.1 1503.1,242.9 1503.2,255.1 1503.3,238.3 1503.4,240.4 1503.6,248.2 1503.7,243.1 1503.8,237.1 1503.9,246.4 1504.0,242.9 1504.1,244.1 1504.2,241.5 1504.3,247.3 1504.4,236.2 1504.5,230.7 1504.6,237.4 1504.8,244.7 1504.9,229.8 1505.0,239.1 1505.1,240.3 1505.2,237.7 1505.3,240.5 1505.4,233.5 1505.5,242.5 1505.6,242.1 1505.7,243.6 1505.9,240.5 1506.0,235.6 1506.1,246.3 1506.2,241.7 1506.3,246.1 1506.4,228.2 1506.5,232.5 1506.6,235.2 1506.7,236.3 1506.8,232.1 1506.9,237.6 1507.1,245.4 1507.2,241.1 1507.3,239.7 1507.4,239.8 1507.5,242.4 1507.6,242.9 1507.7,231.1 1507.8,223.1 1507.9,215.0 1508.0,207.0 1508.1,198.9 1508.3,190.9 1508.4,182.8 1508.4,180.5 1508.5,186.2 1508.6,194.3 1508.7,242.9 1508.8,246.5 1508.9,251.5 1509.0,258.0 1509.1,259.4 1509.2,263.9 1509.2,261.7 1509.4,257.3 1509.5,254.6 1509.6,249.4 1509.7,245.1 1509.8,227.8 1509.9,223.3 1510.0,247.8 1510.1,223.9 1510.2,223.0 1510.3,255.0 1510.4,224.7 1510.6,248.1 1510.7,246.2 1510.8,244.0 1510.9,239.6 1511.0,242.4 1511.1,243.0 1511.2,248.3 1511.3,248.6 1511.4,250.1 1511.5,247.6 1511.7,229.5 1511.8,243.7 1511.9,232.1 1512.0,247.0 1512.1,245.4 1512.2,236.9 1512.3,244.5 1512.4,239.8 1512.5,234.1 1512.6,236.6 1512.7,236.2 1512.9,241.7 1513.0,239.2 1513.1,240.7 1513.2,244.0 1513.3,243.2 1513.4,245.1 1513.5,231.0 1513.6,241.2 1513.7,239.5 1513.8,244.7 1513.9,229.3 1514.1,247.8 1514.2,237.4 1514.3,242.3 1514.4,240.8 1514.5,233.3 1514.6,248.5 1514.7,249.3 1514.8,243.6 1514.9,249.6 1515.0,247.9 1515.2,228.8 1515.3,222.1 1515.4,215.4 1515.5,208.7 1515.6,202.0 1515.7,195.3 1515.8,189.2 1515.8,189.8 1515.9,196.5 1516.0,203.2 1516.1,209.9 1516.2,216.6 1516.4,223.2 1516.5,229.9 1516.6,226.7 1516.7,227.3 1516.8,242.9 1516.9,240.2 1517.0,225.6 1517.1,244.5 1517.2,237.3 1517.3,226.3 1517.5,224.1 1517.6,227.2 1517.7,252.4 1517.8,232.8 1517.9,240.8 1518.0,244.6 1518.1,244.5 1518.2,236.5 1518.3,244.7 1518.4,247.9 1518.5,236.5 1518.7,243.7 1518.8,243.1 1518.9,236.8 1519.0,236.7 1519.1,236.7 1519.2,239.1 1519.3,245.5 1519.4,238.3 1519.5,235.0 1519.6,242.6 1519.7,251.2 1519.9,240.9 1520.0,233.3 1520.1,246.4 1520.2,233.4 1520.3,236.0 1520.4,243.6 1520.5,236.7 1520.6,236.7 1520.7,240.5 1520.8,231.1 1521.0,234.8 1521.1,240.2 1521.2,232.2 1521.3,235.9 1521.4,243.4 1521.5,246.0" fill="none" stroke="#3f8bd4" stroke-width="1.3" stroke-linejoin="round" />
<polyline points="1566.1,240.8 1566.2,244.3 1566.3,241.0 1566.4,240.6 1566.5,237.8 1566.6,241.0 1566.8,247.0 1566.9,243.9 1567.0,246.7 1567.1,243.1 1567.2,243.8 1567.3,242.8 1567.4,234.5 1567.5,245.8 1567.6,244.3 1567.7,244.2 1567.8,234.4 1568.0,234.2 1568.1,238.0 1568.2,239.9 1568.3,243.4 1568.4,241.8 1568.5,244.3 1568.6,239.1 1568.7,243.4 1568.8,243.8 1568.9,239.0 1569.0,249.7 1569.2,244.5 1569.3,247.4 1569.4,239.2 1569.5,238.7 1569.6,240.5 1569.7,241.5 1569.8,244.8 1569.9,243.1 1570.0,240.0 1570.1,237.7 1570.3,239.7 1570.4,247.5 1570.5,238.4 1570.6,243.1 1570.7,243.9 1570.8,235.3 1570.9,242.2 1571.0,247.9 1571.1,234.0 1571.2,240.6 1571.3,241.5 1571.5,238.3 1571.6,244.2 1571.7,241.7 1571.8,235.4 1571.9,245.7 1572.0,245.0 1572.1,246.3 1572.2,248.5 1572.3,243.6 1572.4,242.5 1572.5,236.2 1572.7,244.8 1572.8,239.2 1572.9,240.0 1573.0,236.3 1573.1,227.2 1573.2,221.5 1573.3,215.7 1573.4,209.9 1573.5,204.1 1573.6,244.7 1573.7,243.7 1573.7,247.6 1573.9,250.1 1574.0,256.2 1574.1,259.3 1574.2,264.6 1574.3,267.5 1574.4,271.9 1574.4,272.3 1574.5,266.8 1574.6,263.6 1574.7,259.2 1574.8,255.1 1574.9,248.9 1575.1,245.8 1575.2,245.3 1575.3,245.2 1575.4,225.6 1575.5,224.2 1575.6,227.0 1575.7,227.7 1575.8,225.8 1575.9,242.0 1576.0,250.0 1576.1,243.5 1576.3,240.1 1576.4,240.3 1576.5,241.9 1576.6,246.2 1576.7,240.5 1576.8,243.7 1576.9,250.0 1577.0,234.0 1577.1,236.9 1577.2,243.1 1577.3,243.8 1577.5,243.1 1577.6,240.1 1577.7,244.9 1577.8,243.3 1577.9,239.7 1578.0,250.0 1578.1,243.6 1578.2,239.5 1578.3,241.6 1578.4,241.0 1578.6,241.7 1578.7,234.0 1578.8,239.8 1578.9,246.5 1579.0,236.7 1579.1,241.7 1579.2,246.3 1579.3,245.9 1579.4,248.7 1579.5,234.3 1579.6,240.4 1579.8,240.5 1579.9,244.8 1580.0,246.9 1580.1,234.0 1580.2,246.9 1580.3,235.5 1580.4,245.1 1580.5,235.3 1580.6,242.8 1580.7,247.4 1580.8,241.3 1581.0,242.9 1581.1,245.6 1581.2,242.6 1581.3,241.6 1581.4,248.9 1581.5,246.7 1581.6,240.7 1581.7,250.0 1581.8,236.8 1581.9,246.1 1582.0,240.8 1582.2,242.6 1582.3,245.2 1582.4,243.0 1582.5,244.9 1582.6,235.1 1582.7,235.2 1582.8,244.8 1582.9,237.7 1583.0,237.4 1583.1,235.4 1583.2,247.7 1583.4,245.4 1583.5,248.6 1583.6,237.8 1583.7,242.0 1583.8,236.9 1583.9,245.4 1584.0,249.2 1584.1,238.0 1584.2,249.0 1584.3,246.4 1584.4,241.2 1584.6,234.0 1584.7,248.3 1584.8,241.6 1584.9,239.3 1585.0,243.8 1585.1,243.8 1585.2,248.7 1585.3,237.4 1585.4,247.1 1585.5,248.7 1585.6,248.5 1585.8,241.2 1585.9,238.7 1586.0,246.6 1586.1,242.5 1586.2,242.6 1586.3,248.4 1586.4,240.8 1586.5,234.0 1586.6,240.3 1586.7,234.0 1586.9,245.7 1587.0,243.4 1587.1,239.2 1587.2,242.0 1587.3,245.7 1587.4,242.4 1587.5,248.0 1587.6,241.7 1587.7,246.7 1587.8,248.7 1587.9,249.2 1588.1,239.0 1588.2,246.0 1588.3,234.0 1588.4,237.1 1588.5,227.3 1588.6,221.5 1588.7,215.7 1588.8,209.9 1588.9,204.1 1589.0,241.9 1589.1,245.3 1589.1,244.6 1589.3,245.5 1589.4,246.7 1589.5,247.3 1589.6,251.5 1589.7,252.1 1589.8,253.9 1589.8,253.8 1589.9,250.9 1590.0,249.3 1590.1,248.3 1590.2,247.2 1590.3,246.0 1590.5,244.8 1590.6,243.0 1590.7,223.7 1590.8,240.7 1590.9,239.9 1591.0,225.1 1591.1,250.0 1591.2,224.9 1591.3,239.7 1591.4,240.4 1591.5,244.5 1591.7,239.0 1591.8,248.5 1591.9,247.7 1592.0,242.7 1592.1,241.2 1592.2,242.3 1592.3,238.9 1592.4,247.5 1592.5,240.4 1592.6,241.9 1592.7,249.9 1592.9,241.3 1593.0,244.1 1593.1,241.6 1593.2,241.9 1593.3,243.3 1593.4,242.6 1593.5,238.5 1593.6,245.2 1593.7,245.4 1593.8,249.1 1593.9,237.6 1594.1,241.9 1594.2,244.6 1594.3,247.1 1594.4,239.2 1594.5,241.4 1594.6,240.1 1594.7,248.4 1594.8,244.4 1594.9,240.4 1595.0,242.8 1595.2,247.9 1595.3,239.6 1595.4,242.6 1595.5,240.2 1595.6,243.0 1595.7,240.7 1595.8,245.2 1595.9,238.2 1596.0,239.0 1596.1,246.8 1596.2,245.2 1596.4,240.4 1596.5,245.8 1596.6,246.0 1596.7,242.2 1596.8,244.2 1596.9,242.8 1597.0,243.2 1597.1,243.2 1597.2,245.7 1597.3,239.4 1597.4,249.1 1597.6,240.7 1597.7,247.1 1597.8,243.8 1597.9,245.7 1598.0,245.4 1598.1,242.4 1598.2,249.3 1598.3,242.7 1598.4,239.2 1598.5,241.1 1598.6,234.0 1598.8,243.7 1598.9,248.5 1599.0,247.2 1599.1,237.2 1599.2,244.2 1599.3,244.3 1599.4,238.1 1599.5,235.1 1599.6,241.7 1599.7,246.1 1599.8,241.5 1600.0,245.5 1600.1,235.9 1600.2,239.0 1600.3,238.5 1600.4,241.1 1600.5,243.2 1600.6,243.2 1600.7,243.3 1600.8,241.8 1600.9,238.5 1601.0,243.0 1601.2,243.6 1601.3,246.9 1601.4,234.4 1601.5,240.2 1601.6,238.8 1601.7,242.2 1601.8,245.7 1601.9,239.5 1602.0,242.7 1602.1,238.7 1602.2,243.2 1602.4,250.0 1602.5,239.1 1602.6,238.8 1602.7,241.0 1602.8,245.8 1602.9,241.2 1603.0,241.9 1603.1,242.2 1603.2,238.2 1603.3,245.5 1603.5,239.0 1603.6,241.9 1603.7,241.6 1603.8,242.0 1603.9,241.8 1604.0,226.8 1604.1,221.1 1604.2,215.3 1604.3,209.5 1604.4,203.7 1604.5,244.9 1604.6,245.3 1604.7,246.2 1604.8,250.8 1604.9,258.0 1605.0,260.6 1605.1,263.1 1605.2,265.4 1605.3,269.7 1605.3,271.5 1605.4,265.1 1605.5,261.7 1605.6,258.1 1605.7,255.2 1605.9,250.4 1606.0,245.9 1606.1,241.8 1606.2,241.1 1606.3,227.6 1606.4,223.6 1606.5,249.2 1606.6,223.9 1606.7,242.2 1606.8,237.2 1606.9,237.7 1607.1,244.2 1607.2,243.2 1607.3,241.8 1607.4,249.4 1607.5,240.0 1607.6,247.5 1607.7,243.6 1607.8,242.1 1607.9,241.2 1608.0,248.7 1608.1,239.6 1608.3,235.7 1608.4,240.6 1608.5,247.2 1608.6,237.1 1608.7,243.1 1608.8,249.0 1608.9,248.5 1609.0,245.9 1609.1,250.0 1609.2,242.8 1609.3,241.7 1609.5,234.0 1609.6,244.1 1609.7,246.8 1609.8,241.0 1609.9,241.6 1610.0,245.1 1610.1,244.9 1610.2,241.0 1610.3,239.8 1610.4,240.8 1610.6,234.0 1610.7,240.3 1610.8,247.6 1610.9,248.2 1611.0,234.0 1611.1,241.5 1611.2,241.1 1611.3,238.9 1611.4,246.2 1611.5,238.9 1611.6,242.4 1611.8,242.1 1611.9,237.1 1612.0,242.3 1612.1,241.2 1612.2,244.3 1612.3,239.8 1612.4,245.3 1612.5,242.1 1612.6,241.8 1612.7,242.0 1612.8,234.0 1613.0,249.5 1613.1,249.0 1613.2,239.8 1613.3,234.0 1613.4,240.9 1613.5,246.2 1613.6,234.0 1613.7,250.0 1613.8,238.4 1613.9,239.7 1614.0,238.8 1614.2,243.6 1614.3,244.0 1614.4,242.6 1614.5,243.9 1614.6,238.8 1614.7,245.1 1614.8,240.7 1614.9,241.5 1615.0,247.4 1615.1,243.6 1615.2,246.0 1615.4,250.0 1615.5,239.5 1615.6,244.4 1615.7,236.1 1615.8,250.0 1615.9,236.5 1616.0,235.2 1616.1,239.8 1616.2,249.0 1616.3,244.2 1616.4,234.8 1616.6,244.3 1616.7,239.7 1616.8,239.1 1616.9,250.0 1617.0,245.1 1617.1,245.5 1617.2,245.6 1617.3,239.9 1617.4,245.1 1617.5,241.2 1617.6,234.0 1617.8,241.6 1617.9,248.6 1618.0,240.2 1618.1,247.5 1618.2,239.9 1618.3,243.7 1618.4,243.6 1618.5,244.6 1618.6,246.4 1618.7,239.1 1618.9,243.8 1619.0,250.0 1619.1,246.9 1619.2,241.9 1619.3,243.9 1619.4,244.3 1619.5,231.7 1619.6,225.9 1619.7,220.1 1619.8,214.3 1619.9,208.5 1620.1,202.8 1620.2,241.8 1620.2,244.0 1620.3,244.3 1620.4,246.4 1620.5,250.3 1620.6,250.1 1620.7,249.4 1620.8,253.3 1620.9,254.7 1620.9,251.7 1621.0,249.7 1621.1,250.1 1621.3,246.8 1621.4,247.4 1621.5,243.2 1621.6,242.4 1621.7,242.6 1621.8,226.5 1621.9,239.0 1622.0,224.9 1622.1,239.9 1622.2,239.6 1622.3,226.2 1622.5,234.0 1622.6,244.8 1622.7,236.3 1622.8,234.6 1622.9,238.7 1623.0,242.5 1623.1,242.2 1623.2,250.0 1623.3,240.9 1623.4,238.3 1623.5,247.2 1623.7,242.7 1623.8,239.9 1623.9,237.8 1624.0,241.7 1624.1,248.7 1624.2,244.9 1624.3,240.5 1624.4,246.0 1624.5,242.9 1624.6,236.0 1624.7,245.3 1624.9,244.6 1625.0,249.6 1625.1,241.6 1625.2,236.7 1625.3,245.3 1625.4,250.0 1625.5,238.8 1625.6,249.7 1625.7,242.4 1625.8,245.2 1625.9,242.2 1626.1,238.2 1626.2,247.0 1626.3,240.4 1626.4,243.2 1626.5,245.0 1626.6,236.2 1626.7,245.3 1626.8,244.4 1626.9,241.2 1627.0,239.6 1627.2,243.9 1627.3,244.5 1627.4,241.6 1627.5,243.5 1627.6,242.5 1627.7,234.5 1627.8,248.0 1627.9,247.4 1628.0,237.1 1628.1,250.0 1628.2,241.8 1628.4,240.6 1628.5,244.5 1628.6,248.9 1628.7,239.1 1628.8,248.5 1628.9,243.3 1629.0,238.9 1629.1,245.0 1629.2,240.7 1629.3,244.4 1629.4,245.6 1629.6,242.1 1629.7,235.3 1629.8,250.0 1629.9,250.0 1630.0,250.0 1630.1,243.1 1630.2,246.1 1630.3,245.6 1630.4,234.5 1630.5,240.7 1630.6,242.6 1630.8,237.7 1630.9,242.7 1631.0,244.6 1631.1,240.6 1631.2,235.7 1631.3,249.2 1631.4,246.5 1631.5,242.9 1631.6,244.9 1631.7,234.9 1631.8,243.2 1632.0,242.3 1632.1,250.0 1632.2,245.9 1632.3,241.7 1632.4,249.5 1632.5,245.3 1632.6,239.6 1632.7,240.4 1632.8,250.0 1632.9,239.4 1633.0,239.6 1633.2,241.2 1633.3,238.2 1633.4,241.9 1633.5,242.4 1633.6,242.4 1633.7,234.0 1633.8,234.8 1633.9,234.0 1634.0,245.2 1634.1,242.5 1634.2,234.0 1634.4,243.8 1634.5,246.3 1634.6,240.7 1634.7,242.0 1634.8,246.8 1634.9,234.0 1635.0,231.2 1635.1,225.5 1635.2,219.7 1635.3,213.9 1635.5,208.1 1635.6,202.3 1635.7,244.1 1635.7,244.5 1635.8,249.0 1635.9,252.4 1636.0,256.6 1636.1,259.5 1636.2,266.3 1636.3,269.0 1636.4,269.3 1636.4,268.5 1636.5,265.7 1636.7,263.2 1636.8,256.7 1636.9,253.9 1637.0,249.2 1637.1,245.3 1637.2,240.3 1637.3,225.2 1637.4,245.6 1637.5,226.2 1637.6,244.1 1637.7,244.0 1637.9,245.9 1638.0,240.2 1638.1,238.7 1638.2,243.1 1638.3,243.9 1638.4,234.0 1638.5,246.8 1638.6,245.7 1638.7,239.7 1638.8,239.8 1638.9,240.3 1639.1,243.8 1639.2,243.0 1639.3,245.3 1639.4,236.7 1639.5,238.2 1639.6,242.2 1639.7,242.7 1639.8,238.8 1639.9,248.0 1640.0,243.5 1640.1,245.6 1640.3,244.3 1640.4,249.7 1640.5,240.4 1640.6,241.5 1640.7,245.6 1640.8,244.7 1640.9,235.9 1641.0,240.0 1641.1,244.3 1641.2,243.5 1641.3,240.4 1641.5,237.6 1641.6,241.2 1641.7,245.8 1641.8,245.7 1641.9,240.9 1642.0,238.1 1642.1,240.3 1642.2,234.2 1642.3,246.5 1642.4,246.3 1642.5,241.9 1642.7,244.4 1642.8,248.9 1642.9,242.1 1643.0,242.5 1643.1,245.9 1643.2,239.3 1643.3,244.0 1643.4,237.8 1643.5,245.7 1643.6,238.6 1643.8,242.4 1643.9,242.7 1644.0,235.9 1644.1,240.0 1644.2,243.6 1644.3,241.0 1644.4,238.9 1644.5,239.0 1644.6,239.5 1644.7,241.9 1644.8,240.9 1645.0,247.3 1645.1,243.9 1645.2,241.0 1645.3,234.0 1645.4,242.5 1645.5,244.9 1645.6,241.4 1645.7,249.5 1645.8,249.7 1645.9,247.1 1646.0,241.2 1646.2,250.0 1646.3,245.4 1646.4,234.6 1646.5,248.3 1646.6,235.9 1646.7,236.2 1646.8,246.2 1646.9,248.7 1647.0,242.8 1647.1,246.5 1647.2,246.8 1647.4,235.0 1647.5,243.3 1647.6,244.9 1647.7,237.6 1647.8,245.2 1647.9,240.3 1648.0,243.5 1648.1,242.1 1648.2,249.2 1648.3,243.0 1648.4,241.2 1648.6,235.0 1648.7,239.1 1648.8,250.0 1648.9,244.0 1649.0,246.5 1649.1,246.1 1649.2,236.0 1649.3,240.0 1649.4,240.4 1649.5,246.4 1649.6,237.9 1649.8,239.6 1649.9,239.3 1650.0,237.9 1650.1,241.1 1650.2,242.4 1650.3,238.2 1650.4,238.5 1650.5,230.8 1650.6,225.0 1650.7,219.2 1650.9,213.4 1651.0,207.6 1651.1,201.9 1651.2,244.2 1651.2,244.6 1651.3,247.0 1651.4,249.7 1651.5,252.8 1651.6,253.5 1651.7,257.8 1651.8,261.8 1651.9,263.2 1651.9,258.8 1652.1,258.1 1652.2,256.8 1652.3,253.0 1652.4,251.7 1652.5,248.1 1652.6,245.3 1652.7,227.0 1652.8,243.1 1652.9,223.3 1653.0,224.8 1653.1,239.2 1653.3,238.8 1653.4,222.0 1653.5,237.5 1653.6,238.9 1653.7,238.7 1653.8,243.0 1653.9,238.6 1654.0,247.9 1654.1,241.6 1654.2,237.1 1654.3,247.9 1654.5,239.4 1654.6,243.0 1654.7,241.9 1654.8,240.6 1654.9,243.5 1655.0,238.9 1655.1,234.0 1655.2,234.0 1655.3,236.3 1655.4,238.6 1655.5,241.9 1655.7,242.2 1655.8,244.5 1655.9,242.5 1656.0,238.4 1656.1,238.8 1656.2,234.0 1656.3,241.2 1656.4,244.2 1656.5,244.4 1656.6,241.5 1656.7,241.2 1656.9,246.2 1657.0,242.1 1657.1,245.3 1657.2,244.6 1657.3,243.0 1657.4,247.9 1657.5,239.4 1657.6,240.4 1657.7,238.4 1657.8,238.4 1657.9,249.0 1658.1,249.9 1658.2,242.1 1658.3,244.6 1658.4,247.3 1658.5,245.6 1658.6,247.4 1658.7,236.3 1658.8,239.1 1658.9,244.0 1659.0,248.5 1659.2,242.5 1659.3,238.1 1659.4,240.4 1659.5,239.0 1659.6,238.1 1659.7,248.8 1659.8,239.2 1659.9,242.1 1660.0,250.0 1660.1,247.3 1660.2,243.5 1660.4,239.2 1660.5,243.8 1660.6,249.3 1660.7,244.8 1660.8,247.7 1660.9,242.4 1661.0,244.3 1661.1,241.1 1661.2,243.9 1661.3,247.9 1661.4,235.6 1661.6,241.7 1661.7,243.1 1661.8,239.4 1661.9,240.6 1662.0,245.5 1662.1,250.0 1662.2,244.8 1662.3,243.5 1662.4,235.0 1662.5,250.0 1662.6,242.3 1662.8,241.8 1662.9,237.0 1663.0,241.7 1663.1,237.1 1663.2,242.3 1663.3,244.1 1663.4,242.1 1663.5,243.3 1663.6,238.2 1663.7,248.4 1663.8,239.1 1664.0,234.0 1664.1,241.2 1664.2,238.6 1664.3,237.5 1664.4,240.4 1664.5,243.3 1664.6,236.7 1664.7,241.4 1664.8,248.4 1664.9,245.1 1665.0,241.3 1665.2,242.6 1665.3,241.5 1665.4,241.8 1665.5,245.3 1665.6,241.6 1665.7,234.0 1665.8,241.9 1665.9,230.8 1666.0,225.1 1666.1,219.3 1666.2,213.5 1666.4,207.7 1666.5,201.9 1666.6,243.4 1666.6,243.7 1666.7,248.1 1666.8,251.2 1666.9,255.8 1667.0,260.9 1667.1,266.5 1667.2,268.6 1667.3,270.6 1667.3,268.9 1667.5,265.4 1667.6,260.3 1667.7,257.8 1667.8,255.7 1667.9,249.9 1668.0,246.3 1668.1,236.1 1668.2,227.4 1668.3,239.3 1668.4,227.9 1668.5,226.3 1668.7,222.2 1668.8,237.8 1668.9,245.7 1669.0,237.0 1669.1,246.6 1669.2,242.9 1669.3,234.9 1669.4,245.0 1669.5,238.0 1669.6,247.8 1669.7,238.9 1669.9,241.3 1670.0,243.3 1670.1,240.5 1670.2,243.2 1670.3,239.5 1670.4,245.0 1670.5,242.0 1670.6,242.9 1670.7,234.0 1670.8,247.2 1670.9,242.1 1671.1,234.0 1671.2,242.4 1671.3,244.1 1671.4,246.8 1671.5,237.1 1671.6,249.0 1671.7,241.3 1671.8,250.0 1671.9,241.3 1672.0,245.1 1672.1,240.4 1672.3,237.0 1672.4,246.9 1672.5,246.1 1672.6,248.9 1672.7,245.9 1672.8,239.4 1672.9,234.5 1673.0,239.1 1673.1,239.0 1673.2,238.3 1673.3,244.6 1673.5,243.5 1673.6,240.8 1673.7,242.8 1673.8,241.3 1673.9,243.0 1674.0,245.4 1674.1,246.3 1674.2,238.9 1674.3,235.2 1674.4,248.4 1674.5,242.5 1674.7,247.0 1674.8,234.6 1674.9,240.5 1675.0,242.1 1675.1,235.5 1675.2,239.7 1675.3,245.3 1675.4,246.9 1675.5,249.2 1675.6,238.1 1675.8,235.7 1675.9,244.3 1676.0,246.2 1676.1,242.9 1676.2,236.1 1676.3,245.5 1676.4,245.6 1676.5,244.5 1676.6,239.8 1676.7,243.4 1676.8,245.6 1677.0,239.5 1677.1,234.0 1677.2,243.5 1677.3,244.2 1677.4,242.1 1677.5,246.0 1677.6,239.4 1677.7,241.6 1677.8,240.6 1677.9,244.6 1678.0,249.2 1678.2,240.9 1678.3,250.0 1678.4,248.9 1678.5,245.6 1678.6,244.6 1678.7,250.0 1678.8,241.2 1678.9,241.5 1679.0,237.2 1679.1,244.1 1679.2,248.1 1679.4,244.4 1679.5,243.9 1679.6,241.1 1679.7,242.8 1679.8,235.6 1679.9,246.7 1680.0,240.2 1680.1,237.0 1680.2,238.6 1680.3,238.3 1680.4,245.8 1680.6,246.8 1680.7,235.9 1680.8,246.2 1680.9,246.0 1681.0,239.4 1681.1,235.3 1681.2,238.6 1681.3,239.1 1681.4,243.5 1681.5,229.9 1681.6,224.1 1681.8,218.3 1681.9,212.5 1682.0,206.8 1682.1,201.0 1682.2,242.5 1682.2,244.8 1682.3,245.6 1682.4,245.0 1682.5,247.6 1682.6,250.3 1682.7,250.7 1682.9,250.9 1682.9,255.0 1683.0,253.6 1683.1,251.5 1683.2,249.2 1683.3,247.6 1683.4,245.0 1683.5,246.1 1683.6,244.3 1683.7,225.6 1683.8,225.5 1683.9,226.4 1684.1,223.6 1684.2,223.2 1684.3,226.7 1684.4,247.4 1684.5,247.7 1684.6,238.6 1684.7,238.2 1684.8,239.0 1684.9,240.8 1685.0,246.1 1685.1,241.1 1685.3,236.7 1685.4,235.6 1685.5,244.0 1685.6,237.4 1685.7,240.4 1685.8,247.5 1685.9,248.0 1686.0,248.0 1686.1,236.6 1686.2,248.9 1686.3,241.5 1686.5,246.3 1686.6,241.9 1686.7,246.7 1686.8,242.1 1686.9,242.3 1687.0,241.4 1687.1,238.4 1687.2,242.1 1687.3,245.8 1687.4,237.3 1687.5,242.6 1687.7,237.7 1687.8,237.0 1687.9,235.3 1688.0,249.9 1688.1,242.9 1688.2,240.8 1688.3,246.6 1688.4,234.0 1688.5,242.5 1688.6,239.6 1688.7,245.1 1688.9,236.4 1689.0,242.7 1689.1,242.1 1689.2,248.3 1689.3,240.0 1689.4,242.0 1689.5,244.1 1689.6,244.0 1689.7,244.6 1689.8,242.7 1689.9,237.9 1690.1,247.6 1690.2,250.0 1690.3,242.7 1690.4,239.4 1690.5,246.8 1690.6,238.1 1690.7,243.3 1690.8,235.4 1690.9,248.2 1691.0,237.1 1691.2,243.6 1691.3,239.5 1691.4,240.1 1691.5,236.8 1691.6,241.8 1691.7,237.2 1691.8,246.2 1691.9,238.2 1692.0,241.7 1692.1,245.3 1692.2,245.4 1692.4,246.0 1692.5,246.7 1692.6,243.8 1692.7,245.2 1692.8,246.1 1692.9,236.4 1693.0,242.1 1693.1,242.3 1693.2,241.6 1693.3,244.7 1693.4,237.7 1693.6,235.8 1693.7,239.4 1693.8,244.4 1693.9,238.3 1694.0,234.0 1694.1,247.6 1694.2,247.7 1694.3,244.9 1694.4,241.3 1694.5,241.2 1694.6,236.7 1694.8,237.7 1694.9,245.7 1695.0,240.3 1695.1,247.3 1695.2,241.4 1695.3,234.0 1695.4,242.9 1695.5,249.0 1695.6,243.5 1695.7,239.1 1695.8,239.1 1696.0,244.8 1696.1,238.7 1696.2,236.6 1696.3,242.9 1696.4,242.4 1696.5,238.9 1696.6,237.7 1696.7,243.9 1696.8,234.1 1696.9,239.2 1697.0,239.8 1697.2,229.0 1697.3,223.2 1697.4,217.4 1697.5,211.6 1697.6,205.8 1697.7,241.9 1697.8,244.7 1697.8,246.8 1697.9,249.3 1698.0,253.7 1698.1,255.8 1698.2,261.8 1698.4,265.9 1698.5,271.8 1698.5,270.0 1698.6,267.4 1698.7,263.1 1698.8,259.6 1698.9,256.7 1699.0,252.7 1699.1,247.6 1699.2,243.2 1699.3,224.1 1699.5,243.9 1699.6,227.3 1699.7,244.0 1699.8,227.9 1699.9,224.4 1700.0,225.5 1700.1,237.2 1700.2,247.2 1700.3,245.9 1700.4,242.6 1700.5,244.5 1700.7,242.4 1700.8,242.0 1700.9,241.1 1701.0,239.9 1701.1,243.9 1701.2,241.6 1701.3,243.6 1701.4,240.3 1701.5,249.1 1701.6,242.8 1701.7,242.4 1701.9,249.3 1702.0,242.6 1702.1,243.3 1702.2,243.1 1702.3,235.0 1702.4,246.5 1702.5,236.3 1702.6,247.5 1702.7,245.2 1702.8,240.7 1702.9,237.2 1703.1,245.1 1703.2,240.6 1703.3,249.0 1703.4,240.4 1703.5,242.8 1703.6,242.1 1703.7,237.2 1703.8,235.3 1703.9,245.4 1704.0,243.9 1704.1,241.7 1704.3,239.3 1704.4,245.3 1704.5,238.0 1704.6,246.0 1704.7,243.6 1704.8,237.7 1704.9,239.8 1705.0,240.9 1705.1,239.7 1705.2,243.3 1705.3,237.9 1705.5,238.1 1705.6,237.0 1705.7,238.1 1705.8,244.2 1705.9,244.4 1706.0,234.0 1706.1,243.3 1706.2,236.3 1706.3,241.6 1706.4,243.5 1706.5,248.9 1706.7,240.9 1706.8,243.9 1706.9,238.4 1707.0,234.0 1707.1,234.4 1707.2,245.0 1707.3,236.7 1707.4,240.3 1707.5,246.4 1707.6,245.3 1707.8,239.2 1707.9,239.6 1708.0,236.4 1708.1,248.5 1708.2,237.0 1708.3,241.9 1708.4,242.3 1708.5,241.6 1708.6,246.7 1708.7,234.9 1708.8,237.7 1709.0,243.0 1709.1,241.1 1709.2,246.1 1709.3,234.9 1709.4,245.9 1709.5,237.7 1709.6,240.7 1709.7,250.0 1709.8,244.4 1709.9,235.6 1710.0,245.6 1710.2,239.9 1710.3,246.9 1710.4,244.9 1710.5,242.9 1710.6,239.1 1710.7,242.0 1710.8,234.0 1710.9,242.6 1711.0,248.1 1711.1,239.8 1711.2,237.5 1711.4,242.9 1711.5,245.3 1711.6,242.1 1711.7,234.0 1711.8,240.1 1711.9,242.5 1712.0,244.7 1712.1,234.7 1712.2,242.6 1712.3,247.9 1712.4,249.5 1712.6,236.4 1712.7,236.9 1712.8,228.0 1712.9,222.2 1713.0,216.5 1713.1,210.7 1713.2,204.9 1713.3,241.4 1713.4,243.1 1713.4,243.8 1713.5,246.4 1713.6,247.4 1713.8,247.4 1713.9,251.4 1714.0,252.9 1714.1,253.5 1714.1,253.6 1714.2,254.1 1714.3,248.9 1714.4,249.4 1714.5,247.7 1714.6,245.1 1714.7,244.1 1714.8,243.0 1715.0,241.7 1715.1,247.8 1715.2,227.0 1715.3,238.1 1715.4,226.5 1715.5,222.6 1715.6,249.1 1715.7,237.2 1715.8,249.6 1715.9,244.3 1716.1,240.4 1716.2,235.7 1716.3,243.5 1716.4,241.9 1716.5,246.6 1716.6,248.0 1716.7,248.3 1716.8,239.5 1716.9,240.2 1717.0,247.7 1717.1,242.1 1717.3,239.9 1717.4,240.4 1717.5,245.1 1717.6,245.7 1717.7,245.6 1717.8,243.6 1717.9,244.9 1718.0,246.2 1718.1,247.3 1718.2,249.1 1718.3,242.6 1718.5,242.4 1718.6,243.1 1718.7,244.9 1718.8,240.6 1718.9,250.0 1719.0,238.4" fill="none" stroke="#5b2b92" stroke-width="1.3" stroke-linejoin="round" />
<rect x="746" y="89.6" width="155.8" height="224.5" fill="none" stroke="#3a3a3a" stroke-width="1.5"/>
<rect x="946" y="89.6" width="155.3" height="224.5" fill="none" stroke="#3a3a3a" stroke-width="1.5"/>
<rect x="1153" y="89.6" width="155.3" height="224.5" fill="none" stroke="#3a3a3a" stroke-width="1.5"/>
<rect x="1367.6" y="89.6" width="154.6" height="224.5" fill="none" stroke="#3a3a3a" stroke-width="1.5"/>
<rect x="1565.4" y="89.6" width="154.1" height="224.5" fill="none" stroke="#3a3a3a" stroke-width="1.5"/>
<text x="745.2" y="70.0" font-size="32.5" fill="#1a1a1a" stroke="#1a1a1a" stroke-width="0.3" textLength="153.7" lengthAdjust="spacingAndGlyphs" >Left single</text>
<text x="937.7" y="70.0" font-size="32.5" fill="#1a1a1a" stroke="#1a1a1a" stroke-width="0.3" textLength="174.8" lengthAdjust="spacingAndGlyphs" >Right single</text>
<text x="1179.0" y="70.0" font-size="32.5" fill="#1a1a1a" stroke="#1a1a1a" stroke-width="0.3" textLength="103.3" lengthAdjust="spacingAndGlyphs" >0° shift</text>
<text x="1381.4" y="70.0" font-size="32.5" fill="#1a1a1a" stroke="#1a1a1a" stroke-width="0.3" textLength="121.1" lengthAdjust="spacingAndGlyphs" >90° shift</text>
<text x="1571.5" y="70.0" font-size="32.5" fill="#1a1a1a" stroke="#1a1a1a" stroke-width="0.3" textLength="139.8" lengthAdjust="spacingAndGlyphs" >180° shift</text>
<text x="703.9" y="99.0" font-size="28" fill="#1a1a1a" stroke="#1a1a1a" stroke-width="0.3" text-anchor="start" >0.4</text>
<text x="704.5" y="172.4" font-size="28" fill="#1a1a1a" stroke="#1a1a1a" stroke-width="0.3" text-anchor="start" >0.2</text>
<text x="727.5" y="250.8" font-size="28" fill="#1a1a1a" stroke="#1a1a1a" stroke-width="0.3" text-anchor="start" >0</text>
<text x="695.2" y="320.9" font-size="28" fill="#1a1a1a" stroke="#1a1a1a" stroke-width="0.3" text-anchor="start" >-0.2</text>
<text x="-1.7" y="0" font-size="33.2" fill="#1a1a1a" stroke="#1a1a1a" stroke-width="0.3" textLength="184.3" lengthAdjust="spacingAndGlyphs" transform="translate(685.5,294.7) rotate(-90)">Current (µA)</text>
<text x="739.3" y="339.0" font-size="28" fill="#1a1a1a" stroke="#1a1a1a" stroke-width="0.3">0</text>
<text x="806.7" y="339.0" font-size="28" fill="#1a1a1a" stroke="#1a1a1a" stroke-width="0.3">0.5</text>
<text x="890.0" y="339.0" font-size="28" fill="#1a1a1a" stroke="#1a1a1a" stroke-width="0.3">1</text>
<text x="944.8" y="339.0" font-size="28" fill="#1a1a1a" stroke="#1a1a1a" stroke-width="0.3">0</text>
<text x="1003.9" y="339.0" font-size="28" fill="#1a1a1a" stroke="#1a1a1a" stroke-width="0.3">0.5</text>
<text x="1096.5" y="339.0" font-size="28" fill="#1a1a1a" stroke="#1a1a1a" stroke-width="0.3">1</text>
<text x="1149.2" y="339.0" font-size="28" fill="#1a1a1a" stroke="#1a1a1a" stroke-width="0.3">0</text>
<text x="1211.3" y="339.0" font-size="28" fill="#1a1a1a" stroke="#1a1a1a" stroke-width="0.3">0.5</text>
<text x="1300.7" y="339.0" font-size="28" fill="#1a1a1a" stroke="#1a1a1a" stroke-width="0.3">1</text>
<text x="1362.5" y="339.0" font-size="28" fill="#1a1a1a" stroke="#1a1a1a" stroke-width="0.3">0</text>
<text x="1428.5" y="339.0" font-size="28" fill="#1a1a1a" stroke="#1a1a1a" stroke-width="0.3">0.5</text>
<text x="1513.3" y="339.0" font-size="28" fill="#1a1a1a" stroke="#1a1a1a" stroke-width="0.3">1</text>
<text x="1560.0" y="339.0" font-size="28" fill="#1a1a1a" stroke="#1a1a1a" stroke-width="0.3">0</text>
<text x="1626.9" y="339.0" font-size="28" fill="#1a1a1a" stroke="#1a1a1a" stroke-width="0.3">0.5</text>
<text x="1712.3" y="339.0" font-size="28" fill="#1a1a1a" stroke="#1a1a1a" stroke-width="0.3">1</text>
<text x="1171.9" y="382.3" font-size="33.2" fill="#1a1a1a" stroke="#1a1a1a" stroke-width="0.3" textLength="122.1" lengthAdjust="spacingAndGlyphs" >Time (s)</text>
<line x1="801.0" y1="433.6" x2="847.4" y2="433.6" stroke="#e8388c" stroke-width="4.2" />
<line x1="801.0" y1="469.4" x2="847.4" y2="469.4" stroke="#f8b81f" stroke-width="4.2" />
<text x="857.5" y="443.0" font-size="31.5" fill="#1a1a1a" stroke="#1a1a1a" stroke-width="0.3" textLength="210.3" lengthAdjust="spacingAndGlyphs" >Right actuator</text>
<text x="857.5" y="478.0" font-size="31.5" fill="#1a1a1a" stroke="#1a1a1a" stroke-width="0.3" textLength="187.4" lengthAdjust="spacingAndGlyphs" >Left actuator</text>
<rect x="850.3" y="511.6" width="11.9" height="76.0" fill="#8f8f91" />
<rect x="828.8" y="586.8" width="54.3" height="17.5" fill="#000" />
<rect x="778.3" y="657.3" width="194.0" height="5.6" fill="#8f8f91" />
<path d="M760,670.5 C790,650 830,643 860,644 C900,646 935,660 955.7,671.5 C925,664 890,659 860,660 C820,661 790,665 760,670.5 Z" fill="#2f8f3a"/>
<rect x="825.3" y="662" width="61.3" height="19" rx="4" fill="#666667"/>
<rect x="850.5" y="681.0" width="10.0" height="47.0" fill="#8f8f91" />
<line x1="903.8" y1="605.0" x2="903.8" y2="638.5" stroke="#000" stroke-width="2" />
<path d="M899.3,610 L903.8,601.5 L908.3,610 Z M899.3,634 L903.8,642.5 L908.3,634 Z" fill="#000"/>
<text x="919.3" y="633.9" font-size="31.5" fill="#1a1a1a" stroke="#1a1a1a" stroke-width="0.3" textLength="130.5" lengthAdjust="spacingAndGlyphs" >Distance</text>
<text x="692.1" y="598.9" font-size="30" fill="#1a1a1a" stroke="#1a1a1a" stroke-width="0.3" textLength="117.2" lengthAdjust="spacingAndGlyphs" >Silicone</text>
<text x="696.7" y="624.5" font-size="30" fill="#1a1a1a" stroke="#1a1a1a" stroke-width="0.3" textLength="107.3" lengthAdjust="spacingAndGlyphs" >sample</text>
<polyline points="1154.0,661.8 1154.2,663.4 1154.3,666.7 1154.5,664.8 1154.7,663.6 1154.9,664.6 1155.0,664.9 1155.2,665.3 1155.4,662.8 1155.5,662.5 1155.7,664.4 1155.9,664.1 1156.1,665.0 1156.2,664.4 1156.4,663.2 1156.6,663.0 1156.7,665.8 1156.9,662.7 1157.1,662.2 1157.3,661.9 1157.4,663.1 1157.6,663.1 1157.8,662.7 1158.0,662.9 1158.1,663.3 1158.3,663.7 1158.5,664.1 1158.6,663.2 1158.8,661.2 1159.0,663.7 1159.2,661.6 1159.3,662.8 1159.5,661.5 1159.7,663.0 1159.8,662.2 1160.0,663.2 1160.2,666.3 1160.4,663.0 1160.5,663.8 1160.7,661.7 1160.9,662.7 1161.0,663.7 1161.2,662.9 1161.4,663.4 1161.6,663.1 1161.7,662.0 1161.9,663.6 1162.1,662.2 1162.2,664.9 1162.4,662.5 1162.6,663.7 1162.8,663.0 1162.9,664.0 1163.1,662.4 1163.3,664.0 1163.4,662.9 1163.6,664.3 1163.8,663.6 1164.0,663.1 1164.1,662.2 1164.3,663.8 1164.5,663.5 1164.7,664.6 1164.8,662.6 1165.0,663.6 1165.2,663.5 1165.3,663.3 1165.5,662.7 1165.7,657.4 1165.9,652.2 1166.0,646.9 1166.2,641.6 1166.4,636.3 1166.5,631.1 1166.7,625.8 1166.9,620.5 1167.1,615.2 1167.2,609.9 1167.4,604.7 1167.6,599.4 1167.7,594.1 1167.9,588.8 1168.1,583.5 1168.3,578.3 1168.4,573.0 1168.6,567.7 1168.8,562.4 1168.9,557.2 1169.1,551.9 1169.3,546.6 1169.5,541.3 1169.6,536.0 1169.8,530.8 1170.0,525.5 1170.1,520.2 1170.3,514.9 1170.5,509.7 1170.7,504.4 1170.8,499.1 1171.0,494.2 1171.2,493.0 1171.3,491.3 1171.5,490.0 1171.7,489.8 1171.9,489.9 1172.0,490.0 1172.2,488.9 1172.4,488.3 1172.6,487.5 1172.7,486.9 1172.9,486.0 1173.1,486.0 1173.2,486.4 1173.4,484.3 1173.6,483.7 1173.8,485.3 1173.9,483.7 1174.1,483.9 1174.3,483.5 1174.4,481.8 1174.6,483.9 1174.8,483.1 1175.0,481.9 1175.1,482.0 1175.3,481.3 1175.5,480.5 1175.6,480.7 1175.8,480.7 1176.0,480.9 1176.2,480.4 1176.3,479.9 1176.5,480.2 1176.7,479.1 1176.8,479.5 1177.0,479.4 1177.2,478.6 1177.4,477.9 1177.5,478.0 1177.7,478.2 1177.9,478.1 1178.0,478.1 1178.2,477.2 1178.4,477.3 1178.6,477.2 1178.7,476.8 1178.9,476.0 1179.1,476.6 1179.3,476.8 1179.4,476.3 1179.6,475.6 1179.8,475.5 1179.9,475.4 1180.1,475.8 1180.3,475.1 1180.5,474.8 1180.6,475.0 1180.8,474.3 1181.0,474.6 1181.1,475.8 1181.3,483.6 1181.5,491.3 1181.7,499.0 1181.8,506.8 1182.0,514.5 1182.2,522.2 1182.3,529.9 1182.5,537.7 1182.7,545.4 1182.9,553.1 1183.0,560.9 1183.2,568.6 1183.4,576.3 1183.5,584.1 1183.7,591.8 1183.9,599.5 1184.1,607.3 1184.2,615.0 1184.4,622.7 1184.6,630.4 1184.7,638.2 1184.9,645.9 1185.1,653.6 1185.3,661.4 1185.4,664.9 1185.6,664.7 1185.8,665.6 1186.0,666.0 1186.1,665.0 1186.3,664.4 1186.5,662.1 1186.6,663.1 1186.8,663.1 1187.0,663.0 1187.2,664.1 1187.3,663.1 1187.5,664.1 1187.7,663.4 1187.8,662.7 1188.0,663.1 1188.2,663.4 1188.4,663.9 1188.5,662.5 1188.7,662.8 1188.9,661.6 1189.0,664.6 1189.2,664.5 1189.4,662.8 1189.6,662.5 1189.7,661.8 1189.9,663.2 1190.1,663.2 1190.2,665.2 1190.4,663.2 1190.6,662.2 1190.8,660.6 1190.9,664.4 1191.1,663.2 1191.3,661.4 1191.4,663.2 1191.6,661.4 1191.8,666.5 1192.0,664.1 1192.1,663.6 1192.3,662.8 1192.5,660.9 1192.7,662.9 1192.8,661.4 1193.0,663.6 1193.2,660.9 1193.3,662.1 1193.5,664.2 1193.7,664.6 1193.9,661.8 1194.0,661.5 1194.2,663.9 1194.4,663.9 1194.5,662.0 1194.7,662.3 1194.9,662.3 1195.1,661.8 1195.2,662.3 1195.4,664.3 1195.6,663.7 1195.7,665.1 1195.9,662.9 1196.1,662.9 1196.3,662.0 1196.4,662.9 1196.6,661.4 1196.8,656.2 1196.9,650.9 1197.1,645.6 1197.3,640.3 1197.5,635.0 1197.6,629.8 1197.8,624.5 1198.0,619.2 1198.1,613.9 1198.3,608.7 1198.5,603.4 1198.7,598.1 1198.8,592.8 1199.0,587.5 1199.2,582.3 1199.3,577.0 1199.5,571.7 1199.7,566.4 1199.9,561.1 1200.0,555.9 1200.2,550.6 1200.4,545.3 1200.6,540.0 1200.7,534.8 1200.9,529.5 1201.1,524.2 1201.2,518.9 1201.4,513.6 1201.6,508.4 1201.8,503.1 1201.9,497.8 1202.1,492.4 1202.3,490.9 1202.4,492.3 1202.6,492.1 1202.8,490.7 1203.0,490.4 1203.1,488.7 1203.3,487.2 1203.5,487.3 1203.6,486.4 1203.8,485.3 1204.0,484.4 1204.2,484.1 1204.3,484.9 1204.5,484.6 1204.7,483.8 1204.8,484.8 1205.0,483.6 1205.2,483.5 1205.4,483.6 1205.5,482.0 1205.7,481.0 1205.9,482.4 1206.0,481.3 1206.2,482.2 1206.4,481.4 1206.6,481.5 1206.7,481.1 1206.9,479.4 1207.1,480.6 1207.3,479.7 1207.4,479.4 1207.6,479.4 1207.8,479.7 1207.9,479.5 1208.1,479.3 1208.3,478.0 1208.5,478.3 1208.6,477.4 1208.8,478.0 1209.0,478.0 1209.1,477.4 1209.3,477.5 1209.5,477.3 1209.7,477.2 1209.8,476.6 1210.0,476.4 1210.2,476.2 1210.3,476.6 1210.5,476.2 1210.7,475.7 1210.9,475.6 1211.0,475.4 1211.2,475.2 1211.4,474.9 1211.5,474.6 1211.7,474.2 1211.9,474.2 1212.1,474.5 1212.2,477.7 1212.4,485.4 1212.6,493.2 1212.7,500.9 1212.9,508.6 1213.1,516.4 1213.3,524.1 1213.4,531.8 1213.6,539.6 1213.8,547.3 1214.0,555.0 1214.1,562.8 1214.3,570.5 1214.5,578.2 1214.6,585.9 1214.8,593.7 1215.0,601.4 1215.2,609.1 1215.3,616.9 1215.5,624.6 1215.7,632.3 1215.8,640.0 1216.0,647.8 1216.2,655.5 1216.4,666.5 1216.5,665.6 1216.7,664.9 1216.9,664.8 1217.0,664.9 1217.2,663.6 1217.4,664.3 1217.6,664.1 1217.7,663.0 1217.9,662.8 1218.1,662.5 1218.2,662.4 1218.4,664.3 1218.6,661.0 1218.8,663.0 1218.9,662.4 1219.1,662.4 1219.3,663.1 1219.4,664.1 1219.6,663.1 1219.8,662.9 1220.0,662.4 1220.1,662.9 1220.3,663.9 1220.5,662.6 1220.6,661.9 1220.8,661.7 1221.0,661.9 1221.2,661.6 1221.3,664.1 1221.5,663.4 1221.7,662.8 1221.9,664.5 1222.0,662.3 1222.2,663.8 1222.4,663.8 1222.5,661.5 1222.7,661.4 1222.9,662.1 1223.1,663.9 1223.2,664.3 1223.4,661.8 1223.6,664.0 1223.7,662.6 1223.9,662.6 1224.1,662.4 1224.3,662.7 1224.4,661.2 1224.6,662.0 1224.8,661.8 1224.9,663.5 1225.1,665.1 1225.3,665.7 1225.5,662.7 1225.6,661.3 1225.8,662.6 1226.0,662.1 1226.1,665.0 1226.3,663.6 1226.5,662.3 1226.7,663.9 1226.8,663.5 1227.0,661.4 1227.2,662.5 1227.3,662.8 1227.5,663.0 1227.7,660.2 1227.9,654.9 1228.0,649.6 1228.2,644.3 1228.4,639.0 1228.6,633.8 1228.7,628.5 1228.9,623.2 1229.1,617.9 1229.2,612.6 1229.4,607.4 1229.6,602.1 1229.8,596.8 1229.9,591.5 1230.1,586.3 1230.3,581.0 1230.4,575.7 1230.6,570.4 1230.8,565.1 1231.0,559.9 1231.1,554.6 1231.3,549.3 1231.5,544.0 1231.6,538.8 1231.8,533.5 1232.0,528.2 1232.2,522.9 1232.3,517.6 1232.5,512.4 1232.7,507.1 1232.8,501.8 1233.0,496.5 1233.2,493.5 1233.4,492.0 1233.5,491.6 1233.7,490.0 1233.9,488.9 1234.0,490.4 1234.2,488.7 1234.4,488.1 1234.6,485.8 1234.7,486.5 1234.9,486.8 1235.1,484.6 1235.3,486.1 1235.4,484.5 1235.6,484.7 1235.8,483.9 1235.9,483.9 1236.1,484.2 1236.3,482.8 1236.5,483.8 1236.6,481.9 1236.8,481.6 1237.0,482.3 1237.1,481.0 1237.3,481.2 1237.5,481.6 1237.7,481.6 1237.8,479.7 1238.0,480.7 1238.2,481.1 1238.3,480.5 1238.5,479.6 1238.7,479.2 1238.9,479.2 1239.0,478.6 1239.2,478.7 1239.4,478.6 1239.5,478.4 1239.7,478.6 1239.9,477.9 1240.1,477.3 1240.2,477.9 1240.4,477.1 1240.6,477.0 1240.7,476.9 1240.9,476.6 1241.1,476.3 1241.3,476.3 1241.4,476.7 1241.6,475.8 1241.8,475.7 1242.0,475.8 1242.1,475.5 1242.3,475.3 1242.5,475.1 1242.6,474.2 1242.8,474.3 1243.0,474.3 1243.2,474.2 1243.3,479.6 1243.5,487.3 1243.7,495.1 1243.8,502.8 1244.0,510.5 1244.2,518.3 1244.4,526.0 1244.5,533.7 1244.7,541.4 1244.9,549.2 1245.0,556.9 1245.2,564.6 1245.4,572.4 1245.6,580.1 1245.7,587.8 1245.9,595.5 1246.1,603.3 1246.2,611.0 1246.4,618.7 1246.6,626.5 1246.8,634.2 1246.9,641.9 1247.1,649.7 1247.3,657.4 1247.4,667.2 1247.6,665.9 1247.8,664.8 1248.0,664.7 1248.1,664.2 1248.3,664.5 1248.5,664.7 1248.6,663.5 1248.8,662.9 1249.0,662.8 1249.2,664.6 1249.3,664.7 1249.5,664.4 1249.7,664.2 1249.9,664.1 1250.0,663.0 1250.2,663.7 1250.4,661.9 1250.5,662.8 1250.7,662.3 1250.9,663.7 1251.1,662.4 1251.2,662.9 1251.4,663.4 1251.6,664.4 1251.7,662.2 1251.9,662.1 1252.1,663.8 1252.3,661.9 1252.4,663.5 1252.6,662.4 1252.8,662.9 1252.9,661.2 1253.1,663.7 1253.3,662.5 1253.5,662.1 1253.6,665.1 1253.8,663.7 1254.0,666.5 1254.1,663.4 1254.3,662.7 1254.5,663.1 1254.7,664.6 1254.8,663.0 1255.0,663.5 1255.2,663.5 1255.3,662.1 1255.5,663.1 1255.7,662.5 1255.9,661.8 1256.0,663.9 1256.2,663.7 1256.4,663.1 1256.6,662.1 1256.7,661.0 1256.9,663.5 1257.1,662.9 1257.2,661.3 1257.4,662.9 1257.6,661.5 1257.8,663.0 1257.9,663.1 1258.1,663.4 1258.3,663.2 1258.4,663.2 1258.6,661.9 1258.8,658.9 1259.0,653.6 1259.1,648.3 1259.3,643.0 1259.5,637.8 1259.6,632.5 1259.8,627.2 1260.0,621.9 1260.2,616.6 1260.3,611.4 1260.5,606.1 1260.7,600.8 1260.8,595.5 1261.0,590.3 1261.2,585.0 1261.4,579.7 1261.5,574.4 1261.7,569.1 1261.9,563.9 1262.0,558.6 1262.2,553.3 1262.4,548.0 1262.6,542.7 1262.7,537.5 1262.9,532.2 1263.1,526.9 1263.3,521.6 1263.4,516.4 1263.6,511.1 1263.8,505.8 1263.9,500.5 1264.1,495.2 1264.3,492.8 1264.5,491.6 1264.6,491.0 1264.8,490.6 1265.0,490.1 1265.1,490.3 1265.3,485.9 1265.5,487.9 1265.7,486.8 1265.8,488.4 1266.0,486.7 1266.2,484.2 1266.3,485.4 1266.5,484.3 1266.7,485.1 1266.9,483.2 1267.0,483.5 1267.2,483.2 1267.4,482.9 1267.5,482.3 1267.7,481.2 1267.9,482.4 1268.1,482.5 1268.2,481.5 1268.4,480.7 1268.6,481.2 1268.7,481.1 1268.9,480.5 1269.1,480.3 1269.3,480.8 1269.4,479.4 1269.6,479.4 1269.8,478.6 1269.9,478.9 1270.1,478.7 1270.3,478.4 1270.5,478.3 1270.6,479.0 1270.8,478.1 1271.0,477.9 1271.2,478.4 1271.3,477.5 1271.5,476.8 1271.7,477.2 1271.8,476.7 1272.0,477.1 1272.2,476.2 1272.4,476.1 1272.5,475.7 1272.7,475.9 1272.9,475.4 1273.0,475.4 1273.2,475.1 1273.4,474.9 1273.6,475.1 1273.7,474.9 1273.9,474.4 1274.1,474.0 1274.2,473.7 1274.4,481.5 1274.6,489.2 1274.8,496.9 1274.9,504.7 1275.1,512.4 1275.3,520.1 1275.4,527.9 1275.6,535.6 1275.8,543.3 1276.0,551.0 1276.1,558.8 1276.3,566.5 1276.5,574.2 1276.6,582.0 1276.8,589.7 1277.0,597.4 1277.2,605.2 1277.3,612.9 1277.5,620.6 1277.7,628.3 1277.9,636.1 1278.0,643.8 1278.2,651.5 1278.4,659.3 1278.5,666.0 1278.7,667.7 1278.9,664.5 1279.1,663.9 1279.2,663.7 1279.4,663.1 1279.6,663.0 1279.7,663.6 1279.9,665.1 1280.1,663.6 1280.3,663.0 1280.4,661.8 1280.6,663.6 1280.8,663.3 1280.9,662.0 1281.1,661.9 1281.3,663.0 1281.5,664.0 1281.6,663.6 1281.8,663.2 1282.0,662.7 1282.1,663.3 1282.3,663.0 1282.5,665.2 1282.7,661.9 1282.8,662.6 1283.0,664.3 1283.2,662.7 1283.3,664.4 1283.5,663.0 1283.7,663.1 1283.9,662.6 1284.0,661.6 1284.2,662.0 1284.4,665.2 1284.6,663.6 1284.7,663.6 1284.9,664.0 1285.1,663.6 1285.2,664.0 1285.4,662.7 1285.6,662.8 1285.8,664.0 1285.9,662.6 1286.1,661.7 1286.3,662.8 1286.4,662.5 1286.6,663.6 1286.8,662.3 1287.0,661.9 1287.1,662.7 1287.3,664.6 1287.5,663.0 1287.6,663.2 1287.8,663.0 1288.0,663.3 1288.2,663.9 1288.3,664.4 1288.5,661.4 1288.7,664.4 1288.8,663.0 1289.0,662.7 1289.2,665.4 1289.4,662.8 1289.5,664.9 1289.7,662.9 1289.9,657.6 1290.0,652.3 1290.2,647.0 1290.4,641.8 1290.6,636.5 1290.7,631.2 1290.9,625.9 1291.1,620.6 1291.3,615.4 1291.4,610.1 1291.6,604.8 1291.8,599.5 1291.9,594.2 1292.1,589.0 1292.3,583.7 1292.5,578.4 1292.6,573.1 1292.8,567.9 1293.0,562.6 1293.1,557.3 1293.3,552.0 1293.5,546.7 1293.7,541.5 1293.8,536.2 1294.0,530.9 1294.2,525.6 1294.3,520.4 1294.5,515.1 1294.7,509.8 1294.9,504.5 1295.0,499.2 1295.2,495.0 1295.4,491.9 1295.5,492.4 1295.7,491.7 1295.9,490.0 1296.1,487.3 1296.2,488.4 1296.4,487.9 1296.6,486.5 1296.7,488.4 1296.9,486.2 1297.1,485.6 1297.3,485.2 1297.4,484.4 1297.6,484.0 1297.8,484.3 1297.9,484.1 1298.1,483.2 1298.3,483.1 1298.5,482.0 1298.6,482.9 1298.8,481.8 1299.0,482.2 1299.2,481.2 1299.3,481.2 1299.5,481.4 1299.7,480.3 1299.8,482.1 1300.0,480.5 1300.2,480.3 1300.4,479.7 1300.5,480.6 1300.7,480.2 1300.9,479.5 1301.0,478.6 1301.2,478.8 1301.4,479.0 1301.6,478.3 1301.7,477.9 1301.9,477.7 1302.1,477.6 1302.2,477.7 1302.4,477.3 1302.6,477.3 1302.8,477.8 1302.9,477.3 1303.1,476.4 1303.3,476.5 1303.4,476.2 1303.6,476.0 1303.8,476.1 1304.0,475.5 1304.1,475.3 1304.3,475.1 1304.5,475.0 1304.6,475.1 1304.8,474.8 1305.0,474.0 1305.2,474.1 1305.3,475.6 1305.5,483.4 1305.7,491.1 1305.9,498.8 1306.0,506.5 1306.2,514.3 1306.4,522.0 1306.5,529.7 1306.7,537.5 1306.9,545.2 1307.1,552.9 1307.2,560.7 1307.4,568.4 1307.6,576.1 1307.7,583.8 1307.9,591.6 1308.1,599.3 1308.3,607.0 1308.4,614.8 1308.6,622.5" fill="none" stroke="#f8b81f" stroke-width="3.4" stroke-linejoin="round" />
<polyline points="1154.0,665.0 1154.2,666.2 1154.3,665.2 1154.5,664.6 1154.7,665.7 1154.9,664.5 1155.0,664.0 1155.2,665.8 1155.4,663.4 1155.5,662.5 1155.7,661.6 1155.9,662.5 1156.1,663.7 1156.2,663.9 1156.4,664.1 1156.6,664.9 1156.7,664.7 1156.9,663.7 1157.1,664.4 1157.3,663.7 1157.4,662.5 1157.6,663.9 1157.8,663.1 1158.0,662.8 1158.1,665.1 1158.3,663.8 1158.5,662.6 1158.6,663.0 1158.8,665.4 1159.0,662.8 1159.2,663.8 1159.3,663.7 1159.5,663.6 1159.7,663.6 1159.8,662.6 1160.0,662.6 1160.2,662.9 1160.4,662.7 1160.5,663.9 1160.7,664.6 1160.9,662.2 1161.0,663.6 1161.2,662.1 1161.4,662.4 1161.6,662.8 1161.7,663.2 1161.9,662.6 1162.1,660.4 1162.2,664.5 1162.4,662.8 1162.6,662.4 1162.8,663.7 1162.9,662.5 1163.1,661.6 1163.3,663.6 1163.4,663.5 1163.6,662.2 1163.8,663.9 1164.0,663.4 1164.1,661.9 1164.3,664.8 1164.5,663.3 1164.7,661.9 1164.8,663.5 1165.0,663.2 1165.2,653.0 1165.3,642.7 1165.5,632.3 1165.7,622.0 1165.9,611.6 1166.0,601.2 1166.2,590.9 1166.4,580.5 1166.5,570.2 1166.7,559.8 1166.9,549.5 1167.1,539.1 1167.2,528.8 1167.4,518.4 1167.6,508.1 1167.7,497.7 1167.9,487.4 1168.1,477.0 1168.3,466.6 1168.4,456.3 1168.6,451.2 1168.8,441.2 1168.9,454.5 1169.1,455.2 1169.3,455.2 1169.5,455.8 1169.6,460.0 1169.8,458.0 1170.0,456.1 1170.1,452.6 1170.3,461.7 1170.5,461.7 1170.7,459.4 1170.8,459.3 1171.0,462.0 1171.2,449.6 1171.3,461.2 1171.5,450.9 1171.7,461.6 1171.9,464.9 1172.0,468.2 1172.2,460.1 1172.4,463.5 1172.6,462.1 1172.7,455.3 1172.9,465.2 1173.1,463.1 1173.2,463.6 1173.4,460.8 1173.6,463.8 1173.8,464.3 1173.9,467.8 1174.1,465.4 1174.3,473.8 1174.4,464.0 1174.6,464.6 1174.8,465.3 1175.0,463.8 1175.1,469.2 1175.3,467.5 1175.5,463.7 1175.6,466.8 1175.8,469.0 1176.0,464.3 1176.2,467.4 1176.3,467.0 1176.5,471.4 1176.7,468.4 1176.8,467.4 1177.0,467.4 1177.2,470.9 1177.4,468.0 1177.5,471.7 1177.7,467.1 1177.9,469.0 1178.0,469.2 1178.2,468.8 1178.4,469.6 1178.6,471.0 1178.7,469.4 1178.9,468.7 1179.1,472.4 1179.3,472.8 1179.4,470.2 1179.6,471.7 1179.8,468.3 1179.9,473.1 1180.1,470.3 1180.3,476.0 1180.5,484.4 1180.6,492.8 1180.8,501.3 1181.0,509.7 1181.1,518.1 1181.3,526.5 1181.5,534.9 1181.7,543.3 1181.8,551.7 1182.0,560.1 1182.2,568.6 1182.3,577.0 1182.5,585.4 1182.7,593.8 1182.9,602.2 1183.0,610.6 1183.2,619.0 1183.4,627.4 1183.5,635.9 1183.7,644.3 1183.9,652.7 1184.1,661.1 1184.2,670.4 1184.4,671.9 1184.6,667.4 1184.7,667.8 1184.9,665.9 1185.1,664.5 1185.3,664.7 1185.4,665.7 1185.6,663.7 1185.8,664.1 1186.0,665.2 1186.1,664.1 1186.3,662.7 1186.5,665.4 1186.6,663.2 1186.8,664.5 1187.0,662.0 1187.2,664.8 1187.3,661.7 1187.5,661.3 1187.7,662.6 1187.8,662.7 1188.0,663.3 1188.2,662.5 1188.4,663.7 1188.5,664.4 1188.7,662.4 1188.9,661.7 1189.0,662.6 1189.2,663.9 1189.4,663.9 1189.6,662.7 1189.7,662.0 1189.9,663.0 1190.1,664.0 1190.2,662.3 1190.4,664.4 1190.6,663.3 1190.8,663.3 1190.9,662.4 1191.1,664.4 1191.3,663.1 1191.4,661.5 1191.6,663.9 1191.8,662.6 1192.0,664.1 1192.1,663.2 1192.3,662.4 1192.5,663.2 1192.7,662.5 1192.8,662.2 1193.0,663.1 1193.2,663.9 1193.3,663.1 1193.5,663.0 1193.7,662.5 1193.9,663.6 1194.0,663.3 1194.2,664.0 1194.4,663.4 1194.5,665.2 1194.7,661.5 1194.9,663.0 1195.1,663.6 1195.2,664.0 1195.4,661.5 1195.6,661.8 1195.7,663.0 1195.9,664.1 1196.1,660.9 1196.3,650.5 1196.4,640.1 1196.6,629.8 1196.8,619.4 1196.9,609.1 1197.1,598.7 1197.3,588.4 1197.5,578.0 1197.6,567.7 1197.8,557.3 1198.0,547.0 1198.1,536.6 1198.3,526.2 1198.5,515.9 1198.7,505.5 1198.8,495.2 1199.0,484.8 1199.2,474.5 1199.3,464.1 1199.5,453.8 1199.7,452.2 1199.9,440.7 1200.0,450.3 1200.2,456.6 1200.4,452.2 1200.6,448.3 1200.7,450.8 1200.9,448.9 1201.1,461.0 1201.2,455.3 1201.4,455.2 1201.6,454.0 1201.8,457.6 1201.9,455.0 1202.1,455.3 1202.3,459.5 1202.4,459.1 1202.6,462.1 1202.8,461.3 1203.0,465.4 1203.1,461.3 1203.3,462.7 1203.5,462.8 1203.6,459.7 1203.8,466.5 1204.0,461.1 1204.2,458.3 1204.3,467.2 1204.5,465.6 1204.7,462.3 1204.8,466.8 1205.0,467.0 1205.2,466.5 1205.4,461.8 1205.5,465.5 1205.7,462.8 1205.9,464.1 1206.0,464.4 1206.2,464.1 1206.4,467.2 1206.6,464.8 1206.7,467.8 1206.9,467.1 1207.1,465.9 1207.3,467.5 1207.4,468.6 1207.6,469.4 1207.8,467.4 1207.9,470.5 1208.1,469.0 1208.3,470.1 1208.5,467.0 1208.6,467.5 1208.8,470.6 1209.0,469.0 1209.1,470.1 1209.3,471.2 1209.5,468.1 1209.7,470.7 1209.8,472.8 1210.0,471.5 1210.2,470.9 1210.3,471.7 1210.5,471.2 1210.7,472.3 1210.9,473.2 1211.0,471.5 1211.2,472.7 1211.4,478.1 1211.5,486.5 1211.7,494.9 1211.9,503.3 1212.1,511.7 1212.2,520.1 1212.4,528.5 1212.6,537.0 1212.7,545.4 1212.9,553.8 1213.1,562.2 1213.3,570.6 1213.4,579.0 1213.6,587.4 1213.8,595.8 1214.0,604.3 1214.1,612.7 1214.3,621.1 1214.5,629.5 1214.6,637.9 1214.8,646.3 1215.0,654.7 1215.2,672.3 1215.3,671.3 1215.5,670.3 1215.7,667.3 1215.8,668.7 1216.0,667.7 1216.2,665.1 1216.4,665.5 1216.5,663.8 1216.7,664.7 1216.9,665.0 1217.0,663.2 1217.2,663.4 1217.4,663.1 1217.6,663.1 1217.7,662.3 1217.9,662.0 1218.1,663.6 1218.2,662.8 1218.4,662.2 1218.6,664.0 1218.8,662.5 1218.9,663.9 1219.1,661.8 1219.3,664.5 1219.4,662.6 1219.6,662.1 1219.8,663.5 1220.0,661.7 1220.1,662.0 1220.3,663.3 1220.5,662.6 1220.6,663.4 1220.8,663.2 1221.0,663.3 1221.2,663.2 1221.3,663.8 1221.5,663.0 1221.7,664.2 1221.9,664.0 1222.0,661.1 1222.2,661.3 1222.4,664.6 1222.5,662.6 1222.7,663.2 1222.9,662.9 1223.1,663.3 1223.2,665.3 1223.4,662.3 1223.6,663.1 1223.7,663.0 1223.9,662.0 1224.1,662.2 1224.3,662.8 1224.4,663.0 1224.6,663.4 1224.8,661.1 1224.9,661.5 1225.1,664.7 1225.3,662.9 1225.5,663.9 1225.6,662.6 1225.8,662.3 1226.0,665.2 1226.1,661.8 1226.3,662.1 1226.5,663.7 1226.7,663.1 1226.8,661.4 1227.0,663.2 1227.2,658.3 1227.3,648.0 1227.5,637.6 1227.7,627.3 1227.9,616.9 1228.0,606.6 1228.2,596.2 1228.4,585.9 1228.6,575.5 1228.7,565.1 1228.9,554.8 1229.1,544.4 1229.2,534.1 1229.4,523.7 1229.6,513.4 1229.8,503.0 1229.9,492.7 1230.1,482.3 1230.3,472.0 1230.4,461.6 1230.6,451.3 1230.8,450.7 1231.0,441.1 1231.1,447.2 1231.3,454.9 1231.5,461.3 1231.6,442.6 1231.8,451.1 1232.0,455.2 1232.2,451.8 1232.3,452.6 1232.5,455.0 1232.7,459.9 1232.8,453.9 1233.0,462.3 1233.2,462.5 1233.4,463.0 1233.5,465.9 1233.7,458.5 1233.9,460.7 1234.0,464.8 1234.2,465.9 1234.4,465.0 1234.6,460.6 1234.7,460.8 1234.9,458.5 1235.1,461.6 1235.3,460.5 1235.4,462.0 1235.6,462.6 1235.8,466.3 1235.9,466.5 1236.1,464.3 1236.3,461.7 1236.5,464.7 1236.6,466.2 1236.8,467.4 1237.0,466.0 1237.1,467.6 1237.3,464.6 1237.5,467.5 1237.7,467.9 1237.8,465.9 1238.0,465.4 1238.2,469.2 1238.3,465.5 1238.5,468.6 1238.7,467.2 1238.9,467.4 1239.0,467.7 1239.2,467.7 1239.4,468.4 1239.5,470.9 1239.7,470.7 1239.9,469.0 1240.1,469.9 1240.2,470.7 1240.4,469.2 1240.6,472.3 1240.7,470.2 1240.9,471.2 1241.1,469.4 1241.3,469.4 1241.4,469.7 1241.6,470.4 1241.8,472.7 1242.0,471.2 1242.1,472.9 1242.3,471.5 1242.5,480.1 1242.6,488.5 1242.8,496.9 1243.0,505.3 1243.2,513.8 1243.3,522.2 1243.5,530.6 1243.7,539.0 1243.8,547.4 1244.0,555.8 1244.2,564.2 1244.4,572.6 1244.5,581.1 1244.7,589.5 1244.9,597.9 1245.0,606.3 1245.2,614.7 1245.4,623.1 1245.6,631.5 1245.7,639.9 1245.9,648.4 1246.1,656.8 1246.2,670.7 1246.4,670.5 1246.6,668.7 1246.8,666.5 1246.9,667.4 1247.1,667.9 1247.3,665.9 1247.4,664.4 1247.6,664.5 1247.8,663.7 1248.0,664.3 1248.1,663.4 1248.3,664.0 1248.5,664.1 1248.6,665.1 1248.8,661.9 1249.0,661.0 1249.2,664.7 1249.3,663.5 1249.5,662.7 1249.7,663.5 1249.9,662.1 1250.0,662.7 1250.2,663.7 1250.4,662.7 1250.5,663.2 1250.7,663.5 1250.9,663.2 1251.1,662.8 1251.2,663.5 1251.4,664.4 1251.6,664.3 1251.7,662.2 1251.9,663.8 1252.1,661.1 1252.3,661.6 1252.4,663.4 1252.6,663.6 1252.8,664.4 1252.9,661.3 1253.1,664.1 1253.3,662.5 1253.5,662.6 1253.6,663.5 1253.8,664.4 1254.0,662.1 1254.1,661.3 1254.3,662.4 1254.5,662.9 1254.7,664.2 1254.8,663.4 1255.0,662.7 1255.2,662.5 1255.3,662.6 1255.5,664.0 1255.7,661.4 1255.9,662.3 1256.0,662.2 1256.2,664.2 1256.4,663.2 1256.6,662.4 1256.7,663.8 1256.9,665.0 1257.1,664.1 1257.2,661.7 1257.4,662.8 1257.6,664.2 1257.8,661.2 1257.9,661.8 1258.1,662.6 1258.3,655.8 1258.4,645.5 1258.6,635.1 1258.8,624.8 1259.0,614.4 1259.1,604.0 1259.3,593.7 1259.5,583.3 1259.6,573.0 1259.8,562.6 1260.0,552.3 1260.2,541.9 1260.3,531.6 1260.5,521.2 1260.7,510.9 1260.8,500.5 1261.0,490.2 1261.2,479.8 1261.4,469.4 1261.5,459.1 1261.7,448.7 1261.9,450.0 1262.0,444.9 1262.2,450.9 1262.4,450.7 1262.6,454.0 1262.7,448.0 1262.9,444.4 1263.1,445.7 1263.3,456.7 1263.4,460.8 1263.6,459.3 1263.8,451.2 1263.9,451.3 1264.1,457.7 1264.3,455.7 1264.5,452.7 1264.6,458.0 1264.8,457.6 1265.0,460.5 1265.1,462.6 1265.3,462.2 1265.5,462.5 1265.7,463.9 1265.8,462.1 1266.0,461.3 1266.2,461.9 1266.3,466.8 1266.5,462.6 1266.7,466.0 1266.9,468.6 1267.0,468.9 1267.2,458.7 1267.4,465.0 1267.5,467.3 1267.7,464.0 1267.9,463.7 1268.1,462.3 1268.2,464.3 1268.4,466.0 1268.6,462.3 1268.7,466.4 1268.9,465.0 1269.1,466.9 1269.3,465.1 1269.4,467.4 1269.6,467.7 1269.8,466.6 1269.9,466.9 1270.1,469.4 1270.3,469.1 1270.5,467.5 1270.6,469.3 1270.8,467.5 1271.0,468.5 1271.2,465.7 1271.3,468.9 1271.5,470.6 1271.7,469.4 1271.8,470.9 1272.0,469.6 1272.2,471.0 1272.4,470.6 1272.5,469.8 1272.7,473.8 1272.9,470.4 1273.0,470.0 1273.2,472.0 1273.4,473.7 1273.6,482.2 1273.7,490.6 1273.9,499.0 1274.1,507.4 1274.2,515.8 1274.4,524.2 1274.6,532.6 1274.8,541.0 1274.9,549.5 1275.1,557.9 1275.3,566.3 1275.4,574.7 1275.6,583.1 1275.8,591.5 1276.0,599.9 1276.1,608.3 1276.3,616.8 1276.5,625.2 1276.6,633.6 1276.8,642.0 1277.0,650.4 1277.2,658.8 1277.3,671.7 1277.5,670.3 1277.7,668.8 1277.9,668.4 1278.0,668.1 1278.2,667.1 1278.4,664.6 1278.5,667.2 1278.7,665.1 1278.9,662.7 1279.1,665.3 1279.2,664.1 1279.4,664.3 1279.6,665.9 1279.7,663.2 1279.9,662.4 1280.1,662.0 1280.3,663.2 1280.4,663.7 1280.6,663.4 1280.8,663.2 1280.9,660.9 1281.1,663.3 1281.3,664.1 1281.5,662.5 1281.6,662.5 1281.8,662.0 1282.0,663.3 1282.1,661.5 1282.3,664.9 1282.5,662.8 1282.7,662.4 1282.8,661.8 1283.0,663.6 1283.2,664.0 1283.3,662.5 1283.5,663.2 1283.7,663.3 1283.9,664.0 1284.0,663.6 1284.2,664.2 1284.4,661.6 1284.6,665.6 1284.7,662.5 1284.9,661.9 1285.1,662.1 1285.2,663.4 1285.4,663.8 1285.6,665.4 1285.8,664.2 1285.9,662.3 1286.1,662.7 1286.3,662.5 1286.4,662.4 1286.6,662.8 1286.8,662.4 1287.0,664.2 1287.1,663.4 1287.3,663.6 1287.5,662.9 1287.6,661.9 1287.8,663.5 1288.0,662.6 1288.2,665.0 1288.3,664.2 1288.5,661.8 1288.7,662.0 1288.8,662.5 1289.0,662.8 1289.2,664.2 1289.4,653.3 1289.5,642.9 1289.7,632.6 1289.9,622.2 1290.0,611.9 1290.2,601.5 1290.4,591.2 1290.6,580.8 1290.7,570.5 1290.9,560.1 1291.1,549.8 1291.3,539.4 1291.4,529.0 1291.6,518.7 1291.8,508.3 1291.9,498.0 1292.1,487.6 1292.3,477.3 1292.5,466.9 1292.6,456.6 1292.8,446.2 1293.0,446.8 1293.1,451.4 1293.3,448.9 1293.5,450.6 1293.7,458.4 1293.8,453.8 1294.0,463.4 1294.2,455.2 1294.3,457.8 1294.5,458.5 1294.7,460.2 1294.9,465.9 1295.0,455.7 1295.2,456.9 1295.4,455.7 1295.5,466.7 1295.7,462.0 1295.9,462.3 1296.1,462.6 1296.2,454.8 1296.4,464.3 1296.6,462.3 1296.7,463.2 1296.9,462.8 1297.1,462.5 1297.3,462.8 1297.4,461.6 1297.6,462.9 1297.8,465.6 1297.9,458.2 1298.1,466.5 1298.3,466.2 1298.5,462.0 1298.6,466.2 1298.8,465.9 1299.0,464.2 1299.2,469.4 1299.3,466.2 1299.5,465.8 1299.7,463.6 1299.8,470.7 1300.0,467.1 1300.2,467.5 1300.4,466.7 1300.5,470.8 1300.7,467.3 1300.9,470.1 1301.0,469.5 1301.2,469.5 1301.4,469.2 1301.6,470.0 1301.7,468.6 1301.9,466.4 1302.1,465.9 1302.2,470.8 1302.4,467.1 1302.6,471.5 1302.8,473.9 1302.9,467.9 1303.1,471.2 1303.3,471.3 1303.4,470.0 1303.6,468.6 1303.8,471.2 1304.0,473.6 1304.1,471.6 1304.3,471.9 1304.5,475.8 1304.6,484.2 1304.8,492.6 1305.0,501.0 1305.2,509.4 1305.3,517.9 1305.5,526.3 1305.7,534.7 1305.9,543.1 1306.0,551.5 1306.2,559.9 1306.4,568.3 1306.5,576.7 1306.7,585.2 1306.9,593.6 1307.1,602.0 1307.2,610.4 1307.4,618.8 1307.6,627.2 1307.7,635.6 1307.9,644.0 1308.1,652.5 1308.3,660.9 1308.4,671.0 1308.6,669.7" fill="none" stroke="#e8388c" stroke-width="3.4" stroke-linejoin="round" />
<polyline points="1358.2,662.9 1358.4,664.5 1358.5,662.2 1358.7,661.2 1358.9,663.3 1359.1,663.7 1359.2,663.4 1359.4,663.6 1359.6,662.9 1359.8,662.5 1359.9,662.3 1360.1,662.9 1360.3,662.7 1360.4,664.0 1360.6,663.7 1360.8,661.8 1361.0,663.8 1361.1,653.8 1361.3,642.1 1361.5,630.4 1361.7,618.7 1361.8,607.0 1362.0,595.3 1362.2,583.6 1362.3,571.9 1362.5,560.2 1362.7,548.4 1362.9,536.7 1363.0,525.0 1363.2,513.3 1363.4,501.6 1363.6,489.9 1363.7,478.2 1363.9,466.5 1364.1,454.8 1364.2,446.8 1364.4,451.1 1364.6,453.9 1364.8,454.5 1364.9,452.8 1365.1,457.7 1365.3,455.9 1365.5,461.4 1365.6,459.3 1365.8,460.8 1366.0,464.2 1366.1,460.1 1366.3,463.0 1366.5,462.1 1366.7,463.2 1366.8,463.3 1367.0,465.4 1367.2,464.5 1367.4,465.5 1367.5,466.1 1367.7,463.6 1367.9,467.2 1368.0,465.6 1368.2,464.2 1368.4,465.4 1368.6,467.1 1368.7,467.3 1368.9,465.7 1369.1,466.6 1369.3,466.8 1369.4,467.6 1369.6,466.5 1369.8,467.6 1369.9,466.0 1370.1,466.2 1370.3,467.4 1370.5,467.5 1370.6,466.9 1370.8,467.4 1371.0,467.2 1371.2,467.6 1371.3,467.9 1371.5,467.5 1371.7,467.7 1371.8,466.9 1372.0,472.7 1372.2,471.5 1372.4,473.3 1372.5,473.1 1372.7,473.4 1372.9,472.0 1373.0,472.8 1373.2,472.8 1373.4,472.1 1373.6,473.5 1373.7,473.6 1373.9,472.5 1374.1,473.2 1374.3,473.8 1374.4,472.6 1374.6,473.4 1374.8,473.6 1374.9,473.8 1375.1,472.5 1375.3,472.6 1375.5,473.1 1375.6,473.5 1375.8,472.6 1376.0,472.8 1376.2,472.6 1376.3,473.5 1376.5,472.8 1376.7,473.3 1376.8,473.3 1377.0,473.5 1377.2,473.2 1377.4,473.2 1377.5,473.5 1377.7,473.2 1377.9,472.6 1378.1,475.4 1378.2,482.7 1378.4,490.0 1378.6,497.3 1378.7,504.6 1378.9,511.8 1379.1,519.1 1379.3,526.4 1379.4,533.7 1379.6,541.0 1379.8,548.3 1380.0,555.6 1380.1,562.9 1380.3,570.2 1380.5,577.5 1380.6,584.7 1380.8,592.0 1381.0,599.3 1381.2,606.6 1381.3,613.9 1381.5,621.2 1381.7,628.5 1381.9,635.8 1382.0,643.1 1382.2,650.4 1382.4,657.7 1382.5,664.5 1382.7,665.7 1382.9,664.6 1383.1,663.9 1383.2,664.3 1383.4,667.3 1383.6,663.7 1383.8,664.2 1383.9,664.1 1384.1,663.2 1384.3,664.7 1384.4,664.3 1384.6,663.8 1384.8,661.9 1385.0,664.6 1385.1,663.9 1385.3,663.0 1385.5,660.4 1385.7,663.1 1385.8,661.9 1386.0,662.9 1386.2,662.6 1386.3,662.3 1386.5,664.2 1386.7,663.2 1386.9,664.4 1387.0,662.1 1387.2,662.9 1387.4,664.5 1387.6,663.5 1387.7,662.4 1387.9,662.2 1388.1,662.5 1388.2,663.0 1388.4,663.8 1388.6,663.3 1388.8,663.9 1388.9,664.0 1389.1,663.2 1389.3,664.4 1389.5,663.9 1389.6,662.9 1389.8,662.9 1390.0,663.1 1390.1,662.4 1390.3,661.7 1390.5,663.2 1390.7,662.6 1390.8,663.7 1391.0,662.5 1391.2,663.2 1391.4,663.3 1391.5,662.6 1391.7,663.3 1391.9,662.4 1392.0,662.7 1392.2,663.9 1392.4,657.0 1392.6,645.3 1392.7,633.6 1392.9,621.9 1393.1,610.2 1393.3,598.5 1393.4,586.8 1393.6,575.1 1393.8,563.4 1393.9,551.7 1394.1,539.9 1394.3,528.2 1394.5,516.5 1394.6,504.8 1394.8,493.1 1395.0,481.4 1395.2,469.7 1395.3,458.0 1395.5,446.3 1395.7,449.4 1395.8,451.1 1396.0,452.0 1396.2,455.9 1396.4,459.3 1396.5,454.7 1396.7,460.4 1396.9,460.2 1397.0,462.3 1397.2,463.2 1397.4,460.9 1397.6,465.1 1397.7,462.6 1397.9,463.4 1398.1,464.9 1398.3,464.4 1398.4,465.1 1398.6,464.4 1398.8,464.0 1398.9,465.5 1399.1,464.4 1399.3,467.3 1399.5,466.2 1399.6,467.6 1399.8,464.9 1400.0,464.1 1400.2,464.0 1400.3,466.1 1400.5,465.2 1400.7,466.9 1400.8,465.3 1401.0,465.4 1401.2,467.0 1401.4,466.4 1401.5,467.4 1401.7,467.6 1401.9,467.2 1402.1,466.0 1402.2,466.3 1402.4,468.8 1402.6,466.9 1402.7,467.3 1402.9,467.2 1403.1,467.1 1403.3,467.0 1403.4,472.7 1403.6,472.7 1403.8,471.8 1404.0,474.0 1404.1,473.0 1404.3,472.3 1404.5,473.3 1404.6,473.4 1404.8,472.3 1405.0,472.8 1405.2,473.7 1405.3,473.3 1405.5,473.2 1405.7,473.4 1405.9,473.0 1406.0,472.9 1406.2,473.6 1406.4,473.0 1406.5,473.0 1406.7,473.3 1406.9,473.1 1407.1,472.6 1407.2,473.8 1407.4,473.0 1407.6,473.7 1407.8,473.2 1407.9,472.7 1408.1,473.6 1408.3,473.0 1408.4,472.7 1408.6,473.0 1408.8,472.2 1409.0,473.2 1409.1,472.8 1409.3,473.4 1409.5,480.7 1409.7,488.0 1409.8,495.3 1410.0,502.6 1410.2,509.8 1410.3,517.1 1410.5,524.4 1410.7,531.7 1410.9,539.0 1411.0,546.3 1411.2,553.6 1411.4,560.9 1411.6,568.2 1411.7,575.5 1411.9,582.7 1412.1,590.0 1412.2,597.3 1412.4,604.6 1412.6,611.9 1412.8,619.2 1412.9,626.5 1413.1,633.8 1413.3,641.1 1413.5,648.4 1413.6,655.7 1413.8,662.9 1414.0,664.5 1414.1,663.6 1414.3,665.0 1414.5,664.5 1414.7,665.1 1414.8,665.5 1415.0,664.0 1415.2,663.7 1415.4,663.8 1415.5,662.6 1415.7,662.8 1415.9,664.1 1416.0,662.4 1416.2,661.3 1416.4,662.7 1416.6,663.4 1416.7,664.6 1416.9,662.4 1417.1,662.1 1417.3,663.2 1417.4,662.9 1417.6,663.4 1417.8,662.6 1417.9,663.3 1418.1,662.5 1418.3,664.1 1418.5,663.4 1418.6,663.7 1418.8,662.7 1419.0,661.6 1419.2,663.1 1419.3,663.0 1419.5,664.2 1419.7,664.1 1419.8,663.1 1420.0,663.1 1420.2,662.1 1420.4,663.1 1420.5,663.3 1420.7,662.7 1420.9,662.0 1421.1,664.4 1421.2,662.2 1421.4,664.8 1421.6,664.3 1421.7,664.7 1421.9,662.2 1422.1,663.7 1422.3,661.7 1422.4,662.7 1422.6,661.5 1422.8,662.4 1423.0,662.6 1423.1,664.1 1423.3,664.2 1423.5,662.7 1423.6,660.2 1423.8,648.5 1424.0,636.8 1424.2,625.1 1424.3,613.4 1424.5,601.7 1424.7,590.0 1424.8,578.3 1425.0,566.6 1425.2,554.9 1425.4,543.2 1425.5,531.4 1425.7,519.7 1425.9,508.0 1426.1,496.3 1426.2,484.6 1426.4,472.9 1426.6,461.2 1426.7,449.5 1426.9,447.6 1427.1,449.1 1427.3,450.9 1427.4,451.8 1427.6,455.7 1427.8,458.2 1428.0,457.5 1428.1,460.2 1428.3,459.0 1428.5,460.0 1428.6,461.3 1428.8,463.8 1429.0,462.5 1429.2,464.6 1429.3,463.6 1429.5,463.0 1429.7,462.3 1429.9,464.4 1430.0,464.1 1430.2,466.4 1430.4,466.1 1430.5,463.9 1430.7,466.8 1430.9,466.6 1431.1,463.1 1431.2,465.1 1431.4,466.6 1431.6,464.8 1431.8,465.8 1431.9,467.0 1432.1,466.8 1432.3,467.1 1432.4,467.3 1432.6,466.0 1432.8,468.8 1433.0,467.3 1433.1,468.6 1433.3,466.7 1433.5,467.4 1433.7,467.2 1433.8,466.9 1434.0,467.3 1434.2,467.3 1434.3,467.7 1434.5,467.4 1434.7,473.1 1434.9,473.3 1435.0,473.9 1435.2,473.1 1435.4,473.4 1435.6,473.1 1435.7,472.0 1435.9,472.6 1436.1,472.6 1436.2,472.4 1436.4,472.7 1436.6,472.3 1436.8,473.1 1436.9,472.8 1437.1,473.5 1437.3,473.2 1437.5,472.5 1437.6,472.9 1437.8,473.0 1438.0,472.8 1438.1,472.9 1438.3,472.6 1438.5,472.8 1438.7,473.1 1438.8,472.9 1439.0,473.5 1439.2,472.2 1439.4,472.7 1439.5,472.9 1439.7,473.6 1439.9,473.4 1440.0,473.3 1440.2,473.4 1440.4,473.6 1440.6,473.3 1440.7,478.7 1440.9,486.0 1441.1,493.3 1441.3,500.6 1441.4,507.8 1441.6,515.1 1441.8,522.4 1441.9,529.7 1442.1,537.0 1442.3,544.3 1442.5,551.6 1442.6,558.9 1442.8,566.2 1443.0,573.5 1443.2,580.8 1443.3,588.0 1443.5,595.3 1443.7,602.6 1443.8,609.9 1444.0,617.2 1444.2,624.5 1444.4,631.8 1444.5,639.1 1444.7,646.4 1444.9,653.7 1445.1,660.9 1445.2,664.6 1445.4,664.7 1445.6,663.6 1445.7,663.9 1445.9,664.3 1446.1,663.3 1446.3,663.8 1446.4,663.2 1446.6,662.2 1446.8,662.0 1447.0,664.1 1447.1,663.4 1447.3,664.1 1447.5,663.1 1447.6,663.0 1447.8,663.3 1448.0,662.7 1448.2,664.4 1448.3,664.1 1448.5,663.5 1448.7,662.0 1448.8,662.5 1449.0,663.3 1449.2,664.2 1449.4,663.0 1449.5,663.0 1449.7,663.6 1449.9,663.2 1450.1,662.9 1450.2,661.9 1450.4,664.3 1450.6,663.0 1450.7,662.5 1450.9,662.9 1451.1,661.7 1451.3,661.4 1451.4,661.3 1451.6,663.4 1451.8,661.7 1452.0,663.1 1452.1,661.8 1452.3,661.3 1452.5,662.4 1452.6,662.3 1452.8,662.3 1453.0,664.8 1453.2,663.2 1453.3,662.4 1453.5,663.9 1453.7,662.7 1453.9,664.2 1454.0,661.5 1454.2,664.1 1454.4,661.9 1454.5,662.3 1454.7,663.2 1454.9,661.9 1455.1,651.7 1455.2,640.0 1455.4,628.3 1455.6,616.6 1455.8,604.9 1455.9,593.2 1456.1,581.5 1456.3,569.8 1456.4,558.1 1456.6,546.4 1456.8,534.7 1457.0,522.9 1457.1,511.2 1457.3,499.5 1457.5,487.8 1457.7,476.1 1457.8,464.4 1458.0,452.7 1458.2,444.8 1458.3,449.2 1458.5,451.5 1458.7,451.5 1458.9,456.9 1459.0,455.8 1459.2,457.3 1459.4,459.0 1459.6,460.3 1459.7,462.4 1459.9,458.9 1460.1,462.4 1460.2,464.0 1460.4,463.7 1460.6,463.7 1460.8,462.8 1460.9,464.9 1461.1,464.2 1461.3,465.2 1461.5,464.0 1461.6,465.1 1461.8,465.4 1462.0,464.2 1462.1,467.0 1462.3,465.9 1462.5,464.8 1462.7,465.9 1462.8,466.4 1463.0,466.0 1463.2,465.5 1463.4,466.3 1463.5,465.3 1463.7,465.1 1463.9,467.7 1464.0,468.2 1464.2,468.3 1464.4,468.6 1464.6,467.9 1464.7,466.2 1464.9,466.5 1465.1,467.8 1465.3,466.6 1465.4,466.8 1465.6,467.0 1465.8,467.4 1465.9,472.1 1466.1,473.0 1466.3,473.3 1466.5,471.8 1466.6,473.6 1466.8,473.4 1467.0,472.5 1467.2,473.9 1467.3,473.2 1467.5,473.2 1467.7,473.7 1467.8,471.9 1468.0,473.0 1468.2,473.4 1468.4,473.5 1468.5,473.0 1468.7,472.9 1468.9,472.7 1469.1,472.9 1469.2,472.7 1469.4,472.1 1469.6,472.8 1469.7,472.6 1469.9,472.8 1470.1,472.8 1470.3,472.8 1470.4,473.0 1470.6,473.0 1470.8,472.9 1471.0,472.8 1471.1,473.0 1471.3,472.9 1471.5,473.0 1471.6,473.5 1471.8,473.1 1472.0,476.7 1472.2,484.0 1472.3,491.3 1472.5,498.6 1472.7,505.8 1472.9,513.1 1473.0,520.4 1473.2,527.7 1473.4,535.0 1473.5,542.3 1473.7,549.6 1473.9,556.9 1474.1,564.2 1474.2,571.5 1474.4,578.8 1474.6,586.0 1474.8,593.3 1474.9,600.6 1475.1,607.9 1475.3,615.2 1475.4,622.5 1475.6,629.8 1475.8,637.1 1476.0,644.4 1476.1,651.7 1476.3,658.9 1476.5,664.5 1476.6,662.5 1476.8,662.9 1477.0,661.1 1477.2,664.8 1477.3,664.9 1477.5,663.3 1477.7,663.1 1477.9,663.9 1478.0,664.0 1478.2,661.6 1478.4,663.0 1478.5,662.9 1478.7,661.9 1478.9,664.6 1479.1,663.7 1479.2,662.4 1479.4,663.0 1479.6,662.4 1479.8,662.5 1479.9,662.6 1480.1,664.0 1480.3,663.0 1480.4,662.5 1480.6,662.3 1480.8,663.3 1481.0,662.1 1481.1,661.4 1481.3,662.9 1481.5,664.6 1481.7,662.3 1481.8,663.2 1482.0,662.8 1482.2,664.2 1482.3,663.5 1482.5,661.7 1482.7,664.7 1482.9,663.0 1483.0,662.1 1483.2,662.5 1483.4,663.1 1483.6,664.1 1483.7,662.7 1483.9,662.3 1484.1,664.3 1484.2,664.6 1484.4,662.6 1484.6,663.1 1484.8,663.4 1484.9,662.7 1485.1,662.1 1485.3,664.0 1485.5,661.9 1485.6,661.2 1485.8,663.6 1486.0,664.2 1486.1,663.8 1486.3,655.0 1486.5,643.2 1486.7,631.5 1486.8,619.8 1487.0,608.1 1487.2,596.4 1487.4,584.7 1487.5,573.0 1487.7,561.3 1487.9,549.6 1488.0,537.9 1488.2,526.2 1488.4,514.4 1488.6,502.7 1488.7,491.0 1488.9,479.3 1489.1,467.6 1489.3,455.9 1489.4,445.3 1489.6,448.7 1489.8,449.7 1489.9,452.6 1490.1,451.5 1490.3,455.3 1490.5,459.8 1490.6,457.4 1490.8,462.3 1491.0,461.0 1491.2,459.0 1491.3,463.4 1491.5,461.6 1491.7,464.0 1491.8,463.5 1492.0,463.6 1492.2,464.2 1492.4,463.1 1492.5,464.1 1492.7,464.7 1492.9,467.4 1493.1,464.9 1493.2,466.1 1493.4,466.3 1493.6,467.3 1493.7,465.8 1493.9,466.4 1494.1,465.3 1494.3,468.8 1494.4,465.0 1494.6,466.7 1494.8,466.2 1495.0,466.8 1495.1,466.2 1495.3,466.3 1495.5,467.6 1495.6,467.6 1495.8,466.8 1496.0,466.8 1496.2,467.1 1496.3,466.9 1496.5,467.3 1496.7,467.6 1496.9,467.4 1497.0,466.0 1497.2,467.1 1497.4,472.3 1497.5,473.2 1497.7,472.8 1497.9,473.2 1498.1,472.9 1498.2,473.5 1498.4,473.7 1498.6,473.1 1498.8,472.3 1498.9,473.0 1499.1,473.9 1499.3,472.7 1499.4,473.0 1499.6,474.0 1499.8,473.6 1500.0,473.2 1500.1,473.1 1500.3,472.5 1500.5,473.6 1500.6,473.3 1500.8,472.4 1501.0,473.0 1501.2,473.0 1501.3,473.0 1501.5,472.8 1501.7,473.9 1501.9,472.7 1502.0,473.6 1502.2,473.2 1502.4,473.0 1502.5,473.2 1502.7,473.3 1502.9,472.7 1503.1,472.9 1503.2,474.7 1503.4,482.0 1503.6,489.3 1503.8,496.6 1503.9,503.9 1504.1,511.1 1504.3,518.4 1504.4,525.7 1504.6,533.0 1504.8,540.3 1505.0,547.6 1505.1,554.9 1505.3,562.2 1505.5,569.5 1505.7,576.8 1505.8,584.0 1506.0,591.3 1506.2,598.6 1506.3,605.9 1506.5,613.2 1506.7,620.5 1506.9,627.8 1507.0,635.1 1507.2,642.4 1507.4,649.7 1507.6,656.9 1507.7,666.2 1507.9,665.6 1508.1,664.8 1508.2,663.0 1508.4,662.4 1508.6,665.3 1508.8,665.2 1508.9,664.1 1509.1,663.9 1509.3,663.1 1509.5,663.9 1509.6,664.5 1509.8,664.0 1510.0,662.7 1510.1,663.6 1510.3,662.5 1510.5,663.0 1510.7,661.9 1510.8,660.7 1511.0,662.0 1511.2,663.2 1511.4,662.2 1511.5,663.6 1511.7,662.5 1511.9,663.3 1512.0,662.6 1512.2,664.5 1512.4,662.6 1512.6,663.0 1512.7,664.2 1512.9,664.5 1513.1,661.9 1513.3,664.5 1513.4,662.0 1513.6,662.1" fill="none" stroke="#f8b81f" stroke-width="3.4" stroke-linejoin="round" />
<polyline points="1358.2,458.5 1358.4,458.1 1358.5,448.6 1358.7,446.9 1358.9,455.3 1359.1,459.4 1359.2,456.1 1359.4,451.3 1359.6,455.5 1359.8,463.3 1359.9,452.9 1360.1,462.2 1360.3,460.5 1360.4,460.5 1360.6,461.7 1360.8,457.3 1361.0,459.0 1361.1,465.4 1361.3,458.5 1361.5,458.5 1361.7,455.7 1361.8,458.7 1362.0,462.4 1362.2,463.9 1362.3,462.3 1362.5,462.3 1362.7,462.2 1362.9,461.6 1363.0,463.4 1363.2,460.6 1363.4,463.6 1363.6,461.0 1363.7,457.7 1363.9,458.6 1364.1,461.1 1364.2,460.6 1364.4,459.3 1364.6,460.3 1364.8,462.1 1364.9,462.6 1365.1,463.4 1365.3,460.7 1365.5,462.7 1365.6,463.7 1365.8,462.8 1366.0,464.7 1366.1,461.9 1366.3,462.6 1366.5,462.9 1366.7,462.3 1366.8,462.8 1367.0,463.2 1367.2,463.0 1367.4,462.5 1367.5,462.6 1367.7,463.2 1367.9,461.5 1368.0,463.7 1368.2,462.2 1368.4,463.3 1368.6,462.4 1368.7,463.9 1368.9,463.4 1369.1,463.6 1369.3,466.2 1369.4,473.9 1369.6,481.5 1369.8,489.1 1369.9,496.8 1370.1,504.4 1370.3,512.1 1370.5,519.7 1370.6,527.3 1370.8,535.0 1371.0,542.6 1371.2,550.2 1371.3,557.9 1371.5,565.5 1371.7,573.1 1371.8,580.8 1372.0,588.4 1372.2,596.0 1372.4,603.7 1372.5,611.3 1372.7,619.0 1372.9,626.6 1373.0,634.2 1373.2,641.9 1373.4,649.5 1373.6,657.1 1373.7,673.8 1373.9,672.8 1374.1,672.7 1374.3,668.1 1374.4,669.3 1374.6,668.1 1374.8,666.7 1374.9,665.2 1375.1,667.4 1375.3,665.6 1375.5,666.0 1375.6,664.4 1375.8,663.7 1376.0,665.3 1376.2,664.8 1376.3,662.7 1376.5,662.8 1376.7,663.6 1376.8,662.2 1377.0,662.2 1377.2,663.0 1377.4,664.0 1377.5,663.8 1377.7,663.2 1377.9,664.3 1378.1,662.9 1378.2,662.5 1378.4,665.3 1378.6,662.5 1378.7,663.6 1378.9,663.5 1379.1,663.1 1379.3,663.2 1379.4,663.7 1379.6,663.5 1379.8,662.4 1380.0,663.0 1380.1,664.4 1380.3,663.7 1380.5,662.6 1380.6,663.1 1380.8,662.0 1381.0,661.8 1381.2,662.5 1381.3,664.6 1381.5,662.4 1381.7,661.1 1381.9,662.9 1382.0,662.3 1382.2,663.7 1382.4,664.2 1382.5,662.7 1382.7,663.1 1382.9,662.1 1383.1,664.2 1383.2,662.3 1383.4,663.0 1383.6,665.3 1383.8,662.1 1383.9,663.2 1384.1,663.0 1384.3,663.5 1384.4,663.5 1384.6,664.5 1384.8,663.5 1385.0,663.6 1385.1,653.6 1385.3,641.7 1385.5,629.8 1385.7,617.8 1385.8,605.9 1386.0,594.0 1386.2,582.1 1386.3,570.1 1386.5,558.2 1386.7,546.3 1386.9,534.4 1387.0,522.4 1387.2,510.5 1387.4,498.6 1387.6,486.7 1387.7,474.7 1387.9,462.8 1388.1,450.9 1388.2,436.7 1388.4,446.7 1388.6,440.3 1388.8,453.8 1388.9,449.3 1389.1,455.2 1389.3,449.7 1389.5,453.8 1389.6,454.0 1389.8,456.8 1390.0,454.6 1390.1,453.3 1390.3,454.7 1390.5,454.1 1390.7,453.5 1390.8,452.8 1391.0,452.3 1391.2,465.0 1391.4,455.6 1391.5,454.6 1391.7,462.2 1391.9,460.0 1392.0,458.8 1392.2,463.1 1392.4,465.5 1392.6,457.0 1392.7,464.2 1392.9,461.7 1393.1,463.5 1393.3,458.7 1393.4,465.1 1393.6,463.6 1393.8,453.7 1393.9,464.0 1394.1,464.2 1394.3,457.5 1394.5,461.8 1394.6,460.7 1394.8,461.7 1395.0,459.4 1395.2,462.7 1395.3,463.0 1395.5,461.3 1395.7,461.5 1395.8,458.5 1396.0,462.8 1396.2,459.7 1396.4,462.0 1396.5,460.8 1396.7,466.1 1396.9,462.2 1397.0,464.4 1397.2,462.4 1397.4,462.4 1397.6,463.5 1397.7,462.6 1397.9,465.6 1398.1,462.6 1398.3,464.9 1398.4,461.6 1398.6,462.0 1398.8,464.0 1398.9,461.6 1399.1,465.7 1399.3,464.1 1399.5,463.6 1399.6,465.8 1399.8,463.1 1400.0,462.9 1400.2,460.7 1400.3,461.6 1400.5,464.1 1400.7,471.8 1400.8,479.4 1401.0,487.1 1401.2,494.7 1401.4,502.3 1401.5,510.0 1401.7,517.6 1401.9,525.2 1402.1,532.9 1402.2,540.5 1402.4,548.1 1402.6,555.8 1402.7,563.4 1402.9,571.0 1403.1,578.7 1403.3,586.3 1403.4,594.0 1403.6,601.6 1403.8,609.2 1404.0,616.9 1404.1,624.5 1404.3,632.1 1404.5,639.8 1404.6,647.4 1404.8,655.0 1405.0,662.7 1405.2,672.9 1405.3,669.5 1405.5,671.0 1405.7,670.0 1405.9,668.6 1406.0,665.7 1406.2,665.8 1406.4,664.7 1406.5,666.3 1406.7,666.2 1406.9,664.6 1407.1,664.6 1407.2,664.5 1407.4,664.8 1407.6,662.1 1407.8,662.1 1407.9,663.8 1408.1,663.5 1408.3,663.5 1408.4,663.1 1408.6,663.8 1408.8,663.5 1409.0,662.4 1409.1,664.7 1409.3,664.1 1409.5,662.8 1409.7,662.9 1409.8,662.3 1410.0,661.6 1410.2,662.0 1410.3,661.6 1410.5,662.4 1410.7,663.3 1410.9,662.9 1411.0,661.6 1411.2,662.8 1411.4,662.4 1411.6,661.9 1411.7,664.1 1411.9,662.0 1412.1,663.9 1412.2,661.3 1412.4,663.3 1412.6,662.3 1412.8,664.0 1412.9,663.4 1413.1,662.2 1413.3,663.6 1413.5,664.3 1413.6,664.3 1413.8,664.5 1414.0,662.7 1414.1,665.1 1414.3,662.4 1414.5,662.9 1414.7,661.5 1414.8,662.8 1415.0,661.6 1415.2,663.1 1415.4,661.3 1415.5,664.9 1415.7,663.8 1415.9,664.6 1416.0,664.2 1416.2,663.2 1416.4,656.9 1416.6,645.0 1416.7,633.0 1416.9,621.1 1417.1,609.2 1417.3,597.3 1417.4,585.3 1417.6,573.4 1417.8,561.5 1417.9,549.6 1418.1,537.6 1418.3,525.7 1418.5,513.8 1418.6,501.9 1418.8,489.9 1419.0,478.0 1419.2,466.1 1419.3,454.2 1419.5,442.2 1419.7,446.5 1419.8,447.1 1420.0,438.9 1420.2,443.7 1420.4,448.7 1420.5,455.9 1420.7,446.4 1420.9,454.3 1421.1,451.8 1421.2,458.1 1421.4,458.7 1421.6,451.8 1421.7,451.9 1421.9,462.8 1422.1,461.5 1422.3,457.6 1422.4,461.2 1422.6,458.5 1422.8,460.3 1423.0,457.4 1423.1,460.9 1423.3,464.9 1423.5,464.2 1423.6,463.7 1423.8,460.1 1424.0,462.9 1424.2,458.6 1424.3,459.2 1424.5,460.7 1424.7,457.2 1424.8,461.0 1425.0,455.9 1425.2,465.0 1425.4,463.0 1425.5,461.6 1425.7,459.3 1425.9,459.7 1426.1,460.3 1426.2,457.5 1426.4,460.4 1426.6,459.5 1426.7,463.3 1426.9,464.3 1427.1,464.5 1427.3,459.3 1427.4,459.5 1427.6,464.4 1427.8,463.3 1428.0,463.8 1428.1,463.2 1428.3,462.7 1428.5,465.3 1428.6,463.6 1428.8,463.4 1429.0,461.4 1429.2,462.9 1429.3,464.5 1429.5,463.6 1429.7,464.1 1429.9,462.8 1430.0,464.0 1430.2,462.5 1430.4,463.1 1430.5,464.7 1430.7,465.6 1430.9,463.2 1431.1,463.4 1431.2,463.5 1431.4,463.6 1431.6,464.0 1431.8,465.1 1431.9,469.7 1432.1,477.3 1432.3,485.0 1432.4,492.6 1432.6,500.2 1432.8,507.9 1433.0,515.5 1433.1,523.1 1433.3,530.8 1433.5,538.4 1433.7,546.0 1433.8,553.7 1434.0,561.3 1434.2,569.0 1434.3,576.6 1434.5,584.2 1434.7,591.9 1434.9,599.5 1435.0,607.1 1435.2,614.8 1435.4,622.4 1435.6,630.0 1435.7,637.7 1435.9,645.3 1436.1,652.9 1436.2,660.6 1436.4,674.0 1436.6,672.0 1436.8,671.0 1436.9,667.6 1437.1,668.2 1437.3,669.5 1437.5,665.8 1437.6,665.6 1437.8,666.0 1438.0,666.3 1438.1,664.7 1438.3,663.6 1438.5,665.9 1438.7,661.8 1438.8,662.1 1439.0,662.3 1439.2,660.7 1439.4,664.4 1439.5,665.0 1439.7,661.5 1439.9,662.6 1440.0,662.8 1440.2,663.7 1440.4,662.8 1440.6,663.6 1440.7,663.5 1440.9,662.9 1441.1,663.1 1441.3,664.4 1441.4,663.2 1441.6,663.7 1441.8,663.0 1441.9,663.7 1442.1,664.6 1442.3,663.1 1442.5,662.5 1442.6,662.3 1442.8,664.0 1443.0,662.2 1443.2,663.5 1443.3,665.5 1443.5,663.2 1443.7,664.8 1443.8,663.0 1444.0,662.9 1444.2,663.6 1444.4,662.1 1444.5,660.6 1444.7,663.0 1444.9,662.3 1445.1,663.2 1445.2,665.0 1445.4,663.6 1445.6,661.5 1445.7,663.4 1445.9,661.2 1446.1,660.8 1446.3,665.2 1446.4,662.1 1446.6,660.8 1446.8,662.9 1447.0,662.8 1447.1,663.5 1447.3,662.8 1447.5,662.8 1447.6,660.1 1447.8,648.2 1448.0,636.3 1448.2,624.4 1448.3,612.4 1448.5,600.5 1448.7,588.6 1448.8,576.7 1449.0,564.7 1449.2,552.8 1449.4,540.9 1449.5,529.0 1449.7,517.0 1449.9,505.1 1450.1,493.2 1450.2,481.3 1450.4,469.3 1450.6,457.4 1450.7,445.5 1450.9,447.9 1451.1,444.8 1451.3,443.7 1451.4,450.5 1451.6,447.5 1451.8,456.4 1452.0,452.5 1452.1,452.4 1452.3,452.1 1452.5,457.4 1452.6,459.7 1452.8,454.7 1453.0,447.2 1453.2,460.0 1453.3,454.2 1453.5,460.0 1453.7,455.6 1453.9,459.8 1454.0,457.5 1454.2,455.8 1454.4,454.2 1454.5,458.8 1454.7,459.8 1454.9,454.0 1455.1,451.6 1455.2,460.6 1455.4,466.8 1455.6,457.6 1455.8,459.4 1455.9,457.1 1456.1,456.8 1456.3,464.7 1456.4,456.2 1456.6,461.4 1456.8,458.9 1457.0,462.4 1457.1,464.9 1457.3,461.5 1457.5,460.5 1457.7,463.8 1457.8,460.8 1458.0,457.6 1458.2,464.3 1458.3,460.7 1458.5,462.2 1458.7,465.9 1458.9,463.6 1459.0,462.6 1459.2,464.8 1459.4,460.8 1459.6,459.9 1459.7,460.8 1459.9,462.6 1460.1,462.8 1460.2,461.8 1460.4,465.4 1460.6,463.8 1460.8,463.1 1460.9,462.1 1461.1,463.0 1461.3,463.5 1461.5,462.8 1461.6,467.0 1461.8,465.6 1462.0,464.3 1462.1,463.6 1462.3,461.5 1462.5,465.1 1462.7,463.0 1462.8,465.3 1463.0,464.5 1463.2,467.6 1463.4,475.2 1463.5,482.9 1463.7,490.5 1463.9,498.1 1464.0,505.8 1464.2,513.4 1464.4,521.0 1464.6,528.7 1464.7,536.3 1464.9,544.0 1465.1,551.6 1465.3,559.2 1465.4,566.9 1465.6,574.5 1465.8,582.1 1465.9,589.8 1466.1,597.4 1466.3,605.0 1466.5,612.7 1466.6,620.3 1466.8,627.9 1467.0,635.6 1467.2,643.2 1467.3,650.9 1467.5,658.5 1467.7,672.9 1467.8,672.5 1468.0,670.8 1468.2,669.5 1468.4,668.6 1468.5,667.9 1468.7,666.8 1468.9,667.2 1469.1,666.4 1469.2,665.2 1469.4,664.9 1469.6,664.4 1469.7,664.0 1469.9,664.1 1470.1,664.3 1470.3,662.7 1470.4,661.1 1470.6,663.1 1470.8,662.1 1471.0,663.0 1471.1,665.6 1471.3,664.1 1471.5,660.6 1471.6,661.2 1471.8,664.0 1472.0,662.2 1472.2,661.4 1472.3,661.3 1472.5,662.9 1472.7,662.2 1472.9,663.0 1473.0,662.7 1473.2,663.0 1473.4,662.6 1473.5,662.2 1473.7,663.7 1473.9,664.6 1474.1,662.1 1474.2,662.9 1474.4,665.1 1474.6,661.9 1474.8,661.9 1474.9,663.6 1475.1,663.9 1475.3,663.0 1475.4,664.2 1475.6,662.9 1475.8,663.2 1476.0,663.0 1476.1,663.4 1476.3,663.0 1476.5,664.5 1476.6,663.8 1476.8,664.7 1477.0,662.9 1477.2,662.2 1477.3,662.4 1477.5,662.6 1477.7,663.4 1477.9,662.6 1478.0,663.3 1478.2,663.5 1478.4,661.8 1478.5,661.6 1478.7,664.4 1478.9,662.4 1479.1,651.5 1479.2,639.6 1479.4,627.6 1479.6,615.7 1479.8,603.8 1479.9,591.9 1480.1,579.9 1480.3,568.0 1480.4,556.1 1480.6,544.2 1480.8,532.2 1481.0,520.3 1481.1,508.4 1481.3,496.5 1481.5,484.5 1481.7,472.6 1481.8,460.7 1482.0,448.8 1482.2,452.6 1482.3,443.6 1482.5,440.1 1482.7,442.8 1482.9,446.0 1483.0,463.4 1483.2,443.4 1483.4,442.3 1483.6,449.7 1483.7,454.8 1483.9,464.9 1484.1,460.1 1484.2,452.3 1484.4,463.2 1484.6,462.4 1484.8,454.9 1484.9,460.1 1485.1,459.6 1485.3,457.8 1485.5,457.0 1485.6,456.8 1485.8,460.7 1486.0,457.4 1486.1,462.4 1486.3,461.9 1486.5,454.5 1486.7,461.2 1486.8,459.5 1487.0,462.5 1487.2,459.2 1487.4,463.8 1487.5,462.9 1487.7,463.1 1487.9,462.4 1488.0,457.2 1488.2,460.8 1488.4,463.8 1488.6,463.3 1488.7,462.6 1488.9,461.3 1489.1,461.3 1489.3,458.6 1489.4,457.9 1489.6,461.3 1489.8,463.3 1489.9,461.4 1490.1,461.0 1490.3,461.7 1490.5,464.3 1490.6,461.2 1490.8,462.1 1491.0,462.8 1491.2,463.9 1491.3,463.1 1491.5,462.0 1491.7,462.0 1491.8,461.3 1492.0,462.6 1492.2,464.2 1492.4,463.3 1492.5,462.6 1492.7,461.8 1492.9,462.8 1493.1,464.3 1493.2,464.3 1493.4,464.1 1493.6,464.7 1493.7,465.3 1493.9,464.1 1494.1,464.7 1494.3,461.5 1494.4,465.5 1494.6,473.1 1494.8,480.8 1495.0,488.4 1495.1,496.0 1495.3,503.7 1495.5,511.3 1495.6,519.0 1495.8,526.6 1496.0,534.2 1496.2,541.9 1496.3,549.5 1496.5,557.1 1496.7,564.8 1496.9,572.4 1497.0,580.0 1497.2,587.7 1497.4,595.3 1497.5,602.9 1497.7,610.6 1497.9,618.2 1498.1,625.9 1498.2,633.5 1498.4,641.1 1498.6,648.8 1498.8,656.4 1498.9,675.4 1499.1,672.6 1499.3,671.6 1499.4,669.1 1499.6,668.6 1499.8,666.8 1500.0,667.1 1500.1,665.5 1500.3,667.0 1500.5,665.2 1500.6,665.3 1500.8,664.2 1501.0,664.4 1501.2,663.6 1501.3,663.2 1501.5,663.5 1501.7,662.3 1501.9,661.9 1502.0,662.6 1502.2,665.3 1502.4,664.1 1502.5,663.3 1502.7,663.3 1502.9,663.3 1503.1,663.5 1503.2,665.4 1503.4,664.6 1503.6,663.2 1503.8,661.3 1503.9,662.1 1504.1,663.3 1504.3,662.6 1504.4,663.5 1504.6,662.7 1504.8,663.5 1505.0,663.5 1505.1,662.6 1505.3,661.8 1505.5,662.7 1505.7,662.4 1505.8,662.1 1506.0,663.1 1506.2,664.3 1506.3,662.7 1506.5,662.7 1506.7,662.0 1506.9,663.3 1507.0,663.3 1507.2,663.3 1507.4,664.6 1507.6,663.3 1507.7,664.1 1507.9,662.7 1508.1,663.4 1508.2,662.2 1508.4,663.8 1508.6,664.5 1508.8,662.1 1508.9,662.2 1509.1,663.3 1509.3,663.1 1509.5,663.9 1509.6,660.4 1509.8,662.5 1510.0,663.6 1510.1,663.3 1510.3,654.8 1510.5,642.8 1510.7,630.9 1510.8,619.0 1511.0,607.1 1511.2,595.1 1511.4,583.2 1511.5,571.3 1511.7,559.4 1511.9,547.4 1512.0,535.5 1512.2,523.6 1512.4,511.7 1512.6,499.7 1512.7,487.8 1512.9,475.9 1513.1,464.0 1513.3,452.0 1513.4,437.2 1513.6,448.3" fill="none" stroke="#e8388c" stroke-width="3.4" stroke-linejoin="round" />
<polyline points="1562.6,662.8 1562.8,663.0 1562.9,662.9 1563.1,662.4 1563.3,663.2 1563.5,663.0 1563.6,664.1 1563.8,662.0 1564.0,665.6 1564.2,659.8 1564.3,663.1 1564.5,663.9 1564.7,662.8 1564.9,662.2 1565.0,662.9 1565.2,663.7 1565.4,664.3 1565.5,661.4 1565.7,663.2 1565.9,662.3 1566.1,664.1 1566.2,662.5 1566.4,663.1 1566.6,664.1 1566.8,662.6 1566.9,663.2 1567.1,662.1 1567.3,662.6 1567.5,660.9 1567.6,662.0 1567.8,662.4 1568.0,662.2 1568.1,665.1 1568.3,660.5 1568.5,660.6 1568.7,663.1 1568.8,663.5 1569.0,663.1 1569.2,664.1 1569.4,665.1 1569.5,662.4 1569.7,661.5 1569.9,662.7 1570.1,664.1 1570.2,663.3 1570.4,662.7 1570.6,663.2 1570.7,663.2 1570.9,661.1 1571.1,663.4 1571.3,662.0 1571.4,662.7 1571.6,662.4 1571.8,663.0 1572.0,663.9 1572.1,662.7 1572.3,663.1 1572.5,663.9 1572.7,663.4 1572.8,662.2 1573.0,663.7 1573.2,662.5 1573.3,662.6 1573.5,663.1 1573.7,664.5 1573.9,662.0 1574.0,662.5 1574.2,663.1 1574.4,662.0 1574.6,663.0 1574.7,664.2 1574.9,661.1 1575.1,663.0 1575.3,662.2 1575.4,665.0 1575.6,663.5 1575.8,663.6 1575.9,662.8 1576.1,653.3 1576.3,639.3 1576.5,625.3 1576.6,611.3 1576.8,597.3 1577.0,583.3 1577.2,569.3 1577.3,555.3 1577.5,541.3 1577.7,527.3 1577.9,513.3 1578.0,499.3 1578.2,485.3 1578.4,471.3 1578.5,457.3 1578.7,451.8 1578.9,456.7 1579.1,459.3 1579.2,460.1 1579.4,465.7 1579.6,464.5 1579.8,461.7 1579.9,463.9 1580.1,466.3 1580.3,463.8 1580.5,466.7 1580.6,466.4 1580.8,468.6 1581.0,469.0 1581.1,468.0 1581.3,472.0 1581.5,468.9 1581.7,471.5 1581.8,468.8 1582.0,469.2 1582.2,470.1 1582.4,470.7 1582.5,472.8 1582.7,469.5 1582.9,474.4 1583.1,470.4 1583.2,474.4 1583.4,472.7 1583.6,472.0 1583.7,473.8 1583.9,472.3 1584.1,473.1 1584.3,473.3 1584.4,476.4 1584.6,472.4 1584.8,475.4 1585.0,473.4 1585.1,473.2 1585.3,473.5 1585.5,475.0 1585.7,474.0 1585.8,473.7 1586.0,474.8 1586.2,474.7 1586.3,475.3 1586.5,474.0 1586.7,475.8 1586.9,475.7 1587.0,474.6 1587.2,474.9 1587.4,475.6 1587.6,475.2 1587.7,476.0 1587.9,476.0 1588.1,475.7 1588.3,475.1 1588.4,474.6 1588.6,482.2 1588.8,493.0 1588.9,503.8 1589.1,514.6 1589.3,525.5 1589.5,536.3 1589.6,547.1 1589.8,557.9 1590.0,568.7 1590.2,579.5 1590.3,590.3 1590.5,601.1 1590.7,611.9 1590.9,622.7 1591.0,633.5 1591.2,644.3 1591.4,655.1 1591.5,659.4 1591.7,658.4 1591.9,661.4 1592.1,662.5 1592.2,661.1 1592.4,662.2 1592.6,662.9 1592.8,662.6 1592.9,660.8 1593.1,661.1 1593.3,661.7 1593.5,662.4 1593.6,661.6 1593.8,662.7 1594.0,663.9 1594.1,662.5 1594.3,662.9 1594.5,661.9 1594.7,662.8 1594.8,663.9 1595.0,664.3 1595.2,663.2 1595.4,662.1 1595.5,665.0 1595.7,660.8 1595.9,662.5 1596.1,662.1 1596.2,662.9 1596.4,663.5 1596.6,662.5 1596.7,666.6 1596.9,665.1 1597.1,663.8 1597.3,662.4 1597.4,661.3 1597.6,664.2 1597.8,663.8 1598.0,663.4 1598.1,664.4 1598.3,663.4 1598.5,661.5 1598.7,661.0 1598.8,662.5 1599.0,663.1 1599.2,663.6 1599.3,663.2 1599.5,662.7 1599.7,662.1 1599.9,663.5 1600.0,663.7 1600.2,662.3 1600.4,661.9 1600.6,662.5 1600.7,661.9 1600.9,663.2 1601.1,661.7 1601.3,663.3 1601.4,662.0 1601.6,663.4 1601.8,665.4 1601.9,661.8 1602.1,663.0 1602.3,665.4 1602.5,663.9 1602.6,663.1 1602.8,663.5 1603.0,662.6 1603.2,661.4 1603.3,660.2 1603.5,662.2 1603.7,662.3 1603.9,664.1 1604.0,663.2 1604.2,661.3 1604.4,663.4 1604.5,661.6 1604.7,664.2 1604.9,661.8 1605.1,663.8 1605.2,663.0 1605.4,662.4 1605.6,664.0 1605.8,662.7 1605.9,660.3 1606.1,663.3 1606.3,661.9 1606.5,662.5 1606.6,663.2 1606.8,663.7 1607.0,663.1 1607.1,661.8 1607.3,661.4 1607.5,647.4 1607.7,633.4 1607.8,619.4 1608.0,605.4 1608.2,591.4 1608.4,577.4 1608.5,563.4 1608.7,549.4 1608.9,535.4 1609.1,521.4 1609.2,507.4 1609.4,493.4 1609.6,479.4 1609.7,465.4 1609.9,451.2 1610.1,452.4 1610.3,456.7 1610.4,457.4 1610.6,462.5 1610.8,460.3 1611.0,465.4 1611.1,468.3 1611.3,466.2 1611.5,465.5 1611.7,469.2 1611.8,465.5 1612.0,467.8 1612.2,471.1 1612.3,470.0 1612.5,469.0 1612.7,469.2 1612.9,469.1 1613.0,473.0 1613.2,474.1 1613.4,473.4 1613.6,471.2 1613.7,471.9 1613.9,470.3 1614.1,470.1 1614.3,473.0 1614.4,473.1 1614.6,470.6 1614.8,470.9 1614.9,473.1 1615.1,471.1 1615.3,474.2 1615.5,474.5 1615.6,472.0 1615.8,473.0 1616.0,474.4 1616.2,474.6 1616.3,473.7 1616.5,473.7 1616.7,473.7 1616.9,474.5 1617.0,474.6 1617.2,474.2 1617.4,474.1 1617.5,474.5 1617.7,474.5 1617.9,474.5 1618.1,474.0 1618.2,475.0 1618.4,475.6 1618.6,475.2 1618.8,476.1 1618.9,475.6 1619.1,476.0 1619.3,476.2 1619.5,474.4 1619.6,476.3 1619.8,476.6 1620.0,486.8 1620.1,497.6 1620.3,508.4 1620.5,519.2 1620.7,530.0 1620.8,540.8 1621.0,551.6 1621.2,562.4 1621.4,573.2 1621.5,584.0 1621.7,594.8 1621.9,605.7 1622.1,616.5 1622.2,627.3 1622.4,638.1 1622.6,648.9 1622.7,659.7 1622.9,658.1 1623.1,658.0 1623.3,659.3 1623.4,660.4 1623.6,661.5 1623.8,659.8 1624.0,661.4 1624.1,660.6 1624.3,662.2 1624.5,662.0 1624.7,662.5 1624.8,661.8 1625.0,662.0 1625.2,663.4 1625.3,661.7 1625.5,662.8 1625.7,662.3 1625.9,662.5 1626.0,662.1 1626.2,664.1 1626.4,663.9 1626.6,662.6 1626.7,665.0 1626.9,663.1 1627.1,664.5 1627.3,661.8 1627.4,662.3 1627.6,662.2 1627.8,665.1 1627.9,663.9 1628.1,662.5 1628.3,663.2 1628.5,662.8 1628.6,662.8 1628.8,662.0 1629.0,663.9 1629.2,663.3 1629.3,662.1 1629.5,663.3 1629.7,663.9 1629.9,663.2 1630.0,662.6 1630.2,663.6 1630.4,663.7 1630.5,665.0 1630.7,662.4 1630.9,663.3 1631.1,662.9 1631.2,662.4 1631.4,663.0 1631.6,661.5 1631.8,662.1 1631.9,661.5 1632.1,663.2 1632.3,662.5 1632.5,661.9 1632.6,662.4 1632.8,663.5 1633.0,662.5 1633.1,660.2 1633.3,665.2 1633.5,662.5 1633.7,663.8 1633.8,661.8 1634.0,662.5 1634.2,663.0 1634.4,663.2 1634.5,662.4 1634.7,664.8 1634.9,662.2 1635.1,662.5 1635.2,665.1 1635.4,663.1 1635.6,661.2 1635.7,663.6 1635.9,663.5 1636.1,664.3 1636.3,665.0 1636.4,663.0 1636.6,664.1 1636.8,663.0 1637.0,662.0 1637.1,662.1 1637.3,662.0 1637.5,661.3 1637.7,664.6 1637.8,662.2 1638.0,661.6 1638.2,662.8 1638.3,661.6 1638.5,664.1 1638.7,655.5 1638.9,641.5 1639.0,627.5 1639.2,613.5 1639.4,599.5 1639.6,585.5 1639.7,571.5 1639.9,557.5 1640.1,543.5 1640.3,529.5 1640.4,515.5 1640.6,501.5 1640.8,487.5 1640.9,473.5 1641.1,459.5 1641.3,459.1 1641.5,457.5 1641.6,457.9 1641.8,458.9 1642.0,462.5 1642.2,464.7 1642.3,466.0 1642.5,463.7 1642.7,466.1 1642.9,463.3 1643.0,467.5 1643.2,469.7 1643.4,470.4 1643.5,466.9 1643.7,466.3 1643.9,473.4 1644.1,470.0 1644.2,469.8 1644.4,471.1 1644.6,470.4 1644.8,472.0 1644.9,472.3 1645.1,470.5 1645.3,469.6 1645.5,471.2 1645.6,467.5 1645.8,473.5 1646.0,471.6 1646.1,471.3 1646.3,473.3 1646.5,473.7 1646.7,472.6 1646.8,472.2 1647.0,471.5 1647.2,472.5 1647.4,472.8 1647.5,472.2 1647.7,473.6 1647.9,474.2 1648.1,473.8 1648.2,475.7 1648.4,474.3 1648.6,474.7 1648.7,476.9 1648.9,475.7 1649.1,474.8 1649.3,475.1 1649.4,474.9 1649.6,475.2 1649.8,475.1 1650.0,474.3 1650.1,474.5 1650.3,476.0 1650.5,476.7 1650.7,475.8 1650.8,475.2 1651.0,475.1 1651.2,480.6 1651.3,491.4 1651.5,502.2 1651.7,513.0 1651.9,523.8 1652.0,534.6 1652.2,545.4 1652.4,556.2 1652.6,567.0 1652.7,577.8 1652.9,588.6 1653.1,599.4 1653.3,610.2 1653.4,621.0 1653.6,631.8 1653.8,642.6 1653.9,653.4 1654.1,660.6 1654.3,661.6 1654.5,661.4 1654.6,660.6 1654.8,660.5 1655.0,662.4 1655.2,661.3 1655.3,660.8 1655.5,659.6 1655.7,661.5 1655.9,662.1 1656.0,661.5 1656.2,664.0 1656.4,661.6 1656.5,663.8 1656.7,663.2 1656.9,662.7 1657.1,663.8 1657.2,661.7 1657.4,664.4 1657.6,662.4 1657.8,662.5 1657.9,663.5 1658.1,663.2 1658.3,662.1 1658.5,663.9 1658.6,661.9 1658.8,663.0 1659.0,662.2 1659.1,662.8 1659.3,663.7 1659.5,662.8 1659.7,662.0 1659.8,664.1 1660.0,663.5 1660.2,662.1 1660.4,662.5 1660.5,662.4 1660.7,665.6 1660.9,663.2 1661.1,664.5 1661.2,663.7 1661.4,663.8 1661.6,663.2 1661.7,660.9 1661.9,662.8 1662.1,663.3 1662.3,662.2 1662.4,664.7 1662.6,663.1 1662.8,662.9 1663.0,660.7 1663.1,664.0 1663.3,664.1 1663.5,661.5 1663.7,661.6 1663.8,664.0 1664.0,661.6 1664.2,663.2 1664.3,662.7 1664.5,664.4 1664.7,662.9 1664.9,663.5 1665.0,662.7 1665.2,660.9 1665.4,662.8 1665.6,664.3 1665.7,662.7 1665.9,663.2 1666.1,662.9 1666.3,663.6 1666.4,663.5 1666.6,664.1 1666.8,661.9 1666.9,661.0 1667.1,664.0 1667.3,662.4 1667.5,662.9 1667.6,664.5 1667.8,662.4 1668.0,664.7 1668.2,662.9 1668.3,660.9 1668.5,662.9 1668.7,663.1 1668.9,663.1 1669.0,662.8 1669.2,665.4 1669.4,664.4 1669.5,663.9 1669.7,662.5 1669.9,662.9 1670.1,649.5 1670.2,635.5 1670.4,621.5 1670.6,607.5 1670.8,593.5 1670.9,579.5 1671.1,565.5 1671.3,551.5 1671.5,537.5 1671.6,523.5 1671.8,509.5 1672.0,495.5 1672.1,481.5 1672.3,467.5 1672.5,453.5 1672.7,456.2 1672.8,461.0 1673.0,455.3 1673.2,463.7 1673.4,464.8 1673.5,464.1 1673.7,465.2 1673.9,463.9 1674.1,465.6 1674.2,469.4 1674.4,468.8 1674.6,470.5 1674.7,470.0 1674.9,468.2 1675.1,471.3 1675.3,473.1 1675.4,473.4 1675.6,471.6 1675.8,468.1 1676.0,472.4 1676.1,468.4 1676.3,474.2 1676.5,470.6 1676.7,470.3 1676.8,473.8 1677.0,473.1 1677.2,472.6 1677.3,474.6 1677.5,472.4 1677.7,473.7 1677.9,473.6 1678.0,473.8 1678.2,473.9 1678.4,474.0 1678.6,471.7 1678.7,473.2 1678.9,473.9 1679.1,473.1 1679.3,474.7 1679.4,473.8 1679.6,473.4 1679.8,474.7 1679.9,473.9 1680.1,474.2 1680.3,474.5 1680.5,474.4 1680.6,475.0 1680.8,475.6 1681.0,474.7 1681.2,475.4 1681.3,475.1 1681.5,475.3 1681.7,474.9 1681.9,476.0 1682.0,475.5 1682.2,475.7 1682.4,475.6 1682.5,485.1 1682.7,495.9 1682.9,506.8 1683.1,517.6 1683.2,528.4 1683.4,539.2 1683.6,550.0 1683.8,560.8 1683.9,571.6 1684.1,582.4 1684.3,593.2 1684.5,604.0 1684.6,614.8 1684.8,625.6 1685.0,636.4 1685.1,647.2 1685.3,658.0 1685.5,658.4 1685.7,660.4 1685.8,660.2 1686.0,659.4 1686.2,662.2 1686.4,663.1 1686.5,661.0 1686.7,662.7 1686.9,661.4 1687.1,662.4 1687.2,663.1 1687.4,661.5 1687.6,661.4 1687.7,662.0 1687.9,663.3 1688.1,663.6 1688.3,662.4 1688.4,663.1 1688.6,664.9 1688.8,663.2 1689.0,661.5 1689.1,663.4 1689.3,661.7 1689.5,662.3 1689.7,662.3 1689.8,664.1 1690.0,665.1 1690.2,664.3 1690.3,664.1 1690.5,662.3 1690.7,664.5 1690.9,664.4 1691.0,662.0 1691.2,665.0 1691.4,663.3 1691.6,663.1 1691.7,663.8 1691.9,664.9 1692.1,662.8 1692.3,664.0 1692.4,664.6 1692.6,662.9 1692.8,664.4 1692.9,663.2 1693.1,662.6 1693.3,663.2 1693.5,663.5 1693.6,664.4 1693.8,664.7 1694.0,663.9 1694.2,663.2 1694.3,663.1 1694.5,662.8 1694.7,661.2 1694.9,663.5 1695.0,664.6 1695.2,662.1 1695.4,663.3 1695.5,663.1 1695.7,662.9 1695.9,661.9 1696.1,661.5 1696.2,663.1 1696.4,663.3 1696.6,662.2 1696.8,663.8 1696.9,662.8 1697.1,663.3 1697.3,662.7 1697.5,664.3 1697.6,663.3 1697.8,663.0 1698.0,661.6 1698.1,665.1 1698.3,663.9 1698.5,664.9 1698.7,662.0 1698.8,663.0 1699.0,662.9 1699.2,662.4 1699.4,663.2 1699.5,663.1 1699.7,664.1 1699.9,663.9 1700.1,661.9 1700.2,663.9 1700.4,662.9 1700.6,664.5 1700.7,664.0 1700.9,663.9 1701.1,662.2 1701.3,657.6 1701.4,643.6 1701.6,629.6 1701.8,615.6 1702.0,601.6 1702.1,587.6 1702.3,573.6 1702.5,559.6 1702.7,545.6 1702.8,531.6 1703.0,517.6 1703.2,503.6 1703.3,489.6 1703.5,475.6 1703.7,461.6 1703.9,454.3 1704.0,459.6 1704.2,458.0 1704.4,462.1 1704.6,458.1 1704.7,460.5 1704.9,463.6 1705.1,463.7 1705.3,463.5 1705.4,467.8 1705.6,466.8 1705.8,468.4 1705.9,468.1 1706.1,470.8 1706.3,465.7 1706.5,465.8 1706.6,470.6 1706.8,472.5 1707.0,470.8 1707.2,471.7 1707.3,470.8 1707.5,473.0 1707.7,472.3 1707.9,470.7 1708.0,474.4 1708.2,471.4 1708.4,470.1 1708.5,474.1 1708.7,472.6 1708.9,473.0 1709.1,471.4 1709.2,473.5 1709.4,473.1 1709.6,473.2 1709.8,475.0 1709.9,473.7 1710.1,474.6 1710.3,473.4 1710.5,474.0 1710.6,473.6 1710.8,474.7 1711.0,474.9 1711.1,474.7 1711.3,474.4 1711.5,473.7 1711.7,474.5 1711.8,476.0 1712.0,475.1 1712.2,475.5 1712.4,476.3 1712.5,475.1 1712.7,475.3 1712.9,475.7 1713.1,476.2 1713.2,476.7 1713.4,476.2 1713.6,475.6 1713.7,478.9 1713.9,489.7 1714.1,500.5 1714.3,511.3 1714.4,522.1 1714.6,532.9 1714.8,543.7 1715.0,554.5 1715.1,565.3 1715.3,576.1 1715.5,587.0 1715.7,597.8 1715.8,608.6 1716.0,619.4 1716.2,630.2 1716.3,641.0 1716.5,651.8 1716.7,662.6 1716.9,659.9 1717.0,660.5 1717.2,662.1 1717.4,659.9 1717.6,661.8 1717.7,661.8 1717.9,662.6 1718.1,662.1 1718.3,663.2 1718.4,662.4 1718.6,662.6" fill="none" stroke="#f8b81f" stroke-width="3.4" stroke-linejoin="round" />
<polyline points="1562.6,465.4 1562.8,453.6 1562.9,441.9 1563.1,451.8 1563.3,444.7 1563.5,453.3 1563.6,446.3 1563.8,456.9 1564.0,453.9 1564.2,461.5 1564.3,459.7 1564.5,456.9 1564.7,456.1 1564.9,459.9 1565.0,458.2 1565.2,455.4 1565.4,461.6 1565.5,450.3 1565.7,459.7 1565.9,468.0 1566.1,462.4 1566.2,455.8 1566.4,464.7 1566.6,461.8 1566.8,459.4 1566.9,459.6 1567.1,462.2 1567.3,464.5 1567.5,461.8 1567.6,467.3 1567.8,460.6 1568.0,464.8 1568.1,458.5 1568.3,457.7 1568.5,462.6 1568.7,463.6 1568.8,467.4 1569.0,462.4 1569.2,463.9 1569.4,460.8 1569.5,463.6 1569.7,464.7 1569.9,462.9 1570.1,465.7 1570.2,466.3 1570.4,465.0 1570.6,464.0 1570.7,463.9 1570.9,465.2 1571.1,463.0 1571.3,465.7 1571.4,463.8 1571.6,465.0 1571.8,463.4 1572.0,463.7 1572.1,463.9 1572.3,465.7 1572.5,465.2 1572.7,465.3 1572.8,466.5 1573.0,464.3 1573.2,466.6 1573.3,464.9 1573.5,464.6 1573.7,465.1 1573.9,467.2 1574.0,468.0 1574.2,466.7 1574.4,475.2 1574.6,483.7 1574.7,492.3 1574.9,500.8 1575.1,509.3 1575.3,517.9 1575.4,526.4 1575.6,534.9 1575.8,543.5 1575.9,552.0 1576.1,560.6 1576.3,569.1 1576.5,577.6 1576.6,586.2 1576.8,594.7 1577.0,603.2 1577.2,611.8 1577.3,620.3 1577.5,628.9 1577.7,637.4 1577.9,645.9 1578.0,654.5 1578.2,663.0 1578.4,670.9 1578.5,669.0 1578.7,667.4 1578.9,668.1 1579.1,667.7 1579.2,667.0 1579.4,666.3 1579.6,666.9 1579.8,665.2 1579.9,665.2 1580.1,664.2 1580.3,663.3 1580.5,661.9 1580.6,663.9 1580.8,662.4 1581.0,662.5 1581.1,662.4 1581.3,663.1 1581.5,663.1 1581.7,660.8 1581.8,662.6 1582.0,663.4 1582.2,663.3 1582.4,662.8 1582.5,663.2 1582.7,661.4 1582.9,663.4 1583.1,662.7 1583.2,663.1 1583.4,663.7 1583.6,663.1 1583.7,661.9 1583.9,661.0 1584.1,662.5 1584.3,663.0 1584.4,663.2 1584.6,664.0 1584.8,663.4 1585.0,663.3 1585.1,661.2 1585.3,663.8 1585.5,663.2 1585.7,665.1 1585.8,663.8 1586.0,662.3 1586.2,663.1 1586.3,663.6 1586.5,662.1 1586.7,661.4 1586.9,663.4 1587.0,662.5 1587.2,662.8 1587.4,663.1 1587.6,662.7 1587.7,663.8 1587.9,663.3 1588.1,663.3 1588.3,663.9 1588.4,663.0 1588.6,661.8 1588.8,663.0 1588.9,661.7 1589.1,663.2 1589.3,661.8 1589.5,663.0 1589.6,664.2 1589.8,663.7 1590.0,662.2 1590.2,661.6 1590.3,662.6 1590.5,664.0 1590.7,663.6 1590.9,661.5 1591.0,661.2 1591.2,649.4 1591.4,637.6 1591.5,625.8 1591.7,614.0 1591.9,602.1 1592.1,590.3 1592.2,578.5 1592.4,566.7 1592.6,554.9 1592.8,543.1 1592.9,531.3 1593.1,519.5 1593.3,507.7 1593.5,495.9 1593.6,484.1 1593.8,472.3 1594.0,460.4 1594.1,448.6 1594.3,450.7 1594.5,449.7 1594.7,453.5 1594.8,457.9 1595.0,448.8 1595.2,456.3 1595.4,455.5 1595.5,460.3 1595.7,455.1 1595.9,451.1 1596.1,458.3 1596.2,462.2 1596.4,457.6 1596.6,458.1 1596.7,460.1 1596.9,459.3 1597.1,458.6 1597.3,458.9 1597.4,465.9 1597.6,459.4 1597.8,461.7 1598.0,465.1 1598.1,465.1 1598.3,456.5 1598.5,459.5 1598.7,458.3 1598.8,461.8 1599.0,455.8 1599.2,458.5 1599.3,462.2 1599.5,463.6 1599.7,459.8 1599.9,463.5 1600.0,466.1 1600.2,460.9 1600.4,466.1 1600.6,463.2 1600.7,458.8 1600.9,463.8 1601.1,463.9 1601.3,466.5 1601.4,462.6 1601.6,467.1 1601.8,463.9 1601.9,465.0 1602.1,463.9 1602.3,465.0 1602.5,466.1 1602.6,464.5 1602.8,463.9 1603.0,465.5 1603.2,464.5 1603.3,465.2 1603.5,466.2 1603.7,465.3 1603.9,465.6 1604.0,465.5 1604.2,465.5 1604.4,466.5 1604.5,467.0 1604.7,466.0 1604.9,463.6 1605.1,464.0 1605.2,466.9 1605.4,467.8 1605.6,470.3 1605.8,478.8 1605.9,487.3 1606.1,495.9 1606.3,504.4 1606.5,513.0 1606.6,521.5 1606.8,530.0 1607.0,538.6 1607.1,547.1 1607.3,555.6 1607.5,564.2 1607.7,572.7 1607.8,581.2 1608.0,589.8 1608.2,598.3 1608.4,606.9 1608.5,615.4 1608.7,623.9 1608.9,632.5 1609.1,641.0 1609.2,649.5 1609.4,658.1 1609.6,673.6 1609.7,670.4 1609.9,669.8 1610.1,668.0 1610.3,668.1 1610.4,666.9 1610.6,665.3 1610.8,666.4 1611.0,665.4 1611.1,667.1 1611.3,665.8 1611.5,662.9 1611.7,665.1 1611.8,663.1 1612.0,663.2 1612.2,662.9 1612.3,661.7 1612.5,666.1 1612.7,663.9 1612.9,662.2 1613.0,664.2 1613.2,660.8 1613.4,664.3 1613.6,663.2 1613.7,663.3 1613.9,664.0 1614.1,663.3 1614.3,663.6 1614.4,662.1 1614.6,663.5 1614.8,662.8 1614.9,663.6 1615.1,662.9 1615.3,663.5 1615.5,662.6 1615.6,661.8 1615.8,662.3 1616.0,664.0 1616.2,662.8 1616.3,663.2 1616.5,662.7 1616.7,664.0 1616.9,662.3 1617.0,660.4 1617.2,662.4 1617.4,662.5 1617.5,664.3 1617.7,662.3 1617.9,662.6 1618.1,663.6 1618.2,663.8 1618.4,662.7 1618.6,664.3 1618.8,662.7 1618.9,663.2 1619.1,662.2 1619.3,660.9 1619.5,662.4 1619.6,662.4 1619.8,662.2 1620.0,665.4 1620.1,661.5 1620.3,663.6 1620.5,664.6 1620.7,663.8 1620.8,663.6 1621.0,662.5 1621.2,662.5 1621.4,664.4 1621.5,664.7 1621.7,662.5 1621.9,663.5 1622.1,663.1 1622.2,663.8 1622.4,656.2 1622.6,644.4 1622.7,632.6 1622.9,620.8 1623.1,609.0 1623.3,597.1 1623.4,585.3 1623.6,573.5 1623.8,561.7 1624.0,549.9 1624.1,538.1 1624.3,526.3 1624.5,514.5 1624.7,502.7 1624.8,490.9 1625.0,479.1 1625.2,467.3 1625.3,455.4 1625.5,442.0 1625.7,452.4 1625.9,447.5 1626.0,452.2 1626.2,449.1 1626.4,458.2 1626.6,453.0 1626.7,458.0 1626.9,455.9 1627.1,460.5 1627.3,459.4 1627.4,468.4 1627.6,455.4 1627.8,462.4 1627.9,457.4 1628.1,460.3 1628.3,453.7 1628.5,464.9 1628.6,452.2 1628.8,463.7 1629.0,455.8 1629.2,460.3 1629.3,463.2 1629.5,459.2 1629.7,463.0 1629.9,461.9 1630.0,460.3 1630.2,463.5 1630.4,466.7 1630.5,463.5 1630.7,462.8 1630.9,463.2 1631.1,462.8 1631.2,466.2 1631.4,465.3 1631.6,463.0 1631.8,464.3 1631.9,461.3 1632.1,463.5 1632.3,464.3 1632.5,463.7 1632.6,463.7 1632.8,465.7 1633.0,465.2 1633.1,465.2 1633.3,460.6 1633.5,464.6 1633.7,463.4 1633.8,463.7 1634.0,464.6 1634.2,465.4 1634.4,462.3 1634.5,466.8 1634.7,465.6 1634.9,464.8 1635.1,463.8 1635.2,463.5 1635.4,467.1 1635.6,464.4 1635.7,465.1 1635.9,465.1 1636.1,465.4 1636.3,468.7 1636.4,468.0 1636.6,464.5 1636.8,464.9 1637.0,473.9 1637.1,482.4 1637.3,491.0 1637.5,499.5 1637.7,508.0 1637.8,516.6 1638.0,525.1 1638.2,533.6 1638.3,542.2 1638.5,550.7 1638.7,559.2 1638.9,567.8 1639.0,576.3 1639.2,584.9 1639.4,593.4 1639.6,601.9 1639.7,610.5 1639.9,619.0 1640.1,627.5 1640.3,636.1 1640.4,644.6 1640.6,653.1 1640.8,661.7 1640.9,673.1 1641.1,670.5 1641.3,668.1 1641.5,667.6 1641.6,668.3 1641.8,666.4 1642.0,666.0 1642.2,669.3 1642.3,665.7 1642.5,664.0 1642.7,665.1 1642.9,663.2 1643.0,663.4 1643.2,663.5 1643.4,661.8 1643.5,663.3 1643.7,663.0 1643.9,662.9 1644.1,663.9 1644.2,664.2 1644.4,662.9 1644.6,664.3 1644.8,664.4 1644.9,662.6 1645.1,664.0 1645.3,661.9 1645.5,661.8 1645.6,663.0 1645.8,664.0 1646.0,665.3 1646.1,663.1 1646.3,664.3 1646.5,661.7 1646.7,663.4 1646.8,664.3 1647.0,662.5 1647.2,663.2 1647.4,663.5 1647.5,665.0 1647.7,661.9 1647.9,662.2 1648.1,663.9 1648.2,664.0 1648.4,663.5 1648.6,662.6 1648.7,663.2 1648.9,665.3 1649.1,662.8 1649.3,664.1 1649.4,664.4 1649.6,662.2 1649.8,662.7 1650.0,663.8 1650.1,663.0 1650.3,663.3 1650.5,662.4 1650.7,662.9 1650.8,662.9 1651.0,664.9 1651.2,663.3 1651.3,663.3 1651.5,664.3 1651.7,663.5 1651.9,663.0 1652.0,663.8 1652.2,661.4 1652.4,662.8 1652.6,663.3 1652.7,662.9 1652.9,662.9 1653.1,663.1 1653.3,662.1 1653.4,664.2 1653.6,662.4 1653.8,651.2 1653.9,639.4 1654.1,627.6 1654.3,615.8 1654.5,604.0 1654.6,592.2 1654.8,580.3 1655.0,568.5 1655.2,556.7 1655.3,544.9 1655.5,533.1 1655.7,521.3 1655.9,509.5 1656.0,497.7 1656.2,485.9 1656.4,474.1 1656.5,462.3 1656.7,450.5 1656.9,450.6 1657.1,443.3 1657.2,462.3 1657.4,454.8 1657.6,443.3 1657.8,446.2 1657.9,448.3 1658.1,454.2 1658.3,454.7 1658.5,463.9 1658.6,465.1 1658.8,451.7 1659.0,456.4 1659.1,451.1 1659.3,456.3 1659.5,460.4 1659.7,462.1 1659.8,461.5 1660.0,466.3 1660.2,457.3 1660.4,458.6 1660.5,462.2 1660.7,464.7 1660.9,461.2 1661.1,463.1 1661.2,467.1 1661.4,460.6 1661.6,463.0 1661.7,459.7 1661.9,465.1 1662.1,458.5 1662.3,463.4 1662.4,469.0 1662.6,463.2 1662.8,462.3 1663.0,463.9 1663.1,463.8 1663.3,462.8 1663.5,462.4 1663.7,463.9 1663.8,464.1 1664.0,462.3 1664.2,464.4 1664.3,463.0 1664.5,463.7 1664.7,463.5 1664.9,462.4 1665.0,461.6 1665.2,466.5 1665.4,463.2 1665.6,463.8 1665.7,464.8 1665.9,465.9 1666.1,464.7 1666.3,463.9 1666.4,466.1 1666.6,466.0 1666.8,464.6 1666.9,465.4 1667.1,465.6 1667.3,468.4 1667.5,466.2 1667.6,464.5 1667.8,465.9 1668.0,464.1 1668.2,469.0 1668.3,477.5 1668.5,486.0 1668.7,494.6 1668.9,503.1 1669.0,511.6 1669.2,520.2 1669.4,528.7 1669.5,537.2 1669.7,545.8 1669.9,554.3 1670.1,562.9 1670.2,571.4 1670.4,579.9 1670.6,588.5 1670.8,597.0 1670.9,605.5 1671.1,614.1 1671.3,622.6 1671.5,631.2 1671.6,639.7 1671.8,648.2 1672.0,656.8 1672.1,673.0 1672.3,672.2 1672.5,671.0 1672.7,669.2 1672.8,667.3 1673.0,666.9 1673.2,665.6 1673.4,665.8 1673.5,663.8 1673.7,662.5 1673.9,664.8 1674.1,664.1 1674.2,663.1 1674.4,663.3 1674.6,664.6 1674.7,662.6 1674.9,663.8 1675.1,663.5 1675.3,662.0 1675.4,664.6 1675.6,664.0 1675.8,662.1 1676.0,663.1 1676.1,661.9 1676.3,662.8 1676.5,664.1 1676.7,662.6 1676.8,662.2 1677.0,663.5 1677.2,662.0 1677.3,663.1 1677.5,664.2 1677.7,663.6 1677.9,662.3 1678.0,662.5 1678.2,664.1 1678.4,664.7 1678.6,662.5 1678.7,662.9 1678.9,662.3 1679.1,661.9 1679.3,662.0 1679.4,662.6 1679.6,664.2 1679.8,664.2 1679.9,664.9 1680.1,662.3 1680.3,661.7 1680.5,663.7 1680.6,661.5 1680.8,662.2 1681.0,664.1 1681.2,664.1 1681.3,664.1 1681.5,662.1 1681.7,663.9 1681.9,663.4 1682.0,662.3 1682.2,663.7 1682.4,664.7 1682.5,662.5 1682.7,665.1 1682.9,663.5 1683.1,662.8 1683.2,660.8 1683.4,662.1 1683.6,662.2 1683.8,661.8 1683.9,663.7 1684.1,663.8 1684.3,663.0 1684.5,663.0 1684.6,662.8 1684.8,662.2 1685.0,658.0 1685.1,646.2 1685.3,634.4 1685.5,622.6 1685.7,610.8 1685.8,599.0 1686.0,587.2 1686.2,575.3 1686.4,563.5 1686.5,551.7 1686.7,539.9 1686.9,528.1 1687.1,516.3 1687.2,504.5 1687.4,492.7 1687.6,480.9 1687.7,469.1 1687.9,457.3 1688.1,445.5 1688.3,445.0 1688.4,457.7 1688.6,446.5 1688.8,455.7 1689.0,456.8 1689.1,453.9 1689.3,458.7 1689.5,454.8 1689.7,455.3 1689.8,456.4 1690.0,462.3 1690.2,457.6 1690.3,448.5 1690.5,459.4 1690.7,458.8 1690.9,460.2 1691.0,459.7 1691.2,461.1 1691.4,467.7 1691.6,462.6 1691.7,462.3 1691.9,456.1 1692.1,459.5 1692.3,459.3 1692.4,459.5 1692.6,460.9 1692.8,458.6 1692.9,458.7 1693.1,460.8 1693.3,464.0 1693.5,461.7 1693.6,464.3 1693.8,467.0 1694.0,460.8 1694.2,462.7 1694.3,464.2 1694.5,459.7 1694.7,463.4 1694.9,462.7 1695.0,466.8 1695.2,462.9 1695.4,464.7 1695.5,464.9 1695.7,461.6 1695.9,462.3 1696.1,465.7 1696.2,463.4 1696.4,466.5 1696.6,463.6 1696.8,463.2 1696.9,464.1 1697.1,466.4 1697.3,465.0 1697.5,468.3 1697.6,463.1 1697.8,464.4 1698.0,465.8 1698.1,465.6 1698.3,465.0 1698.5,466.2 1698.7,464.4 1698.8,466.9 1699.0,465.9 1699.2,465.3 1699.4,465.7 1699.5,472.6 1699.7,481.1 1699.9,489.6 1700.1,498.2 1700.2,506.7 1700.4,515.2 1700.6,523.8 1700.7,532.3 1700.9,540.9 1701.1,549.4 1701.3,557.9 1701.4,566.5 1701.6,575.0 1701.8,583.5 1702.0,592.1 1702.1,600.6 1702.3,609.2 1702.5,617.7 1702.7,626.2 1702.8,634.8 1703.0,643.3 1703.2,651.8 1703.3,660.4 1703.5,671.4 1703.7,670.5 1703.9,667.3 1704.0,668.0 1704.2,666.5 1704.4,665.8 1704.6,667.4 1704.7,665.9 1704.9,664.8 1705.1,664.7 1705.3,666.6 1705.4,664.4 1705.6,663.4 1705.8,664.1 1705.9,663.3 1706.1,662.6 1706.3,664.9 1706.5,662.4 1706.6,662.7 1706.8,663.3 1707.0,663.4 1707.2,662.6 1707.3,663.4 1707.5,664.0 1707.7,663.8 1707.9,663.1 1708.0,663.1 1708.2,664.7 1708.4,663.4 1708.5,662.9 1708.7,662.9 1708.9,664.9 1709.1,662.4 1709.2,665.1 1709.4,663.1 1709.6,663.7 1709.8,663.0 1709.9,663.9 1710.1,663.9 1710.3,662.6 1710.5,662.4 1710.6,661.5 1710.8,662.1 1711.0,663.6 1711.1,663.2 1711.3,663.0 1711.5,662.9 1711.7,662.8 1711.8,663.8 1712.0,662.9 1712.2,662.9 1712.4,664.4 1712.5,663.0 1712.7,662.9 1712.9,662.7 1713.1,662.5 1713.2,662.5 1713.4,663.6 1713.6,661.6 1713.7,662.5 1713.9,662.5 1714.1,660.3 1714.3,663.7 1714.4,661.5 1714.6,662.9 1714.8,663.1 1715.0,662.2 1715.1,662.1 1715.3,665.5 1715.5,662.8 1715.7,662.4 1715.8,662.1 1716.0,662.8 1716.2,662.3 1716.3,653.0 1716.5,641.2 1716.7,629.4 1716.9,617.6 1717.0,605.8 1717.2,594.0 1717.4,582.2 1717.6,570.4 1717.7,558.5 1717.9,546.7 1718.1,534.9 1718.3,523.1 1718.4,511.3 1718.6,499.5" fill="none" stroke="#e8388c" stroke-width="3.4" stroke-linejoin="round" />
<line x1="1153.5" y1="667.7" x2="1157.5" y2="667.7" stroke="#9a9a9a" stroke-width="1.1" />
<line x1="1305.0" y1="667.7" x2="1309.0" y2="667.7" stroke="#9a9a9a" stroke-width="1.1" />
<line x1="1153.5" y1="614.5" x2="1157.5" y2="614.5" stroke="#9a9a9a" stroke-width="1.1" />
<line x1="1305.0" y1="614.5" x2="1309.0" y2="614.5" stroke="#9a9a9a" stroke-width="1.1" />
<line x1="1153.5" y1="561.3" x2="1157.5" y2="561.3" stroke="#9a9a9a" stroke-width="1.1" />
<line x1="1305.0" y1="561.3" x2="1309.0" y2="561.3" stroke="#9a9a9a" stroke-width="1.1" />
<line x1="1153.5" y1="508.1" x2="1157.5" y2="508.1" stroke="#9a9a9a" stroke-width="1.1" />
<line x1="1305.0" y1="508.1" x2="1309.0" y2="508.1" stroke="#9a9a9a" stroke-width="1.1" />
<line x1="1153.5" y1="454.9" x2="1157.5" y2="454.9" stroke="#9a9a9a" stroke-width="1.1" />
<line x1="1305.0" y1="454.9" x2="1309.0" y2="454.9" stroke="#9a9a9a" stroke-width="1.1" />
<line x1="1184.6" y1="428.4" x2="1184.6" y2="432.4" stroke="#9a9a9a" stroke-width="1.1" />
<line x1="1184.6" y1="667.7" x2="1184.6" y2="663.7" stroke="#9a9a9a" stroke-width="1.1" />
<line x1="1215.7" y1="428.4" x2="1215.7" y2="432.4" stroke="#9a9a9a" stroke-width="1.1" />
<line x1="1215.7" y1="667.7" x2="1215.7" y2="663.7" stroke="#9a9a9a" stroke-width="1.1" />
<line x1="1246.8" y1="428.4" x2="1246.8" y2="432.4" stroke="#9a9a9a" stroke-width="1.1" />
<line x1="1246.8" y1="667.7" x2="1246.8" y2="663.7" stroke="#9a9a9a" stroke-width="1.1" />
<line x1="1277.9" y1="428.4" x2="1277.9" y2="432.4" stroke="#9a9a9a" stroke-width="1.1" />
<line x1="1277.9" y1="667.7" x2="1277.9" y2="663.7" stroke="#9a9a9a" stroke-width="1.1" />
<rect x="1153.5" y="428.4" width="155.5" height="239.3" fill="none" stroke="#9a9a9a" stroke-width="1.2"/>
<line x1="1357.6" y1="667.7" x2="1361.6" y2="667.7" stroke="#9a9a9a" stroke-width="1.1" />
<line x1="1510.2" y1="667.7" x2="1514.2" y2="667.7" stroke="#9a9a9a" stroke-width="1.1" />
<line x1="1357.6" y1="614.5" x2="1361.6" y2="614.5" stroke="#9a9a9a" stroke-width="1.1" />
<line x1="1510.2" y1="614.5" x2="1514.2" y2="614.5" stroke="#9a9a9a" stroke-width="1.1" />
<line x1="1357.6" y1="561.3" x2="1361.6" y2="561.3" stroke="#9a9a9a" stroke-width="1.1" />
<line x1="1510.2" y1="561.3" x2="1514.2" y2="561.3" stroke="#9a9a9a" stroke-width="1.1" />
<line x1="1357.6" y1="508.1" x2="1361.6" y2="508.1" stroke="#9a9a9a" stroke-width="1.1" />
<line x1="1510.2" y1="508.1" x2="1514.2" y2="508.1" stroke="#9a9a9a" stroke-width="1.1" />
<line x1="1357.6" y1="454.9" x2="1361.6" y2="454.9" stroke="#9a9a9a" stroke-width="1.1" />
<line x1="1510.2" y1="454.9" x2="1514.2" y2="454.9" stroke="#9a9a9a" stroke-width="1.1" />
<line x1="1388.9" y1="428.4" x2="1388.9" y2="432.4" stroke="#9a9a9a" stroke-width="1.1" />
<line x1="1388.9" y1="667.7" x2="1388.9" y2="663.7" stroke="#9a9a9a" stroke-width="1.1" />
<line x1="1420.2" y1="428.4" x2="1420.2" y2="432.4" stroke="#9a9a9a" stroke-width="1.1" />
<line x1="1420.2" y1="667.7" x2="1420.2" y2="663.7" stroke="#9a9a9a" stroke-width="1.1" />
<line x1="1451.6" y1="428.4" x2="1451.6" y2="432.4" stroke="#9a9a9a" stroke-width="1.1" />
<line x1="1451.6" y1="667.7" x2="1451.6" y2="663.7" stroke="#9a9a9a" stroke-width="1.1" />
<line x1="1482.9" y1="428.4" x2="1482.9" y2="432.4" stroke="#9a9a9a" stroke-width="1.1" />
<line x1="1482.9" y1="667.7" x2="1482.9" y2="663.7" stroke="#9a9a9a" stroke-width="1.1" />
<rect x="1357.6" y="428.4" width="156.6" height="239.3" fill="none" stroke="#9a9a9a" stroke-width="1.2"/>
<line x1="1562.0" y1="667.7" x2="1566.0" y2="667.7" stroke="#9a9a9a" stroke-width="1.1" />
<line x1="1715.2" y1="667.7" x2="1719.2" y2="667.7" stroke="#9a9a9a" stroke-width="1.1" />
<line x1="1562.0" y1="614.5" x2="1566.0" y2="614.5" stroke="#9a9a9a" stroke-width="1.1" />
<line x1="1715.2" y1="614.5" x2="1719.2" y2="614.5" stroke="#9a9a9a" stroke-width="1.1" />
<line x1="1562.0" y1="561.3" x2="1566.0" y2="561.3" stroke="#9a9a9a" stroke-width="1.1" />
<line x1="1715.2" y1="561.3" x2="1719.2" y2="561.3" stroke="#9a9a9a" stroke-width="1.1" />
<line x1="1562.0" y1="508.1" x2="1566.0" y2="508.1" stroke="#9a9a9a" stroke-width="1.1" />
<line x1="1715.2" y1="508.1" x2="1719.2" y2="508.1" stroke="#9a9a9a" stroke-width="1.1" />
<line x1="1562.0" y1="454.9" x2="1566.0" y2="454.9" stroke="#9a9a9a" stroke-width="1.1" />
<line x1="1715.2" y1="454.9" x2="1719.2" y2="454.9" stroke="#9a9a9a" stroke-width="1.1" />
<line x1="1593.4" y1="428.4" x2="1593.4" y2="432.4" stroke="#9a9a9a" stroke-width="1.1" />
<line x1="1593.4" y1="667.7" x2="1593.4" y2="663.7" stroke="#9a9a9a" stroke-width="1.1" />
<line x1="1624.9" y1="428.4" x2="1624.9" y2="432.4" stroke="#9a9a9a" stroke-width="1.1" />
<line x1="1624.9" y1="667.7" x2="1624.9" y2="663.7" stroke="#9a9a9a" stroke-width="1.1" />
<line x1="1656.3" y1="428.4" x2="1656.3" y2="432.4" stroke="#9a9a9a" stroke-width="1.1" />
<line x1="1656.3" y1="667.7" x2="1656.3" y2="663.7" stroke="#9a9a9a" stroke-width="1.1" />
<line x1="1687.8" y1="428.4" x2="1687.8" y2="432.4" stroke="#9a9a9a" stroke-width="1.1" />
<line x1="1687.8" y1="667.7" x2="1687.8" y2="663.7" stroke="#9a9a9a" stroke-width="1.1" />
<rect x="1562" y="428.4" width="157.2" height="239.3" fill="none" stroke="#9a9a9a" stroke-width="1.2"/>
<text x="1130.9" y="465.9" font-size="28" fill="#1a1a1a" stroke="#1a1a1a" stroke-width="0.3" text-anchor="start" >4</text>
<text x="1131.5" y="571.2" font-size="28" fill="#1a1a1a" stroke="#1a1a1a" stroke-width="0.3" text-anchor="start" >2</text>
<text x="1131.2" y="670.5" font-size="28" fill="#1a1a1a" stroke="#1a1a1a" stroke-width="0.3" text-anchor="start" >0</text>
<text x="1148.0" y="696.9" font-size="28" fill="#1a1a1a" stroke="#1a1a1a" stroke-width="0.3">0</text>
<text x="1214.7" y="696.9" font-size="28" fill="#1a1a1a" stroke="#1a1a1a" stroke-width="0.3">0.5</text>
<text x="1300.0" y="696.9" font-size="28" fill="#1a1a1a" stroke="#1a1a1a" stroke-width="0.3">1</text>
<text x="1354.1" y="696.9" font-size="28" fill="#1a1a1a" stroke="#1a1a1a" stroke-width="0.3">0</text>
<text x="1424.9" y="696.9" font-size="28" fill="#1a1a1a" stroke="#1a1a1a" stroke-width="0.3">0.5</text>
<text x="1506.2" y="696.9" font-size="28" fill="#1a1a1a" stroke="#1a1a1a" stroke-width="0.3">1</text>
<text x="1559.0" y="696.9" font-size="28" fill="#1a1a1a" stroke="#1a1a1a" stroke-width="0.3">0</text>
<text x="1625.5" y="696.9" font-size="28" fill="#1a1a1a" stroke="#1a1a1a" stroke-width="0.3">0.5</text>
<text x="1711.7" y="696.9" font-size="28" fill="#1a1a1a" stroke="#1a1a1a" stroke-width="0.3">1</text>
<text x="-2.7" y="0" font-size="33.2" fill="#1a1a1a" stroke="#1a1a1a" stroke-width="0.3" textLength="217.6" lengthAdjust="spacingAndGlyphs" transform="translate(1108.0,656.8) rotate(-90)">Distance (mm)</text>
<text x="1391.9" y="735.2" font-size="33.2" fill="#1a1a1a" stroke="#1a1a1a" stroke-width="0.3" textLength="122.4" lengthAdjust="spacingAndGlyphs" >Time (s)</text>
<text x="661.3" y="781.0" font-size="64" font-weight="bold" fill="#111" stroke="#111" stroke-width="0.3" textLength="53.5" lengthAdjust="spacingAndGlyphs" >c.</text>
<line x1="897.1" y1="941.1" x2="897.1" y2="998.1" stroke="#8a8a8a" stroke-width="1.6" />
<line x1="897.1" y1="1119.0" x2="897.1" y2="1137.1" stroke="#8a8a8a" stroke-width="1.6" />
<line x1="877.1" y1="941.1" x2="917.1" y2="941.1" stroke="#8a8a8a" stroke-width="1.6" />
<line x1="877.1" y1="1137.1" x2="917.1" y2="1137.1" stroke="#8a8a8a" stroke-width="1.6" />
<rect x="876.0" y="999.6" width="42.3" height="117.9" rx="7" fill="#fde9bf" stroke="#f5b41c" stroke-width="3.3"/>
<line x1="877.5" y1="1103.4" x2="916.8" y2="1103.4" stroke="#111" stroke-width="2" />
<line x1="1070.2" y1="883.7" x2="1070.2" y2="939.4" stroke="#8a8a8a" stroke-width="1.6" />
<line x1="1070.2" y1="1127.2" x2="1070.2" y2="1152.2" stroke="#8a8a8a" stroke-width="1.6" />
<line x1="1050.2" y1="883.7" x2="1090.2" y2="883.7" stroke="#8a8a8a" stroke-width="1.6" />
<line x1="1050.2" y1="1152.2" x2="1090.2" y2="1152.2" stroke="#8a8a8a" stroke-width="1.6" />
<rect x="1049.5" y="940.9" width="41.4" height="184.8" rx="7" fill="#f8c6df" stroke="#e8388c" stroke-width="3.3"/>
<line x1="1051.0" y1="1108.2" x2="1089.4" y2="1108.2" stroke="#111" stroke-width="2" />
<line x1="1242.2" y1="791.8" x2="1242.2" y2="867.3" stroke="#8a8a8a" stroke-width="1.6" />
<line x1="1242.2" y1="1055.1" x2="1242.2" y2="1118.2" stroke="#8a8a8a" stroke-width="1.6" />
<line x1="1222.2" y1="791.8" x2="1262.2" y2="791.8" stroke="#8a8a8a" stroke-width="1.6" />
<line x1="1222.2" y1="1118.2" x2="1262.2" y2="1118.2" stroke="#8a8a8a" stroke-width="1.6" />
<rect x="1221.4" y="868.8" width="41.5" height="184.8" rx="7" fill="#bfe2e4" stroke="#1fa0a3" stroke-width="3.3"/>
<line x1="1222.9" y1="1030.1" x2="1261.4" y2="1030.1" stroke="#111" stroke-width="2" />
<line x1="1414.4" y1="1062.9" x2="1414.4" y2="1066.8" stroke="#8a8a8a" stroke-width="1.6" />
<line x1="1414.4" y1="1145.8" x2="1414.4" y2="1182.5" stroke="#8a8a8a" stroke-width="1.6" />
<line x1="1394.4" y1="1062.9" x2="1434.4" y2="1062.9" stroke="#8a8a8a" stroke-width="1.6" />
<line x1="1394.4" y1="1182.5" x2="1434.4" y2="1182.5" stroke="#8a8a8a" stroke-width="1.6" />
<rect x="1393.2" y="1068.3" width="42.4" height="76.0" rx="7" fill="#cbdcf0" stroke="#4a90d9" stroke-width="3.3"/>
<line x1="1394.7" y1="1088.8" x2="1434.1" y2="1088.8" stroke="#111" stroke-width="2" />
<line x1="1587.1" y1="1003.3" x2="1587.1" y2="1036.1" stroke="#8a8a8a" stroke-width="1.6" />
<line x1="1587.1" y1="1165.2" x2="1587.1" y2="1170.4" stroke="#8a8a8a" stroke-width="1.6" />
<line x1="1567.1" y1="1003.3" x2="1607.1" y2="1003.3" stroke="#8a8a8a" stroke-width="1.6" />
<line x1="1567.1" y1="1170.4" x2="1607.1" y2="1170.4" stroke="#8a8a8a" stroke-width="1.6" />
<rect x="1565.9" y="1037.6" width="42.3" height="126.1" rx="7" fill="#d7c8e6" stroke="#5e2f96" stroke-width="3.3"/>
<line x1="1567.4" y1="1143.6" x2="1606.7" y2="1143.6" stroke="#111" stroke-width="2" />
<line x1="810.6" y1="786.6" x2="817.6" y2="786.6" stroke="#555" stroke-width="1.5" />
<line x1="1666.6" y1="786.6" x2="1673.6" y2="786.6" stroke="#555" stroke-width="1.5" />
<line x1="810.6" y1="863.0" x2="817.6" y2="863.0" stroke="#555" stroke-width="1.5" />
<line x1="1666.6" y1="863.0" x2="1673.6" y2="863.0" stroke="#555" stroke-width="1.5" />
<line x1="810.6" y1="939.4" x2="817.6" y2="939.4" stroke="#555" stroke-width="1.5" />
<line x1="1666.6" y1="939.4" x2="1673.6" y2="939.4" stroke="#555" stroke-width="1.5" />
<line x1="810.6" y1="1015.8" x2="817.6" y2="1015.8" stroke="#555" stroke-width="1.5" />
<line x1="1666.6" y1="1015.8" x2="1673.6" y2="1015.8" stroke="#555" stroke-width="1.5" />
<line x1="810.6" y1="1092.2" x2="817.6" y2="1092.2" stroke="#555" stroke-width="1.5" />
<line x1="1666.6" y1="1092.2" x2="1673.6" y2="1092.2" stroke="#555" stroke-width="1.5" />
<line x1="810.6" y1="1168.6" x2="817.6" y2="1168.6" stroke="#555" stroke-width="1.5" />
<line x1="1666.6" y1="1168.6" x2="1673.6" y2="1168.6" stroke="#555" stroke-width="1.5" />
<line x1="896.9" y1="772.0" x2="896.9" y2="779.0" stroke="#555" stroke-width="1.5" />
<line x1="896.9" y1="1202.3" x2="896.9" y2="1195.3" stroke="#555" stroke-width="1.5" />
<line x1="1069.6" y1="772.0" x2="1069.6" y2="779.0" stroke="#555" stroke-width="1.5" />
<line x1="1069.6" y1="1202.3" x2="1069.6" y2="1195.3" stroke="#555" stroke-width="1.5" />
<line x1="1242.2" y1="772.0" x2="1242.2" y2="779.0" stroke="#555" stroke-width="1.5" />
<line x1="1242.2" y1="1202.3" x2="1242.2" y2="1195.3" stroke="#555" stroke-width="1.5" />
<line x1="1414.2" y1="772.0" x2="1414.2" y2="779.0" stroke="#555" stroke-width="1.5" />
<line x1="1414.2" y1="1202.3" x2="1414.2" y2="1195.3" stroke="#555" stroke-width="1.5" />
<line x1="1586.9" y1="772.0" x2="1586.9" y2="779.0" stroke="#555" stroke-width="1.5" />
<line x1="1586.9" y1="1202.3" x2="1586.9" y2="1195.3" stroke="#555" stroke-width="1.5" />
<rect x="810.6" y="772" width="863.0" height="430.3" fill="none" stroke="#555" stroke-width="1.6"/>
<text x="743.0" y="873.2" font-size="29" fill="#1a1a1a" stroke="#1a1a1a" stroke-width="0.3" textLength="57.2" lengthAdjust="spacingAndGlyphs" >0.25</text>
<text x="743.0" y="1026.0" font-size="29" fill="#1a1a1a" stroke="#1a1a1a" stroke-width="0.3" textLength="57.2" lengthAdjust="spacingAndGlyphs" >0.15</text>
<text x="743.0" y="1178.8" font-size="29" fill="#1a1a1a" stroke="#1a1a1a" stroke-width="0.3" textLength="57.2" lengthAdjust="spacingAndGlyphs" >0.05</text>
<text x="-1.9" y="0" font-size="38" fill="#1a1a1a" stroke="#1a1a1a" stroke-width="0.3" textLength="207.4" lengthAdjust="spacingAndGlyphs" transform="translate(719.5,1096.4) rotate(-90)">Current (µA)</text>
<text x="899.5" y="1243.0" font-size="36" fill="#1a1a1a" stroke="#1a1a1a" stroke-width="0.3" text-anchor="middle" >Left</text>
<text x="899.5" y="1288.0" font-size="36" fill="#1a1a1a" stroke="#1a1a1a" stroke-width="0.3" text-anchor="middle" >single</text>
<text x="1075.0" y="1243.0" font-size="36" fill="#1a1a1a" stroke="#1a1a1a" stroke-width="0.3" text-anchor="middle" >Right</text>
<text x="1077.0" y="1288.0" font-size="36" fill="#1a1a1a" stroke="#1a1a1a" stroke-width="0.3" text-anchor="middle" >single</text>
<text x="1189.5" y="1243.0" font-size="36" fill="#1a1a1a" stroke="#1a1a1a" stroke-width="0.3" textLength="113.9" lengthAdjust="spacingAndGlyphs" >0° shift</text>
<text x="1357.6" y="1243.0" font-size="36" fill="#1a1a1a" stroke="#1a1a1a" stroke-width="0.3" textLength="135.8" lengthAdjust="spacingAndGlyphs" >90° shift</text>
<text x="1524.8" y="1243.0" font-size="36" fill="#1a1a1a" stroke="#1a1a1a" stroke-width="0.3" textLength="157.2" lengthAdjust="spacingAndGlyphs" >180° shift</text></svg></body></html>
